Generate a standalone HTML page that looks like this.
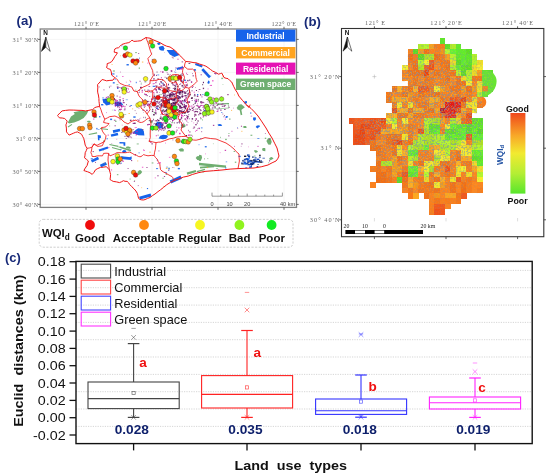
<!DOCTYPE html>
<html lang="en"><head><meta charset="utf-8"><title>Figure</title>
<style>html,body{margin:0;padding:0;background:#fff}body{width:550px;height:475px;overflow:hidden}svg{display:block}</style>
</head><body>
<svg width="550" height="475" viewBox="0 0 550 475">
<rect width="550" height="475" fill="#fff"/>
<g id="pa">
<line x1="86" y1="29.0" x2="86" y2="207.4" stroke="#efefef" stroke-width="0.6"/>
<line x1="152" y1="29.0" x2="152" y2="207.4" stroke="#efefef" stroke-width="0.6"/>
<line x1="218" y1="29.0" x2="218" y2="207.4" stroke="#efefef" stroke-width="0.6"/>
<line x1="284" y1="29.0" x2="284" y2="207.4" stroke="#efefef" stroke-width="0.6"/>
<line x1="40.2" y1="39.4" x2="296.5" y2="39.4" stroke="#f0f0f0" stroke-width="0.6"/>
<line x1="40.2" y1="72.4" x2="296.5" y2="72.4" stroke="#f0f0f0" stroke-width="0.6"/>
<line x1="40.2" y1="105.4" x2="296.5" y2="105.4" stroke="#f0f0f0" stroke-width="0.6"/>
<line x1="40.2" y1="138.4" x2="296.5" y2="138.4" stroke="#f0f0f0" stroke-width="0.6"/>
<line x1="40.2" y1="171.4" x2="296.5" y2="171.4" stroke="#f0f0f0" stroke-width="0.6"/>
<line x1="40.2" y1="204.4" x2="296.5" y2="204.4" stroke="#f0f0f0" stroke-width="0.6"/>
<g id="map_a">
<polygon points="67.8,122.4 71.0,116.6 74.8,114.1 73.5,112.2 79.3,110.9 88.2,110.9 86.9,114.1 83.7,117.9 79.3,120.5 74.2,122.4 69.1,123.6" fill="#6fae70" stroke="none" stroke-width="0" />
<polygon points="88.9,135.1 97.2,133.5 97.0,132.3 88.7,133.9" fill="#6fae70" stroke="none" stroke-width="0" />
<polygon points="109.3,145.1 118.2,147.0 118.4,145.8 109.5,143.9" fill="#6fae70" stroke="none" stroke-width="0" />
<polygon points="119.3,147.8 130.8,151.4 131.2,149.8 119.7,146.2" fill="#6fae70" stroke="none" stroke-width="0" />
<polygon points="111.9,148.0 120.9,150.5 121.1,149.5 112.1,147.0" fill="#6fae70" stroke="none" stroke-width="0" />
<polygon points="198.9,165.2 225.9,167.8 226.1,165.4 199.1,162.8" fill="#6fae70" stroke="none" stroke-width="0" />
<polygon points="200.1,168.4 214.1,167.2 213.9,165.6 199.9,166.8" fill="#6fae70" stroke="none" stroke-width="0" />
<polygon points="187.3,174.7 196.3,172.1 195.7,169.9 186.7,172.5" fill="#6fae70" stroke="none" stroke-width="0" />
<polygon points="217.0,105.1 229.0,104.1 229.0,103.1 217.0,104.1" fill="#6fae70" stroke="none" stroke-width="0" />
<polygon points="238.7,105.2 240.7,115.2 242.3,114.8 240.3,104.8" fill="#6fae70" stroke="none" stroke-width="0" />
<polygon points="100.0,129.1 108.0,129.9 108.0,128.9 100.0,128.1" fill="#6fae70" stroke="none" stroke-width="0" />
<polygon points="68.3,127.4 72.3,124.8 71.7,124.0 67.7,126.6" fill="#6fae70" stroke="none" stroke-width="0" />
<polygon points="204.8,168.8 196.8,171.0 197.2,172.2 205.2,170.0" fill="#6fae70" stroke="none" stroke-width="0" />
<polygon points="90.9,121.5 89.9,122.2 88.1,122.4 86.9,121.7 87.7,120.8 89.7,120.8" fill="#6fae70" stroke="none" stroke-width="0" />
<polygon points="142.2,172.0 140.7,174.0 138.1,175.2 137.5,172.1 139.1,170.2 140.8,170.2" fill="#6fae70" stroke="none" stroke-width="0" />
<polygon points="183.9,149.5 183.6,151.6 180.2,151.5 178.5,149.6 180.3,148.5 182.3,148.2" fill="#6fae70" stroke="none" stroke-width="0" />
<polygon points="200.9,158.4 200.0,160.2 197.4,160.0 195.7,158.0 197.0,156.3 200.1,155.9" fill="#6fae70" stroke="none" stroke-width="0" />
<polygon points="185.7,126.2 184.1,127.5 182.1,128.0 181.0,126.3 181.7,124.3 185.0,124.3" fill="#6fae70" stroke="none" stroke-width="0" />
<polygon points="271.7,142.0 270.6,144.8 268.2,144.4 266.4,140.9 268.1,138.2 270.5,137.8" fill="#6fae70" stroke="none" stroke-width="0" />
<polygon points="273.6,158.6 271.7,159.7 270.0,160.0 269.1,158.8 270.1,157.6 271.8,156.9" fill="#6fae70" stroke="none" stroke-width="0" />
<polygon points="246.7,126.9 246.3,128.0 244.3,127.9 242.5,127.0 244.1,125.9 245.8,126.1" fill="#6fae70" stroke="none" stroke-width="0" />
<polygon points="244.9,107.3 241.2,110.1 239.0,110.2 236.6,107.9 238.7,104.8 241.4,104.3" fill="#6fae70" stroke="none" stroke-width="0" />
<polygon points="202.1,157.8 200.7,161.1 198.9,160.8 198.5,157.8 199.2,154.7 201.5,155.2" fill="#6fae70" stroke="none" stroke-width="0" />
<polygon points="130.8,147.4 130.0,148.8 127.2,148.5 125.6,147.6 126.8,146.6 128.8,146.4" fill="#6fae70" stroke="none" stroke-width="0" />
<polygon points="96.8,116.9 96.6,117.9 94.1,117.7 93.2,117.1 94.2,116.4 96.6,116.0" fill="#6fae70" stroke="none" stroke-width="0" />
<polygon points="258.0,151.5 257.0,152.4 255.2,152.7 254.4,151.3 254.3,150.1 256.8,150.5" fill="#6fae70" stroke="none" stroke-width="0" />
<polygon points="265.4,149.5 265.3,151.2 262.6,150.8 262.2,149.6 262.6,148.1 265.2,148.0" fill="#6fae70" stroke="none" stroke-width="0" />
<polygon points="152.7,121.4 152.3,123.3 150.4,122.9 149.8,121.3 150.6,120.3 152.0,120.5" fill="#6fae70" stroke="none" stroke-width="0" />
<path d="M213 104 L228 103.4 L229 108 L216 109 Z" fill="none" stroke="#6fae70" stroke-width="0.6"/>
<rect x="136.7" y="143.5" width="2.1" height="0.9" fill="#6fae70" opacity="0.85"/>
<rect x="129.7" y="80.6" width="0.9" height="0.7" fill="#6fae70" opacity="0.85"/>
<rect x="202.3" y="171.5" width="1.9" height="0.9" fill="#6fae70" opacity="0.85"/>
<rect x="207.5" y="158.0" width="0.7" height="1.1" fill="#6fae70" opacity="0.85"/>
<rect x="253.8" y="155.6" width="1.8" height="0.9" fill="#6fae70" opacity="0.85"/>
<rect x="122.1" y="156.5" width="1.1" height="1.2" fill="#6fae70" opacity="0.85"/>
<rect x="162.2" y="177.8" width="1.8" height="0.7" fill="#6fae70" opacity="0.85"/>
<rect x="112.9" y="70.4" width="2.0" height="1.2" fill="#6fae70" opacity="0.85"/>
<rect x="116.3" y="161.6" width="2.2" height="1.1" fill="#6fae70" opacity="0.85"/>
<rect x="153.1" y="124.1" width="0.8" height="0.5" fill="#6fae70" opacity="0.85"/>
<rect x="264.8" y="137.7" width="1.4" height="1.3" fill="#6fae70" opacity="0.85"/>
<rect x="168.1" y="167.7" width="1.9" height="0.7" fill="#6fae70" opacity="0.85"/>
<rect x="135.3" y="89.6" width="1.0" height="1.0" fill="#6fae70" opacity="0.85"/>
<rect x="136.7" y="106.6" width="0.8" height="1.3" fill="#6fae70" opacity="0.85"/>
<rect x="153.7" y="111.9" width="1.5" height="1.3" fill="#6fae70" opacity="0.85"/>
<rect x="165.7" y="173.9" width="1.4" height="1.0" fill="#6fae70" opacity="0.85"/>
<rect x="169.2" y="74.7" width="0.6" height="1.2" fill="#6fae70" opacity="0.85"/>
<rect x="121.0" y="113.9" width="1.8" height="1.0" fill="#6fae70" opacity="0.85"/>
<rect x="148.7" y="120.0" width="1.5" height="1.2" fill="#6fae70" opacity="0.85"/>
<rect x="109.1" y="125.6" width="1.0" height="0.7" fill="#6fae70" opacity="0.85"/>
<rect x="229.0" y="118.5" width="1.5" height="1.2" fill="#6fae70" opacity="0.85"/>
<rect x="200.3" y="118.2" width="1.4" height="1.1" fill="#6fae70" opacity="0.85"/>
<rect x="171.4" y="122.0" width="1.4" height="1.3" fill="#6fae70" opacity="0.85"/>
<rect x="215.9" y="168.3" width="2.1" height="0.7" fill="#6fae70" opacity="0.85"/>
<rect x="111.9" y="109.7" width="0.7" height="0.7" fill="#6fae70" opacity="0.85"/>
<rect x="103.2" y="140.4" width="1.9" height="1.3" fill="#6fae70" opacity="0.85"/>
<rect x="117.8" y="146.7" width="1.7" height="0.6" fill="#6fae70" opacity="0.85"/>
<rect x="129.5" y="178.6" width="1.2" height="0.9" fill="#6fae70" opacity="0.85"/>
<rect x="268.2" y="162.4" width="0.9" height="0.9" fill="#6fae70" opacity="0.85"/>
<rect x="182.8" y="95.8" width="0.9" height="0.8" fill="#6fae70" opacity="0.85"/>
<rect x="189.7" y="109.5" width="0.6" height="0.8" fill="#6fae70" opacity="0.85"/>
<rect x="202.3" y="119.2" width="0.7" height="1.4" fill="#6fae70" opacity="0.85"/>
<rect x="108.9" y="85.9" width="0.7" height="1.2" fill="#6fae70" opacity="0.85"/>
<rect x="138.7" y="67.5" width="1.3" height="1.3" fill="#6fae70" opacity="0.85"/>
<rect x="116.9" y="174.1" width="1.5" height="1.1" fill="#6fae70" opacity="0.85"/>
<rect x="213.9" y="107.4" width="0.7" height="1.3" fill="#6fae70" opacity="0.85"/>
<rect x="204.2" y="158.2" width="0.7" height="1.3" fill="#6fae70" opacity="0.85"/>
<rect x="102.0" y="166.5" width="1.3" height="0.8" fill="#6fae70" opacity="0.85"/>
<rect x="189.6" y="175.1" width="1.0" height="0.6" fill="#6fae70" opacity="0.85"/>
<rect x="184.8" y="82.2" width="0.8" height="0.6" fill="#6fae70" opacity="0.85"/>
<rect x="146.2" y="91.2" width="1.8" height="0.8" fill="#6fae70" opacity="0.85"/>
<rect x="180.0" y="74.0" width="1.2" height="0.5" fill="#6fae70" opacity="0.85"/>
<rect x="135.1" y="52.1" width="1.8" height="1.0" fill="#6fae70" opacity="0.85"/>
<rect x="124.1" y="114.1" width="2.1" height="0.6" fill="#6fae70" opacity="0.85"/>
<rect x="237.4" y="108.3" width="1.4" height="1.3" fill="#6fae70" opacity="0.85"/>
<rect x="160.8" y="118.4" width="1.7" height="1.4" fill="#6fae70" opacity="0.85"/>
<rect x="151.7" y="162.4" width="1.7" height="1.1" fill="#6fae70" opacity="0.85"/>
<rect x="162.8" y="96.9" width="0.7" height="0.6" fill="#6fae70" opacity="0.85"/>
<rect x="102.7" y="150.0" width="1.0" height="0.6" fill="#6fae70" opacity="0.85"/>
<rect x="105.2" y="163.6" width="2.0" height="1.1" fill="#6fae70" opacity="0.85"/>
<rect x="140.7" y="82.7" width="1.1" height="0.9" fill="#6fae70" opacity="0.85"/>
<rect x="118.4" y="110.2" width="1.0" height="1.4" fill="#6fae70" opacity="0.85"/>
<rect x="134.0" y="180.4" width="1.1" height="0.8" fill="#6fae70" opacity="0.85"/>
<rect x="175.4" y="117.9" width="0.9" height="1.0" fill="#6fae70" opacity="0.85"/>
<rect x="106.2" y="103.9" width="0.7" height="0.5" fill="#6fae70" opacity="0.85"/>
<rect x="144.8" y="81.4" width="1.5" height="1.0" fill="#6fae70" opacity="0.85"/>
<rect x="225.1" y="138.8" width="1.7" height="1.3" fill="#6fae70" opacity="0.85"/>
<rect x="160.1" y="94.0" width="2.2" height="0.6" fill="#6fae70" opacity="0.85"/>
<rect x="220.3" y="136.8" width="0.7" height="1.3" fill="#6fae70" opacity="0.85"/>
<rect x="250.5" y="134.7" width="1.8" height="1.2" fill="#6fae70" opacity="0.85"/>
<rect x="115.1" y="120.7" width="1.4" height="1.3" fill="#6fae70" opacity="0.85"/>
<rect x="234.8" y="161.6" width="1.5" height="1.3" fill="#6fae70" opacity="0.85"/>
<rect x="212.9" y="143.6" width="1.0" height="0.5" fill="#6fae70" opacity="0.85"/>
<rect x="114.0" y="98.7" width="0.8" height="1.3" fill="#6fae70" opacity="0.85"/>
<rect x="190.5" y="134.7" width="1.6" height="1.1" fill="#6fae70" opacity="0.85"/>
<rect x="233.6" y="151.0" width="1.4" height="1.0" fill="#6fae70" opacity="0.85"/>
<rect x="222.6" y="84.0" width="0.7" height="0.7" fill="#6fae70" opacity="0.85"/>
<rect x="221.3" y="77.7" width="1.8" height="1.4" fill="#6fae70" opacity="0.85"/>
<rect x="178.9" y="101.6" width="1.4" height="1.1" fill="#6fae70" opacity="0.85"/>
<rect x="228.1" y="133.3" width="1.6" height="0.6" fill="#6fae70" opacity="0.85"/>
<rect x="116.5" y="84.3" width="1.8" height="0.8" fill="#6fae70" opacity="0.85"/>
<polygon points="166.6,50.0 174.3,50.0 179.4,55.1 174.3,57.0 169.8,54.5" fill="#1763ea" stroke="none" stroke-width="0" />
<polygon points="97.7,135.0 100.9,135.4 100.9,138.0 99.4,138.2 99.6,140.2 98.0,140.2" fill="#1763ea" stroke="none" stroke-width="0" />
<polygon points="119.5,142.0 125.3,142.2 125.3,145.7 123.6,145.7 123.4,143.6 119.5,143.4" fill="#1763ea" stroke="none" stroke-width="0" />
<polygon points="177.1,70.0 183.5,68.2 182.9,66.2 176.5,68.0" fill="#1763ea" stroke="none" stroke-width="0" />
<polygon points="195.0,64.9 202.0,67.4 202.6,65.6 195.6,63.1" fill="#1763ea" stroke="none" stroke-width="0" />
<polygon points="201.3,70.0 208.9,78.3 210.9,76.5 203.3,68.2" fill="#1763ea" stroke="none" stroke-width="0" />
<polygon points="99.4,151.6 108.4,148.4 107.6,146.4 98.6,149.6" fill="#1763ea" stroke="none" stroke-width="0" />
<polygon points="92.1,162.6 99.1,159.2 97.9,156.8 90.9,160.2" fill="#1763ea" stroke="none" stroke-width="0" />
<polygon points="171.1,183.6 181.9,178.8 180.5,175.6 169.7,180.4" fill="#1763ea" stroke="none" stroke-width="0" />
<polygon points="120.7,158.9 130.9,159.9 131.1,157.3 120.9,156.3" fill="#1763ea" stroke="none" stroke-width="0" />
<polygon points="101.1,167.3 106.8,164.7 105.6,162.1 99.9,164.7" fill="#1763ea" stroke="none" stroke-width="0" />
<polygon points="139.9,199.6 151.4,196.4 150.6,193.6 139.1,196.8" fill="#1763ea" stroke="none" stroke-width="0" />
<polygon points="113.3,132.9 120.3,131.3 119.7,128.7 112.7,130.3" fill="#1763ea" stroke="none" stroke-width="0" />
<polygon points="111.3,136.8 118.3,135.2 117.7,132.8 110.7,134.4" fill="#1763ea" stroke="none" stroke-width="0" />
<polygon points="160.4,43.5 160.3,44.4 158.4,45.1 157.4,44.0 157.2,42.9 158.6,42.4 160.2,42.7" fill="#1763ea" stroke="none" stroke-width="0" />
<polygon points="196.2,70.2 195.7,70.6 194.6,71.2 194.2,70.4 193.8,69.6 194.7,69.0 195.5,69.1" fill="#1763ea" stroke="none" stroke-width="0" />
<polygon points="209.7,82.3 209.4,83.5 208.2,83.8 207.3,83.1 207.9,81.6 208.2,80.6 209.4,81.0" fill="#1763ea" stroke="none" stroke-width="0" />
<polygon points="110.5,101.0 110.2,104.6 106.4,105.5 103.2,102.3 102.4,99.2 106.2,98.4 109.0,98.8" fill="#1763ea" stroke="none" stroke-width="0" />
<polygon points="123.1,104.6 121.5,106.1 118.6,106.2 115.1,106.1 114.3,102.7 117.9,101.6 121.0,102.1" fill="#1763ea" stroke="none" stroke-width="0" />
<polygon points="126.5,151.3 125.2,152.7 123.3,153.0 122.0,151.7 122.7,150.8 123.7,150.1 125.5,150.3" fill="#1763ea" stroke="none" stroke-width="0" />
<polygon points="167.9,136.8 166.0,138.7 162.9,139.2 158.6,138.4 160.2,135.7 163.2,134.8 167.2,135.2" fill="#1763ea" stroke="none" stroke-width="0" />
<polygon points="143.8,131.0 144.4,135.4 138.5,135.2 132.7,133.1 135.6,130.0 138.1,128.3 141.9,128.7" fill="#1763ea" stroke="none" stroke-width="0" />
<polygon points="163.0,124.2 162.5,128.5 158.0,128.2 155.4,126.5 155.7,123.2 157.9,121.4 161.8,122.6" fill="#1763ea" stroke="none" stroke-width="0" />
<polygon points="256.1,119.0 255.1,120.4 254.3,120.7 253.2,119.9 253.0,117.6 254.4,117.6 255.3,117.0" fill="#1763ea" stroke="none" stroke-width="0" />
<polygon points="259.9,126.7 258.8,127.3 257.5,128.4 255.7,127.1 256.6,125.7 257.4,125.4 259.4,125.2" fill="#1763ea" stroke="none" stroke-width="0" />
<polygon points="222.2,125.2 221.3,125.9 219.6,126.0 218.1,125.7 217.6,124.6 219.7,124.1 220.9,124.3" fill="#1763ea" stroke="none" stroke-width="0" />
<polygon points="228.2,117.1 227.3,117.5 226.1,118.0 225.4,117.4 225.6,116.7 226.1,116.1 227.7,116.3" fill="#1763ea" stroke="none" stroke-width="0" />
<polygon points="247.0,102.7 246.4,103.4 244.8,104.0 244.6,103.0 244.0,101.8 245.2,101.3 246.8,101.1" fill="#1763ea" stroke="none" stroke-width="0" />
<polygon points="131.7,157.8 131.6,159.4 130.8,159.6 129.9,158.7 130.3,157.3 131.0,156.2 131.6,156.8" fill="#1763ea" stroke="none" stroke-width="0" />
<polygon points="164.4,48.2 163.7,50.8 161.1,50.5 159.5,49.8 158.7,46.9 160.7,46.3 163.2,45.8" fill="#1763ea" stroke="none" stroke-width="0" />
<rect x="101.1" y="104.0" width="2.2" height="1.4" fill="#1763ea" opacity="0.9"/>
<rect x="212.9" y="101.8" width="1.3" height="0.8" fill="#1763ea" opacity="0.9"/>
<rect x="121.3" y="45.4" width="1.1" height="0.9" fill="#1763ea" opacity="0.9"/>
<rect x="156.0" y="168.2" width="2.1" height="0.9" fill="#1763ea" opacity="0.9"/>
<rect x="99.1" y="116.0" width="1.3" height="1.4" fill="#1763ea" opacity="0.9"/>
<rect x="125.7" y="99.6" width="2.2" height="0.5" fill="#1763ea" opacity="0.9"/>
<rect x="166.0" y="166.8" width="2.0" height="0.5" fill="#1763ea" opacity="0.9"/>
<rect x="152.7" y="85.8" width="2.3" height="1.1" fill="#1763ea" opacity="0.9"/>
<rect x="138.5" y="152.5" width="1.2" height="0.8" fill="#1763ea" opacity="0.9"/>
<rect x="90.7" y="158.3" width="2.2" height="1.1" fill="#1763ea" opacity="0.9"/>
<rect x="133.3" y="116.3" width="2.3" height="1.5" fill="#1763ea" opacity="0.9"/>
<rect x="161.5" y="82.7" width="1.4" height="1.0" fill="#1763ea" opacity="0.9"/>
<rect x="238.5" y="155.8" width="2.1" height="1.3" fill="#1763ea" opacity="0.9"/>
<rect x="202.3" y="94.2" width="1.2" height="0.9" fill="#1763ea" opacity="0.9"/>
<rect x="126.5" y="157.9" width="1.0" height="0.6" fill="#1763ea" opacity="0.9"/>
<rect x="96.3" y="127.9" width="1.2" height="1.5" fill="#1763ea" opacity="0.9"/>
<rect x="139.0" y="57.6" width="0.8" height="1.0" fill="#1763ea" opacity="0.9"/>
<rect x="221.3" y="112.0" width="1.0" height="0.9" fill="#1763ea" opacity="0.9"/>
<rect x="204.8" y="146.1" width="1.9" height="1.3" fill="#1763ea" opacity="0.9"/>
<rect x="194.9" y="100.9" width="1.9" height="0.7" fill="#1763ea" opacity="0.9"/>
<rect x="135.8" y="81.8" width="0.9" height="1.4" fill="#1763ea" opacity="0.9"/>
<rect x="197.0" y="94.0" width="1.3" height="1.5" fill="#1763ea" opacity="0.9"/>
<rect x="183.9" y="79.7" width="2.1" height="1.2" fill="#1763ea" opacity="0.9"/>
<rect x="177.8" y="167.9" width="2.1" height="1.4" fill="#1763ea" opacity="0.9"/>
<rect x="112.1" y="73.4" width="2.4" height="1.1" fill="#1763ea" opacity="0.9"/>
<rect x="250.2" y="112.4" width="1.1" height="1.3" fill="#1763ea" opacity="0.9"/>
<rect x="200.3" y="138.0" width="1.0" height="0.9" fill="#1763ea" opacity="0.9"/>
<rect x="116.2" y="75.6" width="1.1" height="1.1" fill="#1763ea" opacity="0.9"/>
<rect x="210.6" y="75.5" width="0.6" height="0.8" fill="#1763ea" opacity="0.9"/>
<rect x="215.5" y="72.8" width="1.2" height="0.7" fill="#1763ea" opacity="0.9"/>
<rect x="237.1" y="127.2" width="0.7" height="0.6" fill="#1763ea" opacity="0.9"/>
<rect x="163.1" y="127.5" width="1.8" height="0.6" fill="#1763ea" opacity="0.9"/>
<rect x="120.3" y="149.3" width="1.3" height="0.8" fill="#1763ea" opacity="0.9"/>
<rect x="146.9" y="188.0" width="1.2" height="1.1" fill="#1763ea" opacity="0.9"/>
<rect x="156.1" y="107.5" width="2.2" height="1.5" fill="#1763ea" opacity="0.9"/>
<rect x="157.3" y="74.6" width="1.9" height="0.7" fill="#1763ea" opacity="0.9"/>
<rect x="168.4" y="168.1" width="1.3" height="1.4" fill="#1763ea" opacity="0.9"/>
<rect x="175.3" y="69.4" width="0.6" height="1.1" fill="#1763ea" opacity="0.9"/>
<rect x="106.5" y="138.3" width="1.3" height="1.0" fill="#1763ea" opacity="0.9"/>
<rect x="117.0" y="87.5" width="1.5" height="1.4" fill="#1763ea" opacity="0.9"/>
<rect x="110.1" y="118.6" width="2.0" height="1.5" fill="#1763ea" opacity="0.9"/>
<rect x="126.5" y="64.0" width="2.3" height="1.5" fill="#1763ea" opacity="0.9"/>
<rect x="257.3" y="138.1" width="2.1" height="0.7" fill="#1763ea" opacity="0.9"/>
<rect x="164.8" y="172.0" width="2.1" height="0.7" fill="#1763ea" opacity="0.9"/>
<rect x="130.4" y="105.0" width="1.5" height="0.9" fill="#1763ea" opacity="0.9"/>
<rect x="112.8" y="82.1" width="1.9" height="1.4" fill="#1763ea" opacity="0.9"/>
<rect x="97.6" y="129.4" width="2.0" height="0.5" fill="#1763ea" opacity="0.9"/>
<rect x="200.9" y="127.5" width="1.7" height="0.8" fill="#1763ea" opacity="0.9"/>
<rect x="167.7" y="132.4" width="1.4" height="1.2" fill="#1763ea" opacity="0.9"/>
<rect x="172.7" y="110.8" width="0.6" height="1.1" fill="#1763ea" opacity="0.9"/>
<rect x="180.6" y="80.3" width="2.0" height="1.3" fill="#1763ea" opacity="0.9"/>
<rect x="174.8" y="71.9" width="1.5" height="0.6" fill="#1763ea" opacity="0.9"/>
<rect x="113.8" y="109.6" width="0.8" height="0.9" fill="#1763ea" opacity="0.9"/>
<rect x="225.7" y="161.6" width="1.5" height="0.6" fill="#1763ea" opacity="0.9"/>
<rect x="183.2" y="101.7" width="2.3" height="0.6" fill="#1763ea" opacity="0.9"/>
<rect x="225.4" y="167.2" width="0.9" height="1.5" fill="#1763ea" opacity="0.9"/>
<rect x="102.1" y="97.6" width="2.0" height="0.7" fill="#1763ea" opacity="0.9"/>
<rect x="128.5" y="84.4" width="1.5" height="0.8" fill="#1763ea" opacity="0.9"/>
<rect x="121.2" y="162.7" width="0.8" height="1.0" fill="#1763ea" opacity="0.9"/>
<rect x="207.7" y="99.0" width="2.2" height="1.1" fill="#1763ea" opacity="0.9"/>
<rect x="206.5" y="104.1" width="2.0" height="0.8" fill="#1763ea" opacity="0.9"/>
<rect x="156.6" y="159.7" width="1.4" height="0.7" fill="#1763ea" opacity="0.9"/>
<rect x="198.4" y="144.6" width="1.2" height="0.5" fill="#1763ea" opacity="0.9"/>
<rect x="204.0" y="109.8" width="1.5" height="1.4" fill="#1763ea" opacity="0.9"/>
<rect x="114.4" y="79.1" width="1.8" height="0.5" fill="#1763ea" opacity="0.9"/>
<rect x="256.6" y="161.1" width="1.7" height="1.3" fill="#123a9a"/>
<rect x="246.7" y="162.5" width="1.2" height="1.4" fill="#0c2a70"/>
<rect x="247.8" y="161.3" width="2.1" height="1.2" fill="#0c2a70"/>
<rect x="254.1" y="161.8" width="1.5" height="1.0" fill="#1763ea"/>
<rect x="259.6" y="161.4" width="2.4" height="1.4" fill="#223"/>
<rect x="243.8" y="158.8" width="2.1" height="1.0" fill="#223"/>
<rect x="252.5" y="160.4" width="0.8" height="0.9" fill="#223"/>
<rect x="257.5" y="164.0" width="1.1" height="0.9" fill="#0c2a70"/>
<rect x="245.4" y="158.4" width="2.3" height="0.9" fill="#1b4fc0"/>
<rect x="249.2" y="163.8" width="2.6" height="1.5" fill="#123a9a"/>
<rect x="243.6" y="161.6" width="2.3" height="1.5" fill="#1b4fc0"/>
<rect x="241.4" y="162.2" width="1.1" height="1.8" fill="#1b4fc0"/>
<rect x="250.4" y="166.0" width="1.4" height="1.5" fill="#123a9a"/>
<rect x="247.1" y="154.6" width="1.3" height="1.3" fill="#123a9a"/>
<rect x="241.3" y="163.4" width="2.5" height="1.0" fill="#223"/>
<rect x="262.5" y="157.8" width="2.4" height="0.7" fill="#123a9a"/>
<rect x="250.7" y="163.6" width="2.5" height="1.5" fill="#0c2a70"/>
<rect x="245.3" y="167.4" width="1.9" height="1.1" fill="#1763ea"/>
<rect x="259.1" y="154.7" width="1.6" height="1.6" fill="#223"/>
<rect x="247.2" y="154.5" width="2.5" height="1.0" fill="#1b4fc0"/>
<rect x="258.9" y="156.9" width="1.9" height="0.8" fill="#1b4fc0"/>
<rect x="253.8" y="160.0" width="1.0" height="1.4" fill="#123a9a"/>
<rect x="250.5" y="160.2" width="2.0" height="1.4" fill="#0c2a70"/>
<rect x="247.8" y="155.6" width="2.3" height="1.5" fill="#123a9a"/>
<rect x="242.3" y="159.9" width="1.0" height="0.9" fill="#1b4fc0"/>
<rect x="252.2" y="161.6" width="2.3" height="1.4" fill="#123a9a"/>
<rect x="250.4" y="162.6" width="2.2" height="1.4" fill="#123a9a"/>
<rect x="249.5" y="164.0" width="0.8" height="1.0" fill="#1763ea"/>
<rect x="249.1" y="166.4" width="2.4" height="1.5" fill="#1763ea"/>
<rect x="245.5" y="158.6" width="1.9" height="0.7" fill="#1763ea"/>
<rect x="245.5" y="163.0" width="1.4" height="1.5" fill="#123a9a"/>
<rect x="246.9" y="160.4" width="1.8" height="1.0" fill="#123a9a"/>
<rect x="244.3" y="162.7" width="2.2" height="1.8" fill="#1763ea"/>
<rect x="258.0" y="161.1" width="2.1" height="1.6" fill="#1b4fc0"/>
<rect x="258.9" y="160.0" width="1.3" height="1.7" fill="#223"/>
<rect x="250.1" y="163.4" width="1.7" height="0.8" fill="#0c2a70"/>
<rect x="249.4" y="159.9" width="2.2" height="1.4" fill="#223"/>
<rect x="247.3" y="163.8" width="2.4" height="1.5" fill="#1b4fc0"/>
<rect x="243.4" y="163.4" width="1.2" height="1.0" fill="#1763ea"/>
<rect x="256.8" y="158.6" width="2.6" height="1.4" fill="#1b4fc0"/>
<rect x="253.9" y="160.4" width="2.2" height="1.5" fill="#223"/>
<rect x="247.6" y="158.4" width="1.7" height="1.7" fill="#1763ea"/>
<rect x="243.7" y="162.4" width="1.1" height="1.2" fill="#1763ea"/>
<rect x="252.2" y="156.4" width="1.4" height="1.4" fill="#0c2a70"/>
<rect x="248.6" y="157.1" width="1.3" height="1.5" fill="#1763ea"/>
<rect x="252.9" y="159.3" width="2.6" height="1.5" fill="#0c2a70"/>
<rect x="246.6" y="159.0" width="1.4" height="0.9" fill="#0c2a70"/>
<rect x="260.6" y="160.1" width="1.1" height="1.4" fill="#123a9a"/>
<rect x="252.2" y="162.9" width="2.2" height="1.5" fill="#0c2a70"/>
<rect x="247.4" y="161.9" width="1.3" height="1.7" fill="#123a9a"/>
<rect x="250.1" y="161.1" width="2.0" height="1.3" fill="#1b4fc0"/>
<rect x="246.5" y="158.1" width="1.3" height="1.5" fill="#0c2a70"/>
<rect x="255.5" y="161.1" width="2.1" height="1.3" fill="#1b4fc0"/>
<rect x="244.0" y="155.6" width="2.3" height="1.4" fill="#223"/>
<rect x="246.8" y="158.0" width="1.3" height="1.5" fill="#1763ea"/>
<rect x="254.5" y="159.4" width="2.1" height="1.4" fill="#1b4fc0"/>
<rect x="251.0" y="164.7" width="0.8" height="1.6" fill="#1b4fc0"/>
<rect x="242.2" y="160.4" width="2.4" height="1.1" fill="#0c2a70"/>
<rect x="262.3" y="161.4" width="0.9" height="1.3" fill="#123a9a"/>
<rect x="256.6" y="166.2" width="1.7" height="0.8" fill="#0c2a70"/>
<rect x="244.3" y="159.0" width="1.7" height="1.4" fill="#1b4fc0"/>
<rect x="254.5" y="157.3" width="2.1" height="1.2" fill="#1b4fc0"/>
<rect x="254.8" y="160.9" width="2.2" height="0.8" fill="#223"/>
<rect x="256.6" y="160.7" width="1.3" height="1.1" fill="#123a9a"/>
<rect x="253.2" y="161.5" width="1.9" height="1.4" fill="#1b4fc0"/>
<rect x="248.5" y="160.2" width="2.1" height="1.7" fill="#1763ea"/>
<rect x="246.8" y="160.6" width="1.6" height="0.9" fill="#1b4fc0"/>
<rect x="179.8" y="100.6" width="1.1" height="1.1" fill="#5a1460" opacity="0.9"/>
<rect x="180.6" y="141.2" width="1.4" height="1.3" fill="#6a2060" opacity="0.9"/>
<rect x="178.9" y="88.1" width="1.5" height="1.1" fill="#8a2a80" opacity="0.9"/>
<rect x="177.6" y="86.4" width="0.8" height="0.9" fill="#5a1460" opacity="0.9"/>
<rect x="173.6" y="118.8" width="1.1" height="1.3" fill="#7a1070" opacity="0.9"/>
<rect x="178.8" y="89.5" width="0.9" height="1.0" fill="#8a2a80" opacity="0.9"/>
<rect x="168.9" y="98.6" width="0.7" height="0.8" fill="#6a2060" opacity="0.9"/>
<rect x="168.6" y="107.2" width="1.5" height="0.6" fill="#6a2060" opacity="0.9"/>
<rect x="185.8" y="84.5" width="1.4" height="0.7" fill="#e512b4" opacity="0.9"/>
<rect x="186.7" y="108.5" width="1.3" height="1.4" fill="#a01088" opacity="0.9"/>
<rect x="181.3" y="118.1" width="0.8" height="0.9" fill="#7a1070" opacity="0.9"/>
<rect x="151.2" y="98.6" width="1.4" height="1.4" fill="#a01088" opacity="0.9"/>
<rect x="181.7" y="75.2" width="1.1" height="0.7" fill="#5a1460" opacity="0.9"/>
<rect x="202.6" y="116.6" width="1.2" height="0.8" fill="#a01088" opacity="0.9"/>
<rect x="174.9" y="111.2" width="1.2" height="1.0" fill="#903080" opacity="0.9"/>
<rect x="195.9" y="90.0" width="1.1" height="1.0" fill="#5a1460" opacity="0.9"/>
<rect x="175.3" y="101.7" width="1.1" height="1.1" fill="#6a2060" opacity="0.9"/>
<rect x="157.5" y="78.2" width="1.1" height="1.5" fill="#6a2060" opacity="0.9"/>
<rect x="169.2" y="94.5" width="1.3" height="0.5" fill="#6a2060" opacity="0.9"/>
<rect x="154.1" y="88.6" width="1.6" height="0.6" fill="#6a2060" opacity="0.9"/>
<rect x="145.5" y="105.5" width="0.5" height="1.2" fill="#7a1070" opacity="0.9"/>
<rect x="163.1" y="93.3" width="0.9" height="1.3" fill="#6a2060" opacity="0.9"/>
<rect x="138.6" y="92.0" width="1.1" height="0.9" fill="#8a2a80" opacity="0.9"/>
<rect x="144.0" y="93.6" width="1.0" height="1.0" fill="#8a2a80" opacity="0.9"/>
<rect x="149.4" y="140.4" width="0.9" height="0.7" fill="#3c1040" opacity="0.9"/>
<rect x="165.5" y="103.4" width="0.9" height="0.8" fill="#5a1460" opacity="0.9"/>
<rect x="153.3" y="92.0" width="1.0" height="1.1" fill="#e512b4" opacity="0.9"/>
<rect x="155.6" y="113.9" width="0.9" height="0.5" fill="#501050" opacity="0.9"/>
<rect x="188.1" y="134.5" width="1.5" height="1.4" fill="#e512b4" opacity="0.9"/>
<rect x="156.0" y="89.6" width="0.8" height="1.2" fill="#a01088" opacity="0.9"/>
<rect x="146.2" y="109.7" width="1.4" height="1.4" fill="#a01088" opacity="0.9"/>
<rect x="167.1" y="106.3" width="1.0" height="1.3" fill="#e512b4" opacity="0.9"/>
<rect x="179.0" y="84.2" width="1.6" height="0.7" fill="#8a2a80" opacity="0.9"/>
<rect x="177.4" y="103.7" width="1.1" height="1.0" fill="#e512b4" opacity="0.9"/>
<rect x="187.3" y="79.9" width="1.2" height="1.4" fill="#501050" opacity="0.9"/>
<rect x="171.3" y="103.8" width="1.3" height="1.5" fill="#501050" opacity="0.9"/>
<rect x="168.7" y="95.7" width="1.2" height="0.6" fill="#501050" opacity="0.9"/>
<rect x="138.4" y="108.5" width="1.1" height="0.5" fill="#e512b4" opacity="0.9"/>
<rect x="149.8" y="64.5" width="0.8" height="0.6" fill="#a01088" opacity="0.9"/>
<rect x="160.6" y="105.1" width="1.1" height="1.2" fill="#5a1460" opacity="0.9"/>
<rect x="188.4" y="96.3" width="1.4" height="0.6" fill="#7a1070" opacity="0.9"/>
<rect x="155.5" y="86.0" width="1.4" height="1.4" fill="#903080" opacity="0.9"/>
<rect x="178.8" y="100.4" width="0.5" height="0.5" fill="#e512b4" opacity="0.9"/>
<rect x="155.7" y="80.6" width="1.0" height="0.8" fill="#a01088" opacity="0.9"/>
<rect x="139.4" y="80.8" width="1.3" height="0.8" fill="#903080" opacity="0.9"/>
<rect x="200.0" y="95.3" width="1.4" height="0.6" fill="#903080" opacity="0.9"/>
<rect x="178.7" y="89.4" width="1.3" height="0.9" fill="#7a1070" opacity="0.9"/>
<rect x="151.5" y="120.3" width="1.5" height="1.1" fill="#8a2a80" opacity="0.9"/>
<rect x="172.4" y="108.1" width="1.6" height="1.2" fill="#6a2060" opacity="0.9"/>
<rect x="183.7" y="103.8" width="1.3" height="1.5" fill="#8a2a80" opacity="0.9"/>
<rect x="174.4" y="117.8" width="1.3" height="1.4" fill="#501050" opacity="0.9"/>
<rect x="178.9" y="91.5" width="0.9" height="0.8" fill="#e512b4" opacity="0.9"/>
<rect x="195.1" y="131.2" width="0.9" height="0.6" fill="#e512b4" opacity="0.9"/>
<rect x="215.3" y="73.1" width="0.9" height="1.4" fill="#7a1070" opacity="0.9"/>
<rect x="183.1" y="81.7" width="1.0" height="0.6" fill="#903080" opacity="0.9"/>
<rect x="145.3" y="94.1" width="1.5" height="1.2" fill="#5a1460" opacity="0.9"/>
<rect x="188.5" y="101.6" width="1.4" height="1.0" fill="#e512b4" opacity="0.9"/>
<rect x="177.5" y="114.1" width="1.5" height="1.0" fill="#e512b4" opacity="0.9"/>
<rect x="200.3" y="117.2" width="0.8" height="1.1" fill="#a01088" opacity="0.9"/>
<rect x="202.2" y="84.2" width="0.9" height="1.0" fill="#3c1040" opacity="0.9"/>
<rect x="177.5" y="112.9" width="0.7" height="1.2" fill="#a01088" opacity="0.9"/>
<rect x="159.7" y="117.7" width="1.5" height="1.4" fill="#501050" opacity="0.9"/>
<rect x="174.9" y="136.9" width="1.0" height="0.6" fill="#903080" opacity="0.9"/>
<rect x="153.9" y="83.5" width="0.9" height="0.5" fill="#7a1070" opacity="0.9"/>
<rect x="169.6" y="123.1" width="0.5" height="1.5" fill="#a01088" opacity="0.9"/>
<rect x="187.1" y="90.1" width="0.8" height="1.3" fill="#5a1460" opacity="0.9"/>
<rect x="137.2" y="119.3" width="0.8" height="0.5" fill="#7a1070" opacity="0.9"/>
<rect x="177.3" y="112.0" width="0.5" height="0.5" fill="#a01088" opacity="0.9"/>
<rect x="155.8" y="120.1" width="1.7" height="1.4" fill="#903080" opacity="0.9"/>
<rect x="195.1" y="110.9" width="1.7" height="1.2" fill="#501050" opacity="0.9"/>
<rect x="186.6" y="110.0" width="1.3" height="1.5" fill="#5a1460" opacity="0.9"/>
<rect x="165.8" y="89.9" width="1.6" height="0.9" fill="#903080" opacity="0.9"/>
<rect x="176.5" y="126.9" width="0.6" height="0.8" fill="#7a1070" opacity="0.9"/>
<rect x="152.1" y="129.0" width="1.6" height="0.5" fill="#e512b4" opacity="0.9"/>
<rect x="180.1" y="80.0" width="0.6" height="0.6" fill="#903080" opacity="0.9"/>
<rect x="175.3" y="67.5" width="1.3" height="0.9" fill="#8a2a80" opacity="0.9"/>
<rect x="163.0" y="89.2" width="0.8" height="0.6" fill="#6a2060" opacity="0.9"/>
<rect x="163.7" y="104.1" width="1.5" height="1.4" fill="#5a1460" opacity="0.9"/>
<rect x="188.9" y="92.4" width="1.5" height="0.7" fill="#5a1460" opacity="0.9"/>
<rect x="177.4" y="97.8" width="1.7" height="0.6" fill="#6a2060" opacity="0.9"/>
<rect x="166.7" y="105.2" width="1.6" height="1.1" fill="#501050" opacity="0.9"/>
<rect x="159.2" y="107.0" width="1.1" height="1.1" fill="#5a1460" opacity="0.9"/>
<rect x="181.5" y="111.3" width="0.7" height="1.0" fill="#e512b4" opacity="0.9"/>
<rect x="188.0" y="92.7" width="0.8" height="0.9" fill="#7a1070" opacity="0.9"/>
<rect x="181.6" y="112.9" width="0.9" height="0.7" fill="#8a2a80" opacity="0.9"/>
<rect x="159.1" y="103.7" width="0.6" height="1.5" fill="#903080" opacity="0.9"/>
<rect x="207.8" y="114.1" width="1.2" height="1.3" fill="#5a1460" opacity="0.9"/>
<rect x="194.9" y="120.1" width="1.1" height="0.8" fill="#6a2060" opacity="0.9"/>
<rect x="174.9" y="114.0" width="0.9" height="1.4" fill="#501050" opacity="0.9"/>
<rect x="199.6" y="111.5" width="0.7" height="1.1" fill="#8a2a80" opacity="0.9"/>
<rect x="155.1" y="109.4" width="0.7" height="0.5" fill="#3c1040" opacity="0.9"/>
<rect x="184.3" y="87.1" width="1.0" height="0.5" fill="#7a1070" opacity="0.9"/>
<rect x="162.5" y="109.5" width="0.7" height="0.7" fill="#7a1070" opacity="0.9"/>
<rect x="177.4" y="79.5" width="1.3" height="1.3" fill="#5a1460" opacity="0.9"/>
<rect x="195.1" y="87.4" width="0.7" height="0.6" fill="#8a2a80" opacity="0.9"/>
<rect x="162.5" y="84.5" width="1.3" height="0.7" fill="#5a1460" opacity="0.9"/>
<rect x="199.3" y="112.8" width="1.6" height="1.4" fill="#501050" opacity="0.9"/>
<rect x="158.4" y="101.4" width="1.6" height="1.4" fill="#8a2a80" opacity="0.9"/>
<rect x="171.0" y="103.1" width="0.7" height="1.2" fill="#903080" opacity="0.9"/>
<rect x="174.2" y="122.3" width="0.5" height="1.2" fill="#6a2060" opacity="0.9"/>
<rect x="144.1" y="89.6" width="1.2" height="0.9" fill="#6a2060" opacity="0.9"/>
<rect x="165.4" y="102.3" width="1.6" height="1.4" fill="#5a1460" opacity="0.9"/>
<rect x="162.4" y="124.3" width="1.2" height="1.4" fill="#501050" opacity="0.9"/>
<rect x="171.9" y="109.9" width="1.1" height="0.5" fill="#903080" opacity="0.9"/>
<rect x="177.1" y="95.4" width="1.8" height="0.7" fill="#5a1460" opacity="0.9"/>
<rect x="177.3" y="109.4" width="1.2" height="1.5" fill="#8a2a80" opacity="0.9"/>
<rect x="212.5" y="107.2" width="0.8" height="1.3" fill="#5a1460" opacity="0.9"/>
<rect x="161.6" y="90.3" width="1.4" height="0.6" fill="#5a1460" opacity="0.9"/>
<rect x="192.4" y="85.6" width="0.9" height="1.0" fill="#e512b4" opacity="0.9"/>
<rect x="149.3" y="89.9" width="0.7" height="0.9" fill="#a01088" opacity="0.9"/>
<rect x="188.8" y="118.2" width="0.7" height="1.1" fill="#5a1460" opacity="0.9"/>
<rect x="173.8" y="94.0" width="1.7" height="0.9" fill="#e512b4" opacity="0.9"/>
<rect x="145.4" y="116.8" width="0.5" height="1.5" fill="#3c1040" opacity="0.9"/>
<rect x="189.3" y="107.6" width="0.8" height="0.8" fill="#501050" opacity="0.9"/>
<rect x="129.9" y="119.7" width="1.6" height="1.3" fill="#6a2060" opacity="0.9"/>
<rect x="193.4" y="109.0" width="0.8" height="0.9" fill="#6a2060" opacity="0.9"/>
<rect x="163.1" y="92.4" width="0.7" height="0.8" fill="#3c1040" opacity="0.9"/>
<rect x="181.7" y="124.3" width="0.7" height="1.5" fill="#5a1460" opacity="0.9"/>
<rect x="180.6" y="68.2" width="1.6" height="1.4" fill="#e512b4" opacity="0.9"/>
<rect x="177.4" y="100.4" width="1.7" height="1.1" fill="#8a2a80" opacity="0.9"/>
<rect x="152.7" y="83.4" width="1.3" height="0.8" fill="#e512b4" opacity="0.9"/>
<rect x="156.0" y="101.0" width="0.9" height="0.8" fill="#e512b4" opacity="0.9"/>
<rect x="168.8" y="96.9" width="1.7" height="0.6" fill="#3c1040" opacity="0.9"/>
<rect x="140.8" y="84.3" width="0.7" height="0.6" fill="#903080" opacity="0.9"/>
<rect x="169.3" y="117.8" width="0.9" height="1.2" fill="#8a2a80" opacity="0.9"/>
<rect x="173.2" y="90.7" width="1.3" height="1.1" fill="#903080" opacity="0.9"/>
<rect x="167.3" y="94.9" width="1.1" height="1.0" fill="#6a2060" opacity="0.9"/>
<rect x="159.5" y="92.0" width="0.5" height="0.8" fill="#8a2a80" opacity="0.9"/>
<rect x="182.0" y="120.5" width="0.5" height="0.9" fill="#501050" opacity="0.9"/>
<rect x="182.1" y="94.6" width="0.9" height="0.8" fill="#3c1040" opacity="0.9"/>
<rect x="182.6" y="95.8" width="1.5" height="0.7" fill="#e512b4" opacity="0.9"/>
<rect x="205.4" y="115.4" width="1.4" height="1.0" fill="#903080" opacity="0.9"/>
<rect x="182.0" y="90.9" width="1.2" height="1.5" fill="#a01088" opacity="0.9"/>
<rect x="156.6" y="71.6" width="0.9" height="0.9" fill="#501050" opacity="0.9"/>
<rect x="163.4" y="84.5" width="1.6" height="1.0" fill="#8a2a80" opacity="0.9"/>
<rect x="172.0" y="78.3" width="0.8" height="1.1" fill="#903080" opacity="0.9"/>
<rect x="156.1" y="85.7" width="1.6" height="0.5" fill="#501050" opacity="0.9"/>
<rect x="176.2" y="83.2" width="1.0" height="1.5" fill="#903080" opacity="0.9"/>
<rect x="193.5" y="126.6" width="1.6" height="1.1" fill="#8a2a80" opacity="0.9"/>
<rect x="160.4" y="114.3" width="0.9" height="0.9" fill="#903080" opacity="0.9"/>
<rect x="161.5" y="117.6" width="1.3" height="0.5" fill="#501050" opacity="0.9"/>
<rect x="172.6" y="57.6" width="1.1" height="0.7" fill="#501050" opacity="0.9"/>
<rect x="170.8" y="110.9" width="1.3" height="0.6" fill="#501050" opacity="0.9"/>
<rect x="187.2" y="96.6" width="1.7" height="0.7" fill="#5a1460" opacity="0.9"/>
<rect x="140.6" y="117.7" width="0.5" height="0.8" fill="#e512b4" opacity="0.9"/>
<rect x="185.4" y="95.3" width="1.5" height="1.0" fill="#3c1040" opacity="0.9"/>
<rect x="194.5" y="102.8" width="1.4" height="0.9" fill="#3c1040" opacity="0.9"/>
<rect x="169.2" y="104.0" width="1.1" height="0.5" fill="#6a2060" opacity="0.9"/>
<rect x="185.2" y="107.5" width="1.0" height="0.9" fill="#501050" opacity="0.9"/>
<rect x="153.4" y="95.6" width="1.8" height="1.0" fill="#5a1460" opacity="0.9"/>
<rect x="151.9" y="110.7" width="1.4" height="1.2" fill="#6a2060" opacity="0.9"/>
<rect x="187.5" y="110.8" width="1.8" height="1.3" fill="#6a2060" opacity="0.9"/>
<rect x="165.8" y="102.4" width="1.4" height="1.3" fill="#8a2a80" opacity="0.9"/>
<rect x="209.5" y="101.1" width="1.3" height="1.0" fill="#501050" opacity="0.9"/>
<rect x="178.7" y="93.6" width="1.0" height="0.6" fill="#5a1460" opacity="0.9"/>
<rect x="166.6" y="100.2" width="1.4" height="0.5" fill="#e512b4" opacity="0.9"/>
<rect x="200.8" y="103.4" width="0.5" height="0.8" fill="#3c1040" opacity="0.9"/>
<rect x="186.4" y="86.3" width="0.8" height="1.0" fill="#e512b4" opacity="0.9"/>
<rect x="161.4" y="99.1" width="1.2" height="0.6" fill="#3c1040" opacity="0.9"/>
<rect x="181.3" y="122.3" width="0.7" height="1.3" fill="#7a1070" opacity="0.9"/>
<rect x="180.1" y="107.3" width="1.7" height="1.0" fill="#7a1070" opacity="0.9"/>
<rect x="156.3" y="106.2" width="1.3" height="1.2" fill="#e512b4" opacity="0.9"/>
<rect x="165.7" y="99.0" width="1.0" height="0.7" fill="#5a1460" opacity="0.9"/>
<rect x="173.2" y="109.8" width="1.0" height="0.9" fill="#a01088" opacity="0.9"/>
<rect x="169.7" y="106.3" width="1.3" height="1.5" fill="#501050" opacity="0.9"/>
<rect x="152.0" y="110.7" width="0.8" height="0.7" fill="#5a1460" opacity="0.9"/>
<rect x="165.0" y="98.2" width="1.7" height="1.3" fill="#e512b4" opacity="0.9"/>
<rect x="166.4" y="122.2" width="1.8" height="0.6" fill="#903080" opacity="0.9"/>
<rect x="162.8" y="82.8" width="1.0" height="0.9" fill="#5a1460" opacity="0.9"/>
<rect x="173.1" y="99.9" width="0.6" height="0.7" fill="#5a1460" opacity="0.9"/>
<rect x="172.5" y="104.3" width="1.0" height="0.9" fill="#8a2a80" opacity="0.9"/>
<rect x="156.5" y="129.2" width="1.0" height="0.6" fill="#6a2060" opacity="0.9"/>
<rect x="196.7" y="122.6" width="1.2" height="0.9" fill="#6a2060" opacity="0.9"/>
<rect x="158.7" y="105.8" width="0.5" height="1.2" fill="#501050" opacity="0.9"/>
<rect x="168.6" y="110.3" width="0.6" height="0.8" fill="#7a1070" opacity="0.9"/>
<rect x="178.5" y="96.2" width="1.1" height="1.3" fill="#903080" opacity="0.9"/>
<rect x="175.0" y="117.3" width="1.4" height="0.9" fill="#5a1460" opacity="0.9"/>
<rect x="185.2" y="100.4" width="1.2" height="0.7" fill="#903080" opacity="0.9"/>
<rect x="165.4" y="105.3" width="1.3" height="0.9" fill="#8a2a80" opacity="0.9"/>
<rect x="195.0" y="101.8" width="1.3" height="0.7" fill="#501050" opacity="0.9"/>
<rect x="180.1" y="97.5" width="0.6" height="1.4" fill="#3c1040" opacity="0.9"/>
<rect x="171.4" y="77.6" width="1.4" height="1.1" fill="#e512b4" opacity="0.9"/>
<rect x="167.7" y="116.8" width="1.4" height="1.3" fill="#a01088" opacity="0.9"/>
<rect x="175.3" y="112.6" width="0.6" height="1.4" fill="#a01088" opacity="0.9"/>
<rect x="183.7" y="79.2" width="0.6" height="0.8" fill="#5a1460" opacity="0.9"/>
<rect x="175.3" y="110.7" width="0.9" height="0.9" fill="#501050" opacity="0.9"/>
<rect x="198.7" y="89.0" width="1.7" height="0.7" fill="#7a1070" opacity="0.9"/>
<rect x="153.6" y="123.0" width="1.7" height="0.5" fill="#6a2060" opacity="0.9"/>
<rect x="168.6" y="87.0" width="1.0" height="1.1" fill="#501050" opacity="0.9"/>
<rect x="177.5" y="109.7" width="1.4" height="0.5" fill="#5a1460" opacity="0.9"/>
<rect x="183.8" y="105.2" width="1.5" height="0.7" fill="#5a1460" opacity="0.9"/>
<rect x="172.4" y="84.0" width="1.2" height="0.7" fill="#7a1070" opacity="0.9"/>
<rect x="153.4" y="103.2" width="1.4" height="1.1" fill="#501050" opacity="0.9"/>
<rect x="181.6" y="100.1" width="1.7" height="1.4" fill="#8a2a80" opacity="0.9"/>
<rect x="151.4" y="91.2" width="1.4" height="0.5" fill="#5a1460" opacity="0.9"/>
<rect x="161.7" y="126.6" width="1.5" height="0.6" fill="#6a2060" opacity="0.9"/>
<rect x="168.2" y="88.9" width="0.9" height="0.6" fill="#5a1460" opacity="0.9"/>
<rect x="190.9" y="97.8" width="1.4" height="1.2" fill="#6a2060" opacity="0.9"/>
<rect x="185.5" y="84.5" width="1.2" height="1.2" fill="#903080" opacity="0.9"/>
<rect x="180.9" y="124.6" width="1.1" height="0.7" fill="#7a1070" opacity="0.9"/>
<rect x="204.3" y="94.7" width="0.8" height="1.0" fill="#3c1040" opacity="0.9"/>
<rect x="197.8" y="98.9" width="0.8" height="1.5" fill="#3c1040" opacity="0.9"/>
<rect x="181.7" y="115.1" width="0.8" height="0.8" fill="#a01088" opacity="0.9"/>
<rect x="191.4" y="120.8" width="0.8" height="0.7" fill="#903080" opacity="0.9"/>
<rect x="155.6" y="101.4" width="1.4" height="0.6" fill="#6a2060" opacity="0.9"/>
<rect x="168.1" y="83.7" width="0.9" height="1.3" fill="#5a1460" opacity="0.9"/>
<rect x="146.6" y="95.4" width="1.4" height="0.7" fill="#7a1070" opacity="0.9"/>
<rect x="206.2" y="99.3" width="1.6" height="0.6" fill="#501050" opacity="0.9"/>
<rect x="170.1" y="116.8" width="0.6" height="1.4" fill="#5a1460" opacity="0.9"/>
<rect x="171.3" y="109.8" width="1.1" height="0.6" fill="#8a2a80" opacity="0.9"/>
<rect x="165.4" y="118.1" width="0.9" height="1.1" fill="#6a2060" opacity="0.9"/>
<rect x="192.3" y="107.8" width="0.6" height="1.2" fill="#903080" opacity="0.9"/>
<rect x="195.7" y="100.6" width="1.3" height="1.5" fill="#a01088" opacity="0.9"/>
<rect x="144.3" y="104.9" width="0.5" height="1.4" fill="#6a2060" opacity="0.9"/>
<rect x="159.3" y="86.4" width="1.3" height="0.6" fill="#8a2a80" opacity="0.9"/>
<rect x="173.9" y="99.6" width="1.6" height="0.8" fill="#501050" opacity="0.9"/>
<rect x="183.5" y="122.7" width="0.6" height="1.2" fill="#7a1070" opacity="0.9"/>
<rect x="165.3" y="122.3" width="0.7" height="1.3" fill="#501050" opacity="0.9"/>
<rect x="167.0" y="116.0" width="1.7" height="1.3" fill="#3c1040" opacity="0.9"/>
<rect x="173.9" y="108.2" width="1.2" height="1.1" fill="#a01088" opacity="0.9"/>
<rect x="185.3" y="81.8" width="1.7" height="1.0" fill="#e512b4" opacity="0.9"/>
<rect x="164.0" y="103.0" width="1.3" height="1.1" fill="#8a2a80" opacity="0.9"/>
<rect x="181.7" y="111.4" width="1.1" height="1.5" fill="#7a1070" opacity="0.9"/>
<rect x="178.1" y="105.3" width="1.1" height="0.7" fill="#903080" opacity="0.9"/>
<rect x="171.0" y="105.7" width="1.1" height="0.8" fill="#3c1040" opacity="0.9"/>
<rect x="163.2" y="87.7" width="1.7" height="0.6" fill="#501050" opacity="0.9"/>
<rect x="216.4" y="105.1" width="1.7" height="0.7" fill="#7a1070" opacity="0.9"/>
<rect x="168.8" y="118.6" width="1.2" height="1.0" fill="#6a2060" opacity="0.9"/>
<rect x="154.2" y="98.2" width="1.8" height="1.4" fill="#501050" opacity="0.9"/>
<rect x="204.5" y="72.6" width="1.6" height="0.6" fill="#a01088" opacity="0.9"/>
<rect x="163.6" y="84.6" width="1.2" height="0.9" fill="#8a2a80" opacity="0.9"/>
<rect x="157.1" y="119.1" width="0.9" height="0.8" fill="#7a1070" opacity="0.9"/>
<rect x="177.0" y="100.6" width="0.8" height="1.2" fill="#5a1460" opacity="0.9"/>
<rect x="170.5" y="95.1" width="1.2" height="1.4" fill="#6a2060" opacity="0.9"/>
<rect x="166.0" y="111.6" width="1.0" height="0.6" fill="#903080" opacity="0.9"/>
<rect x="189.1" y="131.6" width="1.5" height="0.7" fill="#3c1040" opacity="0.9"/>
<rect x="186.8" y="84.5" width="1.2" height="0.8" fill="#5a1460" opacity="0.9"/>
<rect x="152.4" y="104.3" width="1.2" height="1.2" fill="#5a1460" opacity="0.9"/>
<rect x="170.6" y="70.3" width="1.6" height="1.2" fill="#a01088" opacity="0.9"/>
<rect x="176.8" y="95.3" width="1.2" height="1.2" fill="#3c1040" opacity="0.9"/>
<rect x="174.4" y="95.6" width="0.6" height="1.3" fill="#3c1040" opacity="0.9"/>
<rect x="165.9" y="108.8" width="1.2" height="1.3" fill="#5a1460" opacity="0.9"/>
<rect x="193.2" y="122.7" width="1.0" height="0.5" fill="#e512b4" opacity="0.9"/>
<rect x="199.5" y="109.1" width="1.1" height="0.6" fill="#5a1460" opacity="0.9"/>
<rect x="198.5" y="127.7" width="1.3" height="1.4" fill="#a01088" opacity="0.9"/>
<rect x="139.0" y="90.1" width="0.7" height="1.2" fill="#6a2060" opacity="0.9"/>
<rect x="158.3" y="124.4" width="1.6" height="0.6" fill="#e512b4" opacity="0.9"/>
<rect x="154.6" y="120.6" width="1.4" height="0.5" fill="#6a2060" opacity="0.9"/>
<rect x="167.8" y="98.8" width="0.9" height="1.1" fill="#3c1040" opacity="0.9"/>
<rect x="210.5" y="110.0" width="0.8" height="0.7" fill="#5a1460" opacity="0.9"/>
<rect x="143.4" y="112.4" width="0.6" height="0.5" fill="#903080" opacity="0.9"/>
<rect x="197.5" y="120.2" width="0.7" height="1.4" fill="#7a1070" opacity="0.9"/>
<rect x="191.7" y="87.1" width="1.3" height="0.8" fill="#7a1070" opacity="0.9"/>
<rect x="202.8" y="102.6" width="1.7" height="0.5" fill="#8a2a80" opacity="0.9"/>
<rect x="168.7" y="110.2" width="1.1" height="0.5" fill="#3c1040" opacity="0.9"/>
<rect x="177.5" y="98.0" width="1.6" height="1.5" fill="#501050" opacity="0.9"/>
<rect x="167.5" y="87.7" width="1.6" height="1.1" fill="#5a1460" opacity="0.9"/>
<rect x="187.5" y="109.2" width="0.9" height="0.6" fill="#5a1460" opacity="0.9"/>
<rect x="165.7" y="95.7" width="1.4" height="0.8" fill="#6a2060" opacity="0.9"/>
<rect x="134.8" y="110.0" width="0.5" height="1.1" fill="#6a2060" opacity="0.9"/>
<rect x="172.3" y="105.6" width="1.6" height="1.1" fill="#903080" opacity="0.9"/>
<rect x="155.4" y="85.3" width="0.9" height="0.8" fill="#7a1070" opacity="0.9"/>
<rect x="160.7" y="103.0" width="1.3" height="0.6" fill="#3c1040" opacity="0.9"/>
<rect x="162.0" y="71.4" width="1.6" height="1.3" fill="#a01088" opacity="0.9"/>
<rect x="157.8" y="87.2" width="1.5" height="1.3" fill="#6a2060" opacity="0.9"/>
<rect x="176.3" y="129.7" width="1.4" height="0.8" fill="#7a1070" opacity="0.9"/>
<rect x="176.3" y="78.5" width="1.6" height="0.7" fill="#3c1040" opacity="0.9"/>
<rect x="192.8" y="86.0" width="0.6" height="0.8" fill="#6a2060" opacity="0.9"/>
<rect x="151.5" y="143.1" width="1.2" height="1.4" fill="#903080" opacity="0.9"/>
<rect x="180.7" y="111.3" width="1.0" height="0.9" fill="#903080" opacity="0.9"/>
<rect x="179.5" y="68.8" width="0.7" height="1.2" fill="#a01088" opacity="0.9"/>
<rect x="173.7" y="122.5" width="0.6" height="0.7" fill="#6a2060" opacity="0.9"/>
<rect x="194.1" y="93.9" width="1.3" height="1.5" fill="#8a2a80" opacity="0.9"/>
<rect x="155.7" y="123.3" width="1.4" height="1.4" fill="#501050" opacity="0.9"/>
<rect x="181.9" y="91.8" width="0.9" height="0.8" fill="#7a1070" opacity="0.9"/>
<rect x="184.1" y="104.3" width="0.8" height="0.5" fill="#8a2a80" opacity="0.9"/>
<rect x="191.7" y="107.8" width="1.6" height="1.1" fill="#8a2a80" opacity="0.9"/>
<rect x="183.1" y="126.1" width="1.3" height="0.6" fill="#7a1070" opacity="0.9"/>
<rect x="186.7" y="74.5" width="1.4" height="0.5" fill="#6a2060" opacity="0.9"/>
<rect x="170.8" y="124.3" width="1.3" height="1.4" fill="#e512b4" opacity="0.9"/>
<rect x="177.6" y="116.0" width="1.3" height="0.9" fill="#e512b4" opacity="0.9"/>
<rect x="167.3" y="90.7" width="1.6" height="1.3" fill="#e512b4" opacity="0.9"/>
<rect x="194.0" y="113.8" width="1.8" height="0.9" fill="#903080" opacity="0.9"/>
<rect x="206.1" y="91.8" width="1.7" height="1.1" fill="#e512b4" opacity="0.9"/>
<rect x="179.8" y="102.6" width="0.7" height="0.5" fill="#6a2060" opacity="0.9"/>
<rect x="179.1" y="120.9" width="1.0" height="0.9" fill="#a01088" opacity="0.9"/>
<rect x="159.7" y="121.8" width="0.7" height="1.5" fill="#3c1040" opacity="0.9"/>
<rect x="163.0" y="98.1" width="1.6" height="1.0" fill="#8a2a80" opacity="0.9"/>
<rect x="198.1" y="107.3" width="1.8" height="1.0" fill="#3c1040" opacity="0.9"/>
<rect x="170.3" y="121.0" width="0.7" height="0.5" fill="#8a2a80" opacity="0.9"/>
<rect x="149.5" y="106.3" width="0.7" height="1.1" fill="#6a2060" opacity="0.9"/>
<rect x="135.6" y="127.3" width="1.3" height="0.6" fill="#e512b4" opacity="0.9"/>
<rect x="162.9" y="100.3" width="0.8" height="1.1" fill="#7a1070" opacity="0.9"/>
<rect x="171.1" y="70.7" width="1.2" height="0.9" fill="#7a1070" opacity="0.9"/>
<rect x="169.4" y="87.3" width="0.8" height="1.4" fill="#903080" opacity="0.9"/>
<rect x="187.7" y="94.3" width="0.9" height="1.4" fill="#5a1460" opacity="0.9"/>
<rect x="195.5" y="118.3" width="1.5" height="1.4" fill="#a01088" opacity="0.9"/>
<rect x="166.8" y="90.6" width="1.2" height="0.9" fill="#5a1460" opacity="0.9"/>
<rect x="209.8" y="85.4" width="0.5" height="0.5" fill="#5a1460" opacity="0.9"/>
<rect x="170.8" y="92.2" width="0.8" height="1.3" fill="#6a2060" opacity="0.9"/>
<rect x="165.1" y="93.1" width="0.8" height="1.1" fill="#903080" opacity="0.9"/>
<rect x="192.8" y="127.9" width="1.7" height="0.6" fill="#8a2a80" opacity="0.9"/>
<rect x="171.7" y="109.1" width="1.1" height="1.4" fill="#e512b4" opacity="0.9"/>
<rect x="187.6" y="122.3" width="0.8" height="0.6" fill="#903080" opacity="0.9"/>
<rect x="180.7" y="74.3" width="0.6" height="1.3" fill="#6a2060" opacity="0.9"/>
<rect x="157.2" y="109.0" width="1.8" height="0.8" fill="#7a1070" opacity="0.9"/>
<rect x="182.2" y="104.1" width="0.7" height="0.8" fill="#e512b4" opacity="0.9"/>
<rect x="158.2" y="102.8" width="1.1" height="0.9" fill="#7a1070" opacity="0.9"/>
<rect x="153.1" y="114.0" width="1.6" height="1.5" fill="#501050" opacity="0.9"/>
<rect x="186.2" y="105.3" width="0.5" height="1.0" fill="#e512b4" opacity="0.9"/>
<rect x="176.1" y="118.8" width="1.4" height="0.5" fill="#a01088" opacity="0.9"/>
<rect x="178.9" y="99.6" width="0.7" height="1.0" fill="#a01088" opacity="0.9"/>
<rect x="185.8" y="115.0" width="0.8" height="1.0" fill="#7a1070" opacity="0.9"/>
<rect x="159.7" y="89.0" width="1.2" height="1.3" fill="#a01088" opacity="0.9"/>
<rect x="180.6" y="101.4" width="1.6" height="1.5" fill="#5a1460" opacity="0.9"/>
<rect x="175.1" y="108.7" width="0.5" height="0.8" fill="#7a1070" opacity="0.9"/>
<rect x="185.0" y="100.9" width="1.0" height="1.1" fill="#e512b4" opacity="0.9"/>
<rect x="172.4" y="104.7" width="1.3" height="1.0" fill="#e512b4" opacity="0.9"/>
<rect x="149.2" y="96.1" width="1.0" height="0.8" fill="#8a2a80" opacity="0.9"/>
<rect x="134.1" y="122.6" width="1.5" height="1.4" fill="#501050" opacity="0.9"/>
<rect x="186.0" y="72.8" width="0.8" height="1.0" fill="#e512b4" opacity="0.9"/>
<rect x="200.1" y="101.4" width="1.8" height="1.3" fill="#501050" opacity="0.9"/>
<rect x="170.3" y="97.5" width="1.7" height="0.5" fill="#e512b4" opacity="0.9"/>
<rect x="168.8" y="90.5" width="1.2" height="0.8" fill="#903080" opacity="0.9"/>
<rect x="174.7" y="102.9" width="1.2" height="1.1" fill="#903080" opacity="0.9"/>
<rect x="186.4" y="102.6" width="1.0" height="0.6" fill="#501050" opacity="0.9"/>
<rect x="187.2" y="101.2" width="0.6" height="1.3" fill="#6a2060" opacity="0.9"/>
<rect x="154.2" y="73.8" width="0.8" height="1.3" fill="#8a2a80" opacity="0.9"/>
<rect x="183.8" y="92.2" width="1.2" height="1.5" fill="#903080" opacity="0.9"/>
<rect x="200.2" y="113.1" width="1.2" height="1.0" fill="#6a2060" opacity="0.9"/>
<rect x="178.9" y="92.8" width="0.7" height="1.2" fill="#7a1070" opacity="0.9"/>
<rect x="192.1" y="135.7" width="0.9" height="0.9" fill="#e512b4" opacity="0.9"/>
<rect x="185.8" y="91.0" width="0.7" height="0.8" fill="#501050" opacity="0.9"/>
<rect x="186.7" y="111.5" width="1.2" height="1.0" fill="#3c1040" opacity="0.9"/>
<rect x="188.5" y="110.9" width="1.4" height="0.9" fill="#903080" opacity="0.9"/>
<rect x="143.9" y="106.6" width="0.7" height="1.2" fill="#3c1040" opacity="0.9"/>
<rect x="160.2" y="116.5" width="1.3" height="1.0" fill="#5a1460" opacity="0.9"/>
<rect x="178.1" y="92.1" width="0.8" height="1.1" fill="#3c1040" opacity="0.9"/>
<rect x="184.0" y="106.3" width="0.9" height="0.8" fill="#3c1040" opacity="0.9"/>
<rect x="175.7" y="131.4" width="1.2" height="1.0" fill="#a01088" opacity="0.9"/>
<rect x="181.6" y="107.2" width="1.3" height="0.9" fill="#8a2a80" opacity="0.9"/>
<rect x="191.7" y="107.4" width="0.6" height="1.3" fill="#6a2060" opacity="0.9"/>
<rect x="191.7" y="100.0" width="1.0" height="0.9" fill="#8a2a80" opacity="0.9"/>
<rect x="140.0" y="86.8" width="1.8" height="1.4" fill="#5a1460" opacity="0.9"/>
<rect x="168.6" y="100.4" width="0.9" height="0.6" fill="#5a1460" opacity="0.9"/>
<rect x="174.6" y="88.4" width="1.0" height="1.4" fill="#3c1040" opacity="0.9"/>
<rect x="155.2" y="82.2" width="1.3" height="1.0" fill="#a01088" opacity="0.9"/>
<rect x="142.4" y="109.8" width="1.8" height="0.7" fill="#501050" opacity="0.9"/>
<rect x="189.7" y="109.0" width="1.2" height="1.3" fill="#7a1070" opacity="0.9"/>
<rect x="160.6" y="81.4" width="1.2" height="1.4" fill="#501050" opacity="0.9"/>
<rect x="169.8" y="115.9" width="1.5" height="0.6" fill="#501050" opacity="0.9"/>
<rect x="175.2" y="108.9" width="0.6" height="0.6" fill="#e512b4" opacity="0.9"/>
<rect x="174.5" y="83.7" width="1.6" height="0.7" fill="#e512b4" opacity="0.9"/>
<rect x="156.6" y="128.7" width="1.4" height="0.9" fill="#3c1040" opacity="0.9"/>
<rect x="122.0" y="76.3" width="1.6" height="0.6" fill="#e512b4" opacity="0.9"/>
<rect x="163.6" y="118.6" width="0.7" height="1.0" fill="#e512b4" opacity="0.9"/>
<rect x="166.8" y="102.2" width="0.8" height="1.4" fill="#501050" opacity="0.9"/>
<rect x="154.9" y="96.8" width="1.4" height="0.8" fill="#501050" opacity="0.9"/>
<rect x="174.2" y="117.7" width="1.6" height="0.8" fill="#501050" opacity="0.9"/>
<rect x="175.7" y="107.7" width="1.3" height="1.4" fill="#3c1040" opacity="0.9"/>
<rect x="159.2" y="83.4" width="1.0" height="1.3" fill="#7a1070" opacity="0.9"/>
<rect x="185.7" y="135.0" width="1.4" height="1.2" fill="#3c1040" opacity="0.9"/>
<rect x="180.4" y="103.3" width="0.5" height="0.7" fill="#6a2060" opacity="0.9"/>
<rect x="163.4" y="106.7" width="1.5" height="1.1" fill="#5a1460" opacity="0.9"/>
<rect x="135.9" y="112.9" width="0.8" height="0.7" fill="#903080" opacity="0.9"/>
<rect x="188.3" y="129.8" width="0.6" height="1.4" fill="#a01088" opacity="0.9"/>
<rect x="194.6" y="111.8" width="0.5" height="1.2" fill="#7a1070" opacity="0.9"/>
<rect x="173.2" y="94.0" width="1.4" height="1.2" fill="#5a1460" opacity="0.9"/>
<rect x="170.7" y="112.9" width="0.7" height="1.4" fill="#7a1070" opacity="0.9"/>
<rect x="176.1" y="109.7" width="0.8" height="0.6" fill="#a01088" opacity="0.9"/>
<rect x="185.5" y="106.3" width="1.4" height="0.9" fill="#8a2a80" opacity="0.9"/>
<rect x="143.5" y="116.8" width="0.6" height="1.3" fill="#7a1070" opacity="0.9"/>
<rect x="170.7" y="113.5" width="1.4" height="1.2" fill="#6a2060" opacity="0.9"/>
<rect x="169.2" y="113.8" width="1.6" height="0.7" fill="#3c1040" opacity="0.9"/>
<rect x="188.5" y="63.0" width="1.8" height="0.8" fill="#501050" opacity="0.9"/>
<rect x="181.9" y="113.3" width="1.4" height="0.7" fill="#3c1040" opacity="0.9"/>
<rect x="180.4" y="110.7" width="1.4" height="0.6" fill="#6a2060" opacity="0.9"/>
<rect x="178.1" y="96.3" width="1.8" height="1.4" fill="#5a1460" opacity="0.9"/>
<rect x="160.1" y="101.0" width="0.5" height="1.3" fill="#6a2060" opacity="0.9"/>
<rect x="202.9" y="81.8" width="1.1" height="1.4" fill="#5a1460" opacity="0.9"/>
<rect x="156.7" y="92.2" width="0.8" height="1.0" fill="#a01088" opacity="0.9"/>
<rect x="177.2" y="77.6" width="1.3" height="0.8" fill="#5a1460" opacity="0.9"/>
<rect x="167.1" y="99.7" width="0.9" height="1.4" fill="#e512b4" opacity="0.9"/>
<rect x="171.0" y="99.0" width="1.0" height="1.0" fill="#6a2060" opacity="0.9"/>
<rect x="166.2" y="115.5" width="1.5" height="0.8" fill="#a01088" opacity="0.9"/>
<rect x="193.7" y="111.1" width="1.5" height="0.6" fill="#a01088" opacity="0.9"/>
<rect x="183.0" y="115.7" width="0.5" height="1.0" fill="#e512b4" opacity="0.9"/>
<rect x="194.1" y="115.4" width="1.0" height="1.3" fill="#7a1070" opacity="0.9"/>
<rect x="198.3" y="114.1" width="1.0" height="1.2" fill="#7a1070" opacity="0.9"/>
<rect x="175.4" y="103.8" width="0.9" height="0.8" fill="#903080" opacity="0.9"/>
<rect x="183.8" y="109.9" width="1.1" height="1.0" fill="#7a1070" opacity="0.9"/>
<rect x="188.1" y="114.3" width="1.2" height="0.5" fill="#7a1070" opacity="0.9"/>
<rect x="172.4" y="139.6" width="1.0" height="0.7" fill="#8a2a80" opacity="0.9"/>
<rect x="182.8" y="111.0" width="1.2" height="1.4" fill="#3c1040" opacity="0.9"/>
<rect x="214.5" y="106.4" width="1.5" height="1.2" fill="#903080" opacity="0.9"/>
<rect x="180.8" y="127.0" width="1.5" height="0.7" fill="#a01088" opacity="0.9"/>
<rect x="173.6" y="106.7" width="1.3" height="0.6" fill="#501050" opacity="0.9"/>
<rect x="166.2" y="99.8" width="0.8" height="1.1" fill="#5a1460" opacity="0.9"/>
<rect x="179.7" y="79.9" width="1.6" height="0.6" fill="#e512b4" opacity="0.9"/>
<rect x="170.0" y="108.8" width="1.3" height="1.2" fill="#5a1460" opacity="0.9"/>
<rect x="180.1" y="90.4" width="1.3" height="0.7" fill="#903080" opacity="0.9"/>
<rect x="157.8" y="134.6" width="0.5" height="1.3" fill="#501050" opacity="0.9"/>
<rect x="186.2" y="117.4" width="0.7" height="0.8" fill="#7a1070" opacity="0.9"/>
<rect x="181.2" y="110.7" width="1.4" height="1.2" fill="#5a1460" opacity="0.9"/>
<rect x="175.2" y="103.5" width="0.5" height="1.0" fill="#903080" opacity="0.9"/>
<rect x="170.9" y="108.0" width="0.8" height="1.1" fill="#a01088" opacity="0.9"/>
<rect x="190.9" y="81.3" width="1.3" height="1.5" fill="#a01088" opacity="0.9"/>
<rect x="147.4" y="89.6" width="1.4" height="1.2" fill="#903080" opacity="0.9"/>
<rect x="195.1" y="124.1" width="1.7" height="1.2" fill="#8a2a80" opacity="0.9"/>
<rect x="189.2" y="79.5" width="1.1" height="1.3" fill="#7a1070" opacity="0.9"/>
<rect x="181.4" y="73.4" width="1.5" height="1.1" fill="#8a2a80" opacity="0.9"/>
<rect x="160.5" y="85.4" width="1.8" height="1.3" fill="#a01088" opacity="0.9"/>
<rect x="173.6" y="131.6" width="0.8" height="1.1" fill="#5a1460" opacity="0.9"/>
<rect x="141.7" y="91.4" width="1.0" height="1.3" fill="#e512b4" opacity="0.9"/>
<rect x="181.0" y="81.1" width="1.6" height="0.9" fill="#6a2060" opacity="0.9"/>
<rect x="195.1" y="114.3" width="1.4" height="1.4" fill="#6a2060" opacity="0.9"/>
<rect x="161.0" y="108.7" width="1.1" height="0.5" fill="#8a2a80" opacity="0.9"/>
<rect x="197.9" y="120.6" width="1.0" height="0.8" fill="#501050" opacity="0.9"/>
<rect x="187.0" y="117.9" width="1.0" height="1.3" fill="#a01088" opacity="0.9"/>
<rect x="163.7" y="94.5" width="1.8" height="0.7" fill="#a01088" opacity="0.9"/>
<rect x="187.4" y="93.2" width="1.5" height="0.6" fill="#3c1040" opacity="0.9"/>
<rect x="172.0" y="99.0" width="1.0" height="0.8" fill="#7a1070" opacity="0.9"/>
<rect x="180.0" y="110.4" width="1.7" height="1.1" fill="#6a2060" opacity="0.9"/>
<rect x="187.4" y="93.7" width="0.9" height="1.4" fill="#903080" opacity="0.9"/>
<rect x="179.9" y="83.2" width="1.0" height="0.5" fill="#7a1070" opacity="0.9"/>
<rect x="178.8" y="97.4" width="1.1" height="1.3" fill="#5a1460" opacity="0.9"/>
<rect x="173.9" y="117.0" width="1.8" height="1.2" fill="#a01088" opacity="0.9"/>
<rect x="174.5" y="80.8" width="1.7" height="1.4" fill="#7a1070" opacity="0.9"/>
<rect x="170.6" y="97.8" width="1.1" height="1.5" fill="#6a2060" opacity="0.9"/>
<rect x="157.8" y="119.8" width="1.7" height="1.3" fill="#501050" opacity="0.9"/>
<rect x="197.1" y="111.0" width="1.0" height="1.5" fill="#903080" opacity="0.9"/>
<rect x="204.2" y="113.0" width="1.2" height="0.9" fill="#a01088" opacity="0.9"/>
<rect x="174.2" y="71.4" width="0.5" height="0.8" fill="#903080" opacity="0.9"/>
<rect x="201.4" y="131.1" width="0.7" height="1.1" fill="#8a2a80" opacity="0.9"/>
<rect x="169.3" y="100.8" width="0.7" height="1.1" fill="#501050" opacity="0.9"/>
<rect x="197.7" y="100.6" width="0.9" height="1.0" fill="#5a1460" opacity="0.9"/>
<rect x="132.7" y="122.8" width="1.5" height="1.2" fill="#a01088" opacity="0.9"/>
<rect x="142.1" y="129.3" width="1.4" height="0.8" fill="#6a2060" opacity="0.9"/>
<rect x="185.7" y="119.7" width="1.5" height="0.8" fill="#e512b4" opacity="0.9"/>
<rect x="187.1" y="116.9" width="0.7" height="1.2" fill="#e512b4" opacity="0.9"/>
<rect x="181.0" y="114.4" width="1.3" height="1.5" fill="#e512b4" opacity="0.9"/>
<rect x="176.7" y="89.0" width="0.9" height="1.4" fill="#7a1070" opacity="0.9"/>
<rect x="150.6" y="106.3" width="1.0" height="1.2" fill="#903080" opacity="0.9"/>
<rect x="164.4" y="113.0" width="0.8" height="0.7" fill="#903080" opacity="0.9"/>
<rect x="189.6" y="94.1" width="1.3" height="1.3" fill="#501050" opacity="0.9"/>
<rect x="170.1" y="110.9" width="1.1" height="1.1" fill="#3c1040" opacity="0.9"/>
<rect x="160.4" y="81.0" width="1.0" height="1.2" fill="#8a2a80" opacity="0.9"/>
<rect x="149.4" y="119.7" width="0.8" height="1.3" fill="#a01088" opacity="0.9"/>
<rect x="204.8" y="110.2" width="1.0" height="1.4" fill="#8a2a80" opacity="0.9"/>
<rect x="172.8" y="114.1" width="1.6" height="0.6" fill="#a01088" opacity="0.9"/>
<rect x="148.5" y="86.1" width="1.7" height="0.7" fill="#a01088" opacity="0.9"/>
<rect x="186.1" y="124.5" width="1.5" height="0.9" fill="#a01088" opacity="0.9"/>
<rect x="200.1" y="94.0" width="1.0" height="1.0" fill="#6a2060" opacity="0.9"/>
<rect x="156.3" y="128.7" width="1.2" height="1.0" fill="#7a1070" opacity="0.9"/>
<rect x="156.2" y="74.8" width="0.8" height="1.2" fill="#7a1070" opacity="0.9"/>
<rect x="179.6" y="100.5" width="1.6" height="1.2" fill="#e512b4" opacity="0.9"/>
<rect x="158.7" y="95.8" width="1.5" height="1.2" fill="#8a2a80" opacity="0.9"/>
<rect x="179.5" y="96.6" width="1.4" height="1.3" fill="#5a1460" opacity="0.9"/>
<rect x="137.6" y="102.9" width="1.5" height="1.3" fill="#e512b4" opacity="0.9"/>
<rect x="153.3" y="78.2" width="1.3" height="1.4" fill="#7a1070" opacity="0.9"/>
<rect x="147.0" y="124.2" width="1.5" height="1.1" fill="#a01088" opacity="0.9"/>
<rect x="150.8" y="101.8" width="0.9" height="0.9" fill="#5a1460" opacity="0.9"/>
<rect x="141.7" y="89.8" width="1.0" height="1.2" fill="#a01088" opacity="0.9"/>
<rect x="203.2" y="115.6" width="0.8" height="1.0" fill="#6a2060" opacity="0.9"/>
<rect x="175.6" y="86.7" width="0.6" height="0.9" fill="#3c1040" opacity="0.9"/>
<rect x="145.0" y="93.8" width="1.2" height="1.0" fill="#e512b4" opacity="0.9"/>
<rect x="159.9" y="104.3" width="1.8" height="1.0" fill="#6a2060" opacity="0.9"/>
<rect x="176.7" y="122.0" width="0.9" height="1.5" fill="#5a1460" opacity="0.9"/>
<rect x="150.3" y="91.9" width="1.5" height="0.5" fill="#5a1460" opacity="0.9"/>
<rect x="156.2" y="102.5" width="1.7" height="0.8" fill="#a01088" opacity="0.9"/>
<rect x="181.0" y="106.9" width="1.2" height="1.1" fill="#501050" opacity="0.9"/>
<rect x="179.1" y="132.8" width="1.5" height="1.5" fill="#e512b4" opacity="0.9"/>
<rect x="150.2" y="141.6" width="1.3" height="1.1" fill="#a01088" opacity="0.9"/>
<rect x="133.3" y="119.5" width="0.7" height="1.1" fill="#903080" opacity="0.9"/>
<rect x="181.8" y="108.8" width="0.6" height="1.4" fill="#5a1460" opacity="0.9"/>
<rect x="203.3" y="105.7" width="1.5" height="0.7" fill="#5a1460" opacity="0.9"/>
<rect x="175.1" y="74.4" width="1.5" height="1.4" fill="#8a2a80" opacity="0.9"/>
<rect x="197.9" y="91.4" width="0.6" height="0.7" fill="#e512b4" opacity="0.9"/>
<rect x="207.8" y="105.4" width="0.8" height="0.9" fill="#3c1040" opacity="0.9"/>
<rect x="186.4" y="121.2" width="0.9" height="0.5" fill="#6a2060" opacity="0.9"/>
<rect x="181.2" y="115.5" width="1.5" height="1.0" fill="#e512b4" opacity="0.9"/>
<rect x="180.5" y="107.3" width="1.0" height="1.4" fill="#7a1070" opacity="0.9"/>
<rect x="167.0" y="103.5" width="1.5" height="1.0" fill="#6a2060" opacity="0.9"/>
<rect x="177.9" y="95.9" width="1.2" height="0.8" fill="#a01088" opacity="0.9"/>
<rect x="161.8" y="112.0" width="1.7" height="0.7" fill="#e512b4" opacity="0.9"/>
<rect x="168.5" y="130.1" width="1.1" height="1.2" fill="#3c1040" opacity="0.9"/>
<rect x="150.8" y="121.2" width="0.7" height="0.5" fill="#501050" opacity="0.9"/>
<rect x="179.1" y="122.4" width="0.5" height="1.3" fill="#501050" opacity="0.9"/>
<rect x="181.1" y="101.9" width="0.8" height="1.1" fill="#e512b4" opacity="0.9"/>
<rect x="202.8" y="87.7" width="1.3" height="1.4" fill="#6a2060" opacity="0.9"/>
<rect x="149.8" y="105.1" width="0.5" height="0.7" fill="#5a1460" opacity="0.9"/>
<rect x="152.6" y="127.5" width="1.3" height="0.6" fill="#a01088" opacity="0.9"/>
<rect x="179.8" y="118.7" width="1.5" height="1.1" fill="#903080" opacity="0.9"/>
<rect x="167.5" y="73.7" width="1.0" height="1.2" fill="#7a1070" opacity="0.9"/>
<rect x="171.2" y="92.2" width="1.4" height="1.0" fill="#903080" opacity="0.9"/>
<rect x="197.4" y="128.5" width="0.6" height="0.7" fill="#501050" opacity="0.9"/>
<rect x="186.2" y="102.1" width="1.2" height="1.2" fill="#501050" opacity="0.9"/>
<rect x="178.5" y="127.2" width="0.8" height="1.4" fill="#e512b4" opacity="0.9"/>
<rect x="174.2" y="103.6" width="0.6" height="0.7" fill="#903080" opacity="0.9"/>
<rect x="184.9" y="98.5" width="1.7" height="1.1" fill="#e512b4" opacity="0.9"/>
<rect x="185.6" y="97.3" width="1.1" height="1.0" fill="#7a1070" opacity="0.9"/>
<rect x="201.6" y="96.2" width="0.7" height="1.3" fill="#a01088" opacity="0.9"/>
<rect x="184.6" y="118.3" width="1.2" height="1.5" fill="#a01088" opacity="0.9"/>
<rect x="148.3" y="123.9" width="1.6" height="1.1" fill="#a01088" opacity="0.9"/>
<rect x="182.7" y="87.0" width="0.6" height="0.6" fill="#3c1040" opacity="0.9"/>
<rect x="160.5" y="99.5" width="1.4" height="1.1" fill="#501050" opacity="0.9"/>
<rect x="176.8" y="112.3" width="1.6" height="1.0" fill="#3c1040" opacity="0.9"/>
<rect x="191.7" y="118.1" width="1.4" height="1.5" fill="#5a1460" opacity="0.9"/>
<rect x="168.5" y="98.9" width="1.0" height="0.6" fill="#3c1040" opacity="0.9"/>
<rect x="169.9" y="74.0" width="0.6" height="0.8" fill="#a01088" opacity="0.9"/>
<rect x="168.8" y="114.7" width="1.3" height="1.5" fill="#903080" opacity="0.9"/>
<rect x="174.2" y="101.2" width="0.6" height="1.2" fill="#a01088" opacity="0.9"/>
<rect x="175.3" y="92.7" width="1.1" height="0.9" fill="#501050" opacity="0.9"/>
<rect x="155.2" y="89.1" width="1.7" height="1.3" fill="#a01088" opacity="0.9"/>
<rect x="173.1" y="99.3" width="1.6" height="0.9" fill="#7a1070" opacity="0.9"/>
<rect x="181.7" y="96.5" width="1.1" height="1.2" fill="#8a2a80" opacity="0.9"/>
<rect x="173.8" y="115.7" width="0.5" height="0.9" fill="#6a2060" opacity="0.9"/>
<rect x="179.3" y="110.6" width="1.5" height="1.3" fill="#903080" opacity="0.9"/>
<rect x="202.4" y="102.1" width="1.5" height="0.5" fill="#8a2a80" opacity="0.9"/>
<rect x="164.9" y="98.1" width="1.8" height="1.7" fill="#803080" opacity="0.85"/>
<rect x="165.5" y="113.6" width="1.8" height="1.6" fill="#5a1460" opacity="0.85"/>
<rect x="168.3" y="99.2" width="1.2" height="1.0" fill="#701868" opacity="0.85"/>
<rect x="175.8" y="101.8" width="0.8" height="1.2" fill="#381040" opacity="0.85"/>
<rect x="166.1" y="90.9" width="1.9" height="1.2" fill="#381040" opacity="0.85"/>
<rect x="173.9" y="87.5" width="0.9" height="1.5" fill="#5a1460" opacity="0.85"/>
<rect x="181.5" y="90.6" width="1.6" height="1.8" fill="#381040" opacity="0.85"/>
<rect x="175.8" y="108.6" width="1.6" height="1.5" fill="#5a1460" opacity="0.85"/>
<rect x="172.1" y="93.2" width="1.9" height="0.7" fill="#701868" opacity="0.85"/>
<rect x="179.6" y="90.4" width="2.0" height="1.4" fill="#803080" opacity="0.85"/>
<rect x="162.2" y="92.9" width="0.7" height="1.1" fill="#803080" opacity="0.85"/>
<rect x="183.4" y="106.8" width="0.6" height="1.0" fill="#803080" opacity="0.85"/>
<rect x="174.5" y="103.4" width="1.5" height="1.2" fill="#381040" opacity="0.85"/>
<rect x="185.0" y="85.9" width="0.8" height="0.7" fill="#381040" opacity="0.85"/>
<rect x="169.3" y="108.7" width="1.2" height="1.5" fill="#5a1460" opacity="0.85"/>
<rect x="187.4" y="111.7" width="1.1" height="0.8" fill="#701868" opacity="0.85"/>
<rect x="161.3" y="110.2" width="1.8" height="1.6" fill="#4a1050" opacity="0.85"/>
<rect x="168.9" y="93.6" width="1.8" height="0.7" fill="#4a1050" opacity="0.85"/>
<rect x="183.8" y="108.4" width="1.0" height="0.9" fill="#803080" opacity="0.85"/>
<rect x="180.8" y="102.9" width="1.1" height="1.4" fill="#4a1050" opacity="0.85"/>
<rect x="166.8" y="97.3" width="1.0" height="0.9" fill="#4a1050" opacity="0.85"/>
<rect x="189.0" y="91.1" width="1.1" height="1.5" fill="#701868" opacity="0.85"/>
<rect x="181.1" y="112.1" width="1.1" height="0.8" fill="#701868" opacity="0.85"/>
<rect x="163.6" y="84.4" width="1.0" height="1.1" fill="#5a1460" opacity="0.85"/>
<rect x="172.5" y="93.6" width="1.8" height="1.5" fill="#5a1460" opacity="0.85"/>
<rect x="175.6" y="94.7" width="1.0" height="0.6" fill="#381040" opacity="0.85"/>
<rect x="178.3" y="105.1" width="0.9" height="0.6" fill="#701868" opacity="0.85"/>
<rect x="168.3" y="101.7" width="1.4" height="1.2" fill="#381040" opacity="0.85"/>
<rect x="164.4" y="105.8" width="1.9" height="1.1" fill="#5a1460" opacity="0.85"/>
<rect x="176.8" y="102.2" width="1.1" height="1.2" fill="#701868" opacity="0.85"/>
<rect x="181.4" y="95.6" width="1.3" height="1.2" fill="#4a1050" opacity="0.85"/>
<rect x="174.3" y="112.1" width="0.8" height="1.7" fill="#381040" opacity="0.85"/>
<rect x="166.1" y="99.0" width="1.3" height="1.0" fill="#5a1460" opacity="0.85"/>
<rect x="179.3" y="106.1" width="1.9" height="1.2" fill="#381040" opacity="0.85"/>
<rect x="171.6" y="96.5" width="1.5" height="0.7" fill="#381040" opacity="0.85"/>
<rect x="169.3" y="115.6" width="0.8" height="1.8" fill="#4a1050" opacity="0.85"/>
<rect x="167.0" y="100.7" width="1.5" height="1.6" fill="#4a1050" opacity="0.85"/>
<rect x="181.4" y="92.6" width="1.4" height="0.9" fill="#4a1050" opacity="0.85"/>
<rect x="161.1" y="100.1" width="0.8" height="1.6" fill="#701868" opacity="0.85"/>
<rect x="184.4" y="95.0" width="1.5" height="1.4" fill="#701868" opacity="0.85"/>
<rect x="171.6" y="98.5" width="1.9" height="0.7" fill="#381040" opacity="0.85"/>
<rect x="172.4" y="102.4" width="2.0" height="1.6" fill="#381040" opacity="0.85"/>
<rect x="169.7" y="107.4" width="1.9" height="1.1" fill="#5a1460" opacity="0.85"/>
<rect x="171.5" y="98.7" width="0.9" height="1.2" fill="#381040" opacity="0.85"/>
<rect x="152.6" y="98.4" width="1.5" height="0.9" fill="#381040" opacity="0.85"/>
<rect x="176.3" y="96.7" width="0.9" height="1.8" fill="#381040" opacity="0.85"/>
<rect x="166.5" y="101.7" width="0.6" height="0.8" fill="#701868" opacity="0.85"/>
<rect x="161.3" y="107.3" width="1.1" height="0.8" fill="#803080" opacity="0.85"/>
<rect x="172.1" y="99.9" width="1.7" height="1.3" fill="#803080" opacity="0.85"/>
<rect x="162.0" y="101.8" width="0.8" height="0.9" fill="#381040" opacity="0.85"/>
<rect x="186.8" y="115.7" width="1.9" height="1.8" fill="#5a1460" opacity="0.85"/>
<rect x="176.6" y="106.0" width="0.8" height="1.1" fill="#4a1050" opacity="0.85"/>
<rect x="185.0" y="108.0" width="1.0" height="1.3" fill="#381040" opacity="0.85"/>
<rect x="172.8" y="105.1" width="2.0" height="1.5" fill="#701868" opacity="0.85"/>
<rect x="179.1" y="105.4" width="2.0" height="1.7" fill="#4a1050" opacity="0.85"/>
<rect x="184.1" y="106.5" width="1.8" height="1.1" fill="#5a1460" opacity="0.85"/>
<rect x="156.7" y="96.8" width="1.4" height="1.1" fill="#803080" opacity="0.85"/>
<rect x="162.2" y="100.0" width="1.9" height="1.8" fill="#701868" opacity="0.85"/>
<rect x="173.1" y="103.3" width="1.4" height="0.8" fill="#701868" opacity="0.85"/>
<rect x="169.8" y="93.5" width="1.2" height="1.7" fill="#5a1460" opacity="0.85"/>
<rect x="171.3" y="116.7" width="1.5" height="1.2" fill="#4a1050" opacity="0.85"/>
<rect x="165.3" y="85.8" width="1.2" height="1.0" fill="#4a1050" opacity="0.85"/>
<rect x="173.4" y="77.6" width="1.3" height="1.0" fill="#5a1460" opacity="0.85"/>
<rect x="193.8" y="95.5" width="1.9" height="0.8" fill="#4a1050" opacity="0.85"/>
<rect x="154.8" y="112.4" width="1.1" height="1.4" fill="#5a1460" opacity="0.85"/>
<rect x="165.2" y="107.2" width="0.8" height="0.9" fill="#701868" opacity="0.85"/>
<rect x="173.4" y="106.9" width="1.3" height="1.7" fill="#4a1050" opacity="0.85"/>
<rect x="163.4" y="91.4" width="1.4" height="1.7" fill="#381040" opacity="0.85"/>
<rect x="165.4" y="96.1" width="1.0" height="1.6" fill="#381040" opacity="0.85"/>
<rect x="167.8" y="87.3" width="1.2" height="0.7" fill="#5a1460" opacity="0.85"/>
<rect x="167.4" y="94.6" width="1.5" height="1.4" fill="#803080" opacity="0.85"/>
<rect x="166.2" y="77.5" width="1.1" height="1.6" fill="#5a1460" opacity="0.85"/>
<rect x="169.2" y="95.7" width="1.4" height="1.6" fill="#4a1050" opacity="0.85"/>
<rect x="179.5" y="91.5" width="1.9" height="1.3" fill="#5a1460" opacity="0.85"/>
<rect x="163.3" y="106.0" width="0.7" height="0.6" fill="#4a1050" opacity="0.85"/>
<rect x="177.7" y="112.3" width="0.8" height="0.8" fill="#4a1050" opacity="0.85"/>
<rect x="183.4" y="90.8" width="0.6" height="0.7" fill="#5a1460" opacity="0.85"/>
<rect x="191.4" y="90.5" width="1.3" height="0.7" fill="#5a1460" opacity="0.85"/>
<rect x="168.1" y="106.1" width="1.8" height="1.0" fill="#381040" opacity="0.85"/>
<rect x="177.6" y="96.9" width="0.7" height="1.3" fill="#701868" opacity="0.85"/>
<rect x="169.9" y="93.4" width="1.1" height="1.2" fill="#701868" opacity="0.85"/>
<rect x="178.9" y="119.2" width="1.7" height="1.5" fill="#803080" opacity="0.85"/>
<rect x="176.4" y="92.0" width="1.6" height="0.9" fill="#701868" opacity="0.85"/>
<rect x="176.2" y="84.5" width="0.7" height="0.8" fill="#4a1050" opacity="0.85"/>
<rect x="174.4" y="90.5" width="1.7" height="0.9" fill="#381040" opacity="0.85"/>
<rect x="181.8" y="107.3" width="1.2" height="0.6" fill="#803080" opacity="0.85"/>
<rect x="177.1" y="97.5" width="0.9" height="0.9" fill="#381040" opacity="0.85"/>
<rect x="163.2" y="105.1" width="0.6" height="1.5" fill="#4a1050" opacity="0.85"/>
<rect x="173.2" y="107.3" width="1.5" height="1.7" fill="#381040" opacity="0.85"/>
<rect x="173.9" y="107.5" width="0.8" height="0.7" fill="#701868" opacity="0.85"/>
<rect x="164.9" y="101.9" width="1.2" height="1.2" fill="#701868" opacity="0.85"/>
<rect x="167.2" y="114.6" width="0.7" height="0.7" fill="#701868" opacity="0.85"/>
<rect x="167.4" y="99.6" width="1.2" height="0.8" fill="#5a1460" opacity="0.85"/>
<rect x="179.0" y="107.3" width="1.8" height="1.4" fill="#803080" opacity="0.85"/>
<rect x="165.2" y="101.1" width="0.7" height="0.7" fill="#4a1050" opacity="0.85"/>
<rect x="165.0" y="106.7" width="1.7" height="1.2" fill="#701868" opacity="0.85"/>
<rect x="157.1" y="105.5" width="1.7" height="1.0" fill="#381040" opacity="0.85"/>
<rect x="154.7" y="106.8" width="1.5" height="0.7" fill="#701868" opacity="0.85"/>
<rect x="161.1" y="103.5" width="0.8" height="1.6" fill="#701868" opacity="0.85"/>
<rect x="181.6" y="96.0" width="1.3" height="1.3" fill="#4a1050" opacity="0.85"/>
<rect x="171.1" y="103.2" width="1.2" height="0.7" fill="#701868" opacity="0.85"/>
<rect x="169.2" y="102.5" width="0.6" height="1.7" fill="#4a1050" opacity="0.85"/>
<rect x="167.3" y="90.3" width="1.0" height="1.6" fill="#4a1050" opacity="0.85"/>
<rect x="165.5" y="94.4" width="0.8" height="1.5" fill="#5a1460" opacity="0.85"/>
<rect x="165.5" y="103.7" width="1.8" height="1.1" fill="#4a1050" opacity="0.85"/>
<rect x="168.7" y="98.7" width="1.3" height="1.7" fill="#381040" opacity="0.85"/>
<rect x="166.8" y="95.5" width="1.2" height="0.8" fill="#381040" opacity="0.85"/>
<rect x="175.1" y="85.4" width="0.7" height="1.6" fill="#381040" opacity="0.85"/>
<rect x="168.8" y="105.8" width="1.3" height="1.6" fill="#701868" opacity="0.85"/>
<rect x="164.6" y="76.8" width="1.0" height="0.8" fill="#803080" opacity="0.85"/>
<rect x="171.8" y="91.8" width="1.5" height="0.7" fill="#5a1460" opacity="0.85"/>
<rect x="177.8" y="100.0" width="0.6" height="1.5" fill="#701868" opacity="0.85"/>
<rect x="158.6" y="88.0" width="0.9" height="1.0" fill="#701868" opacity="0.85"/>
<rect x="186.4" y="85.1" width="1.1" height="1.0" fill="#701868" opacity="0.85"/>
<rect x="169.2" y="103.0" width="0.6" height="1.4" fill="#5a1460" opacity="0.85"/>
<rect x="172.5" y="84.6" width="1.7" height="0.9" fill="#803080" opacity="0.85"/>
<rect x="184.6" y="92.1" width="1.7" height="1.6" fill="#5a1460" opacity="0.85"/>
<rect x="171.8" y="113.1" width="1.2" height="1.0" fill="#381040" opacity="0.85"/>
<rect x="172.8" y="114.2" width="1.1" height="1.6" fill="#4a1050" opacity="0.85"/>
<rect x="181.5" y="84.9" width="1.8" height="1.7" fill="#5a1460" opacity="0.85"/>
<rect x="179.0" y="91.9" width="1.7" height="1.6" fill="#4a1050" opacity="0.85"/>
<rect x="191.2" y="97.2" width="1.7" height="1.5" fill="#381040" opacity="0.85"/>
<rect x="175.8" y="95.4" width="1.1" height="0.7" fill="#701868" opacity="0.85"/>
<rect x="184.3" y="112.7" width="0.9" height="0.7" fill="#4a1050" opacity="0.85"/>
<rect x="184.0" y="106.1" width="1.8" height="1.4" fill="#5a1460" opacity="0.85"/>
<rect x="168.6" y="109.5" width="1.0" height="1.4" fill="#381040" opacity="0.85"/>
<rect x="179.1" y="93.8" width="1.6" height="1.0" fill="#701868" opacity="0.85"/>
<rect x="179.3" y="91.6" width="1.4" height="1.8" fill="#4a1050" opacity="0.85"/>
<rect x="174.4" y="97.9" width="1.2" height="1.7" fill="#381040" opacity="0.85"/>
<rect x="169.2" y="94.7" width="1.4" height="1.7" fill="#701868" opacity="0.85"/>
<rect x="163.3" y="84.9" width="0.6" height="1.3" fill="#803080" opacity="0.85"/>
<rect x="160.4" y="105.9" width="2.0" height="0.8" fill="#381040" opacity="0.85"/>
<rect x="169.5" y="110.5" width="0.7" height="1.6" fill="#701868" opacity="0.85"/>
<rect x="169.8" y="98.1" width="1.8" height="1.8" fill="#701868" opacity="0.85"/>
<rect x="164.8" y="103.6" width="1.9" height="0.8" fill="#4a1050" opacity="0.85"/>
<rect x="169.7" y="107.6" width="1.3" height="1.5" fill="#5a1460" opacity="0.85"/>
<rect x="188.2" y="101.2" width="1.9" height="1.8" fill="#803080" opacity="0.85"/>
<rect x="158.8" y="94.0" width="0.6" height="1.4" fill="#5a1460" opacity="0.85"/>
<rect x="174.8" y="97.0" width="1.1" height="1.7" fill="#803080" opacity="0.85"/>
<rect x="172.5" y="101.9" width="1.8" height="1.5" fill="#803080" opacity="0.85"/>
<rect x="170.7" y="93.9" width="1.9" height="1.3" fill="#381040" opacity="0.85"/>
<rect x="179.0" y="110.0" width="1.2" height="1.3" fill="#4a1050" opacity="0.85"/>
<rect x="171.6" y="107.2" width="0.9" height="1.4" fill="#381040" opacity="0.85"/>
<rect x="185.0" y="105.2" width="1.9" height="0.8" fill="#701868" opacity="0.85"/>
<rect x="174.0" y="89.0" width="1.3" height="0.8" fill="#5a1460" opacity="0.85"/>
<rect x="158.2" y="88.3" width="2.0" height="1.5" fill="#5a1460" opacity="0.85"/>
<rect x="178.9" y="106.4" width="1.6" height="0.9" fill="#803080" opacity="0.85"/>
<rect x="181.6" y="82.6" width="1.3" height="0.6" fill="#4a1050" opacity="0.85"/>
<rect x="183.0" y="86.7" width="1.5" height="0.8" fill="#803080" opacity="0.85"/>
<rect x="160.9" y="103.2" width="1.1" height="1.5" fill="#803080" opacity="0.85"/>
<rect x="172.2" y="106.0" width="1.8" height="1.0" fill="#5a1460" opacity="0.85"/>
<rect x="165.7" y="103.0" width="1.2" height="0.8" fill="#5a1460" opacity="0.85"/>
<rect x="168.5" y="97.5" width="0.9" height="1.2" fill="#701868" opacity="0.85"/>
<rect x="152.0" y="108.9" width="1.3" height="0.9" fill="#381040" opacity="0.85"/>
<rect x="163.0" y="98.8" width="0.8" height="0.8" fill="#803080" opacity="0.85"/>
<rect x="183.1" y="106.2" width="1.2" height="1.0" fill="#4a1050" opacity="0.85"/>
<rect x="165.4" y="103.8" width="1.5" height="1.2" fill="#381040" opacity="0.85"/>
<rect x="177.1" y="90.2" width="1.8" height="1.5" fill="#4a1050" opacity="0.85"/>
<rect x="165.1" y="110.1" width="1.9" height="1.3" fill="#381040" opacity="0.85"/>
<rect x="178.4" y="110.9" width="1.9" height="0.8" fill="#4a1050" opacity="0.85"/>
<rect x="161.6" y="113.1" width="1.4" height="1.4" fill="#701868" opacity="0.85"/>
<rect x="161.7" y="118.3" width="1.4" height="1.4" fill="#803080" opacity="0.85"/>
<rect x="171.0" y="104.7" width="1.5" height="1.6" fill="#4a1050" opacity="0.85"/>
<rect x="166.0" y="102.6" width="1.9" height="1.0" fill="#803080" opacity="0.85"/>
<rect x="154.0" y="95.9" width="0.8" height="0.9" fill="#381040" opacity="0.85"/>
<rect x="164.0" y="92.6" width="0.6" height="1.6" fill="#701868" opacity="0.85"/>
<rect x="185.3" y="106.7" width="0.6" height="1.7" fill="#803080" opacity="0.85"/>
<rect x="169.8" y="110.2" width="0.6" height="0.8" fill="#381040" opacity="0.85"/>
<rect x="185.5" y="105.9" width="1.0" height="0.9" fill="#5a1460" opacity="0.85"/>
<rect x="168.2" y="101.8" width="1.9" height="1.3" fill="#4a1050" opacity="0.85"/>
<rect x="175.1" y="98.2" width="1.2" height="0.8" fill="#5a1460" opacity="0.85"/>
<rect x="171.8" y="82.2" width="1.2" height="1.4" fill="#381040" opacity="0.85"/>
<rect x="170.7" y="94.5" width="2.0" height="0.6" fill="#5a1460" opacity="0.85"/>
<rect x="175.9" y="101.6" width="1.1" height="1.4" fill="#4a1050" opacity="0.85"/>
<rect x="176.4" y="108.8" width="0.9" height="1.3" fill="#4a1050" opacity="0.85"/>
<rect x="162.1" y="79.0" width="0.8" height="1.6" fill="#701868" opacity="0.85"/>
<rect x="168.3" y="108.2" width="0.9" height="1.8" fill="#381040" opacity="0.85"/>
<rect x="184.5" y="99.5" width="0.8" height="1.7" fill="#5a1460" opacity="0.85"/>
<rect x="175.0" y="87.8" width="1.2" height="1.3" fill="#4a1050" opacity="0.85"/>
<rect x="183.6" y="91.2" width="1.7" height="1.3" fill="#803080" opacity="0.85"/>
<rect x="156.2" y="105.6" width="1.5" height="1.4" fill="#803080" opacity="0.85"/>
<rect x="167.5" y="99.6" width="1.9" height="1.3" fill="#4a1050" opacity="0.85"/>
<rect x="175.1" y="104.4" width="0.8" height="1.4" fill="#381040" opacity="0.85"/>
<rect x="153.9" y="100.0" width="1.9" height="1.6" fill="#803080" opacity="0.85"/>
<rect x="163.9" y="110.7" width="1.4" height="1.5" fill="#5a1460" opacity="0.85"/>
<rect x="154.9" y="112.4" width="1.9" height="1.3" fill="#803080" opacity="0.85"/>
<rect x="168.9" y="108.0" width="2.0" height="0.9" fill="#701868" opacity="0.85"/>
<rect x="166.3" y="89.3" width="2.0" height="1.4" fill="#4a1050" opacity="0.85"/>
<rect x="166.4" y="113.8" width="1.7" height="1.0" fill="#701868" opacity="0.85"/>
<rect x="163.0" y="95.0" width="1.8" height="1.8" fill="#701868" opacity="0.85"/>
<rect x="157.0" y="100.8" width="0.8" height="1.5" fill="#4a1050" opacity="0.85"/>
<rect x="156.4" y="91.3" width="1.3" height="1.4" fill="#803080" opacity="0.85"/>
<rect x="182.7" y="100.3" width="0.7" height="0.9" fill="#5a1460" opacity="0.85"/>
<rect x="184.2" y="111.9" width="1.8" height="1.6" fill="#381040" opacity="0.85"/>
<rect x="179.6" y="104.8" width="0.7" height="1.2" fill="#701868" opacity="0.85"/>
<rect x="171.0" y="93.8" width="1.0" height="1.0" fill="#701868" opacity="0.85"/>
<rect x="188.8" y="89.6" width="1.2" height="1.3" fill="#803080" opacity="0.85"/>
<rect x="176.8" y="85.8" width="1.5" height="1.0" fill="#381040" opacity="0.85"/>
<rect x="167.0" y="87.3" width="0.7" height="1.6" fill="#4a1050" opacity="0.85"/>
<rect x="174.5" y="93.0" width="2.0" height="1.2" fill="#803080" opacity="0.85"/>
<rect x="171.7" y="95.2" width="1.8" height="0.9" fill="#381040" opacity="0.85"/>
<rect x="163.3" y="99.6" width="0.7" height="1.6" fill="#4a1050" opacity="0.85"/>
<rect x="173.7" y="98.5" width="1.4" height="1.7" fill="#381040" opacity="0.85"/>
<rect x="177.8" y="103.6" width="0.9" height="0.8" fill="#803080" opacity="0.85"/>
<rect x="173.6" y="95.8" width="1.8" height="0.9" fill="#5a1460" opacity="0.85"/>
<rect x="180.9" y="116.8" width="1.3" height="1.5" fill="#5a1460" opacity="0.85"/>
<rect x="172.0" y="119.9" width="0.8" height="1.8" fill="#5a1460" opacity="0.85"/>
<rect x="163.9" y="127.1" width="1.5" height="1.2" fill="#4a1050" opacity="0.85"/>
<rect x="177.3" y="92.3" width="1.2" height="1.2" fill="#4a1050" opacity="0.85"/>
<rect x="170.9" y="102.9" width="0.9" height="1.2" fill="#381040" opacity="0.85"/>
<rect x="181.0" y="79.4" width="0.8" height="1.4" fill="#701868" opacity="0.85"/>
<rect x="164.3" y="96.9" width="1.9" height="1.7" fill="#5a1460" opacity="0.85"/>
<rect x="153.7" y="104.0" width="1.1" height="1.3" fill="#803080" opacity="0.85"/>
<rect x="172.8" y="88.0" width="1.1" height="0.7" fill="#5a1460" opacity="0.85"/>
<rect x="169.2" y="103.0" width="1.3" height="0.9" fill="#5a1460" opacity="0.85"/>
<rect x="166.9" y="110.3" width="1.0" height="0.6" fill="#5a1460" opacity="0.85"/>
<rect x="173.2" y="104.4" width="1.2" height="1.0" fill="#701868" opacity="0.85"/>
<rect x="175.3" y="79.1" width="1.3" height="1.7" fill="#701868" opacity="0.85"/>
<rect x="178.5" y="121.5" width="1.1" height="1.3" fill="#5a1460" opacity="0.85"/>
<rect x="165.4" y="122.6" width="1.6" height="1.3" fill="#5a1460" opacity="0.85"/>
<rect x="167.2" y="103.0" width="0.9" height="1.2" fill="#4a1050" opacity="0.85"/>
<rect x="183.2" y="111.6" width="1.6" height="1.7" fill="#4a1050" opacity="0.85"/>
<rect x="184.0" y="99.3" width="1.0" height="1.8" fill="#4a1050" opacity="0.85"/>
<rect x="177.5" y="103.8" width="1.6" height="1.2" fill="#803080" opacity="0.85"/>
<rect x="164.6" y="111.5" width="1.8" height="0.6" fill="#803080" opacity="0.85"/>
<rect x="173.5" y="105.4" width="0.7" height="1.7" fill="#5a1460" opacity="0.85"/>
<rect x="170.2" y="118.4" width="1.9" height="1.4" fill="#803080" opacity="0.85"/>
<rect x="153.3" y="118.8" width="0.7" height="1.6" fill="#4a1050" opacity="0.85"/>
<rect x="175.8" y="99.5" width="1.3" height="1.1" fill="#701868" opacity="0.85"/>
<rect x="173.2" y="98.6" width="2.0" height="1.8" fill="#4a1050" opacity="0.85"/>
<rect x="163.7" y="90.8" width="1.1" height="1.0" fill="#5a1460" opacity="0.85"/>
<rect x="184.0" y="115.0" width="1.0" height="0.8" fill="#701868" opacity="0.85"/>
<rect x="174.5" y="104.3" width="1.7" height="0.7" fill="#803080" opacity="0.85"/>
<rect x="168.2" y="110.8" width="1.4" height="1.1" fill="#4a1050" opacity="0.85"/>
<rect x="170.7" y="99.6" width="0.9" height="0.8" fill="#4a1050" opacity="0.85"/>
<rect x="172.8" y="99.6" width="0.9" height="0.7" fill="#701868" opacity="0.85"/>
<rect x="164.2" y="101.3" width="1.3" height="0.6" fill="#701868" opacity="0.85"/>
<rect x="196.8" y="95.7" width="1.2" height="1.2" fill="#4a1050" opacity="0.85"/>
<rect x="181.7" y="94.3" width="0.9" height="0.9" fill="#5a1460" opacity="0.85"/>
<rect x="174.0" y="85.1" width="1.5" height="1.1" fill="#701868" opacity="0.85"/>
<rect x="168.6" y="110.1" width="0.9" height="0.8" fill="#381040" opacity="0.85"/>
<rect x="169.6" y="107.5" width="1.6" height="1.1" fill="#4a1050" opacity="0.85"/>
<rect x="173.2" y="102.4" width="2.0" height="1.5" fill="#4a1050" opacity="0.85"/>
<rect x="171.3" y="83.4" width="1.0" height="0.6" fill="#4a1050" opacity="0.85"/>
<rect x="181.3" y="103.2" width="1.3" height="0.8" fill="#5a1460" opacity="0.85"/>
<rect x="167.9" y="91.6" width="0.7" height="1.7" fill="#381040" opacity="0.85"/>
<rect x="177.7" y="100.1" width="0.7" height="1.1" fill="#381040" opacity="0.85"/>
<rect x="165.6" y="98.3" width="1.1" height="0.9" fill="#701868" opacity="0.85"/>
<rect x="169.3" y="94.4" width="1.2" height="1.6" fill="#381040" opacity="0.85"/>
<rect x="175.1" y="101.6" width="1.4" height="1.8" fill="#4a1050" opacity="0.85"/>
<rect x="175.2" y="98.0" width="1.6" height="0.9" fill="#803080" opacity="0.85"/>
<rect x="186.8" y="112.0" width="1.7" height="1.0" fill="#803080" opacity="0.85"/>
<rect x="185.4" y="93.3" width="0.8" height="0.7" fill="#381040" opacity="0.85"/>
<rect x="161.1" y="105.1" width="1.6" height="1.3" fill="#4a1050" opacity="0.85"/>
<rect x="174.4" y="99.6" width="0.8" height="1.0" fill="#4a1050" opacity="0.85"/>
<rect x="182.0" y="103.9" width="1.1" height="1.4" fill="#701868" opacity="0.85"/>
<rect x="163.5" y="110.6" width="0.8" height="1.1" fill="#701868" opacity="0.85"/>
<rect x="173.8" y="104.3" width="1.6" height="1.6" fill="#803080" opacity="0.85"/>
<rect x="169.0" y="96.0" width="1.6" height="0.7" fill="#701868" opacity="0.85"/>
<rect x="163.3" y="109.2" width="0.8" height="1.6" fill="#4a1050" opacity="0.85"/>
<rect x="103.5" y="89.3" width="0.9" height="1.1" fill="#a03090" opacity="0.85"/>
<rect x="192.1" y="73.1" width="0.7" height="1.0" fill="#a03090" opacity="0.85"/>
<rect x="111.3" y="96.5" width="1.1" height="0.7" fill="#a03090" opacity="0.85"/>
<rect x="139.0" y="118.4" width="0.5" height="0.8" fill="#a03090" opacity="0.85"/>
<rect x="141.9" y="61.6" width="1.4" height="0.9" fill="#ffa41f" opacity="0.85"/>
<rect x="133.8" y="181.0" width="1.1" height="0.9" fill="#a03090" opacity="0.85"/>
<rect x="141.9" y="166.8" width="1.4" height="0.8" fill="#e512b4" opacity="0.85"/>
<rect x="222.5" y="75.5" width="1.4" height="1.0" fill="#ffa41f" opacity="0.85"/>
<rect x="171.7" y="56.8" width="1.3" height="0.6" fill="#7a1070" opacity="0.85"/>
<rect x="131.0" y="160.1" width="1.2" height="1.0" fill="#7a1070" opacity="0.85"/>
<rect x="138.2" y="53.0" width="1.0" height="0.8" fill="#7a1070" opacity="0.85"/>
<rect x="234.3" y="94.4" width="0.6" height="1.1" fill="#ffa41f" opacity="0.85"/>
<rect x="223.6" y="116.2" width="0.7" height="1.1" fill="#7a1070" opacity="0.85"/>
<rect x="150.4" y="106.2" width="0.8" height="0.6" fill="#ffa41f" opacity="0.85"/>
<rect x="116.3" y="138.9" width="0.9" height="0.5" fill="#c010a0" opacity="0.85"/>
<rect x="212.1" y="80.3" width="1.4" height="1.1" fill="#e512b4" opacity="0.85"/>
<rect x="166.6" y="72.5" width="1.1" height="0.6" fill="#7a1070" opacity="0.85"/>
<rect x="138.0" y="119.6" width="1.6" height="1.2" fill="#a03090" opacity="0.85"/>
<rect x="160.1" y="71.5" width="1.3" height="0.6" fill="#e512b4" opacity="0.85"/>
<rect x="147.1" y="62.8" width="1.2" height="0.6" fill="#e512b4" opacity="0.85"/>
<rect x="91.7" y="143.8" width="0.8" height="0.6" fill="#a03090" opacity="0.85"/>
<rect x="218.3" y="169.6" width="0.8" height="0.9" fill="#c010a0" opacity="0.85"/>
<rect x="193.7" y="91.7" width="1.1" height="0.9" fill="#e512b4" opacity="0.85"/>
<rect x="172.7" y="79.1" width="0.8" height="0.8" fill="#ffa41f" opacity="0.85"/>
<rect x="154.8" y="177.5" width="0.9" height="0.8" fill="#e512b4" opacity="0.85"/>
<rect x="208.3" y="106.5" width="1.1" height="0.8" fill="#7a1070" opacity="0.85"/>
<rect x="95.0" y="161.9" width="0.8" height="1.0" fill="#7a1070" opacity="0.85"/>
<rect x="129.9" y="136.5" width="1.4" height="0.9" fill="#a03090" opacity="0.85"/>
<rect x="159.3" y="162.3" width="1.6" height="1.0" fill="#e512b4" opacity="0.85"/>
<rect x="248.3" y="146.6" width="0.6" height="0.6" fill="#e512b4" opacity="0.85"/>
<rect x="155.9" y="108.0" width="1.0" height="1.1" fill="#a03090" opacity="0.85"/>
<rect x="152.0" y="98.5" width="0.6" height="0.9" fill="#c010a0" opacity="0.85"/>
<rect x="109.0" y="87.0" width="0.7" height="1.1" fill="#a03090" opacity="0.85"/>
<rect x="153.8" y="93.7" width="1.1" height="0.7" fill="#a03090" opacity="0.85"/>
<rect x="228.1" y="135.5" width="1.4" height="0.8" fill="#7a1070" opacity="0.85"/>
<rect x="269.1" y="139.0" width="0.9" height="1.1" fill="#c010a0" opacity="0.85"/>
<rect x="150.3" y="105.8" width="0.7" height="0.5" fill="#7a1070" opacity="0.85"/>
<rect x="185.8" y="97.4" width="0.8" height="1.1" fill="#7a1070" opacity="0.85"/>
<rect x="172.1" y="167.1" width="1.4" height="0.5" fill="#7a1070" opacity="0.85"/>
<rect x="157.3" y="175.3" width="1.3" height="1.0" fill="#7a1070" opacity="0.85"/>
<rect x="179.5" y="113.9" width="1.1" height="0.5" fill="#c010a0" opacity="0.85"/>
<rect x="120.1" y="71.6" width="0.6" height="0.9" fill="#a03090" opacity="0.85"/>
<rect x="119.6" y="119.4" width="0.8" height="0.9" fill="#7a1070" opacity="0.85"/>
<rect x="219.8" y="152.4" width="0.6" height="0.7" fill="#e512b4" opacity="0.85"/>
<rect x="212.9" y="124.8" width="1.4" height="1.2" fill="#a03090" opacity="0.85"/>
<rect x="241.4" y="143.4" width="1.1" height="1.0" fill="#7a1070" opacity="0.85"/>
<rect x="155.0" y="110.4" width="1.4" height="1.0" fill="#c010a0" opacity="0.85"/>
<rect x="107.6" y="134.6" width="1.2" height="1.0" fill="#e512b4" opacity="0.85"/>
<rect x="182.2" y="65.8" width="0.7" height="1.1" fill="#e512b4" opacity="0.85"/>
<rect x="240.8" y="145.9" width="0.8" height="0.6" fill="#a03090" opacity="0.85"/>
<rect x="145.8" y="137.9" width="0.5" height="0.7" fill="#a03090" opacity="0.85"/>
<rect x="117.4" y="87.3" width="0.8" height="1.0" fill="#7a1070" opacity="0.85"/>
<rect x="264.9" y="133.2" width="1.1" height="0.5" fill="#7a1070" opacity="0.85"/>
<rect x="98.8" y="86.4" width="0.6" height="1.1" fill="#7a1070" opacity="0.85"/>
<rect x="189.6" y="134.6" width="0.9" height="0.9" fill="#c010a0" opacity="0.85"/>
<rect x="157.3" y="163.3" width="1.5" height="0.7" fill="#c010a0" opacity="0.85"/>
<rect x="137.8" y="185.1" width="0.8" height="1.0" fill="#a03090" opacity="0.85"/>
<rect x="160.9" y="77.2" width="1.0" height="1.1" fill="#c010a0" opacity="0.85"/>
<rect x="172.9" y="95.5" width="0.5" height="1.0" fill="#ffa41f" opacity="0.85"/>
<rect x="153.7" y="75.0" width="1.0" height="1.1" fill="#7a1070" opacity="0.85"/>
<rect x="228.6" y="106.9" width="1.0" height="0.9" fill="#c010a0" opacity="0.85"/>
<rect x="220.9" y="96.3" width="0.8" height="0.7" fill="#e512b4" opacity="0.85"/>
<rect x="110.3" y="85.7" width="1.1" height="0.7" fill="#a03090" opacity="0.85"/>
<rect x="240.9" y="125.7" width="1.1" height="1.1" fill="#a03090" opacity="0.85"/>
<rect x="173.9" y="167.5" width="0.7" height="0.6" fill="#ffa41f" opacity="0.85"/>
<rect x="163.8" y="119.4" width="0.8" height="1.0" fill="#c010a0" opacity="0.85"/>
<rect x="167.9" y="85.1" width="0.7" height="0.9" fill="#e512b4" opacity="0.85"/>
<rect x="123.0" y="114.3" width="0.7" height="1.0" fill="#a03090" opacity="0.85"/>
<rect x="177.5" y="58.7" width="1.0" height="1.1" fill="#c010a0" opacity="0.85"/>
<rect x="168.1" y="169.8" width="1.2" height="0.9" fill="#7a1070" opacity="0.85"/>
<rect x="151.8" y="59.4" width="1.6" height="0.6" fill="#e512b4" opacity="0.85"/>
<rect x="144.5" y="81.4" width="0.6" height="0.9" fill="#e512b4" opacity="0.85"/>
<rect x="125.9" y="81.8" width="0.8" height="0.6" fill="#e512b4" opacity="0.85"/>
<rect x="129.1" y="79.9" width="0.6" height="0.7" fill="#ffa41f" opacity="0.85"/>
<rect x="107.9" y="147.2" width="1.6" height="0.6" fill="#e512b4" opacity="0.85"/>
<rect x="94.7" y="156.0" width="1.2" height="0.9" fill="#ffa41f" opacity="0.85"/>
<rect x="129.2" y="105.9" width="1.5" height="0.9" fill="#a03090" opacity="0.85"/>
<rect x="169.1" y="108.7" width="1.4" height="0.8" fill="#a03090" opacity="0.85"/>
<rect x="120.8" y="104.1" width="0.7" height="0.5" fill="#ffa41f" opacity="0.85"/>
<rect x="181.6" y="61.5" width="1.5" height="0.8" fill="#7a1070" opacity="0.85"/>
<rect x="177.8" y="67.4" width="1.0" height="0.6" fill="#c010a0" opacity="0.85"/>
<rect x="143.2" y="149.5" width="0.7" height="0.8" fill="#c010a0" opacity="0.85"/>
<rect x="158.3" y="150.6" width="1.2" height="0.7" fill="#a03090" opacity="0.85"/>
<rect x="111.6" y="143.2" width="0.5" height="0.7" fill="#7a1070" opacity="0.85"/>
<rect x="234.4" y="145.9" width="0.6" height="1.0" fill="#c010a0" opacity="0.85"/>
<rect x="92.6" y="151.2" width="1.3" height="0.9" fill="#7a1070" opacity="0.85"/>
<rect x="205.1" y="153.5" width="0.6" height="0.8" fill="#e512b4" opacity="0.85"/>
<rect x="177.6" y="109.7" width="1.0" height="0.7" fill="#e512b4" opacity="0.85"/>
<rect x="206.9" y="167.2" width="1.1" height="0.9" fill="#ffa41f" opacity="0.85"/>
<rect x="241.5" y="130.8" width="0.8" height="1.1" fill="#ffa41f" opacity="0.85"/>
<rect x="116.2" y="101.7" width="0.8" height="0.6" fill="#a03090" opacity="0.85"/>
<rect x="183.5" y="107.0" width="1.5" height="0.7" fill="#7a1070" opacity="0.85"/>
<rect x="191.2" y="105.6" width="1.2" height="1.0" fill="#e512b4" opacity="0.85"/>
<rect x="168.9" y="156.9" width="1.5" height="0.6" fill="#e512b4" opacity="0.85"/>
<rect x="143.5" y="149.9" width="1.4" height="0.8" fill="#e512b4" opacity="0.85"/>
<rect x="93.0" y="118.6" width="1.4" height="0.9" fill="#e512b4" opacity="0.85"/>
<rect x="141.3" y="187.4" width="0.8" height="0.7" fill="#ffa41f" opacity="0.85"/>
<rect x="198.0" y="171.8" width="1.0" height="0.9" fill="#e512b4" opacity="0.85"/>
<rect x="127.5" y="168.1" width="1.2" height="0.7" fill="#7a1070" opacity="0.85"/>
<rect x="172.0" y="92.2" width="0.8" height="0.9" fill="#a03090" opacity="0.85"/>
<rect x="103.7" y="162.6" width="0.9" height="0.8" fill="#ffa41f" opacity="0.85"/>
<rect x="146.3" y="167.2" width="1.3" height="0.8" fill="#7a1070" opacity="0.85"/>
<rect x="163.9" y="176.1" width="1.2" height="0.9" fill="#7a1070" opacity="0.85"/>
<rect x="132.3" y="108.3" width="0.8" height="1.1" fill="#ffa41f" opacity="0.85"/>
<rect x="200.6" y="74.2" width="1.2" height="1.1" fill="#a03090" opacity="0.85"/>
<rect x="135.7" y="135.2" width="0.9" height="0.6" fill="#c010a0" opacity="0.85"/>
<rect x="207.7" y="88.5" width="0.7" height="0.9" fill="#e512b4" opacity="0.85"/>
<rect x="185.3" y="106.1" width="1.6" height="0.8" fill="#c010a0" opacity="0.85"/>
<rect x="214.1" y="73.0" width="1.3" height="1.0" fill="#a03090" opacity="0.85"/>
<rect x="162.0" y="128.3" width="0.9" height="0.8" fill="#a03090" opacity="0.85"/>
<rect x="113.9" y="119.8" width="1.6" height="0.8" fill="#7a1070" opacity="0.85"/>
<rect x="224.7" y="149.8" width="1.4" height="1.1" fill="#c010a0" opacity="0.85"/>
<rect x="137.3" y="160.5" width="0.9" height="0.9" fill="#ffa41f" opacity="0.85"/>
<rect x="121.8" y="124.8" width="0.7" height="0.6" fill="#c010a0" opacity="0.85"/>
<rect x="192.5" y="75.4" width="1.5" height="0.9" fill="#7a1070" opacity="0.85"/>
<rect x="114.4" y="125.5" width="1.6" height="0.7" fill="#7a1070" opacity="0.85"/>
<rect x="128.5" y="113.0" width="1.4" height="0.8" fill="#ffa41f" opacity="0.85"/>
<rect x="130.0" y="81.4" width="1.2" height="0.8" fill="#e512b4" opacity="0.85"/>
<rect x="165.2" y="142.7" width="0.8" height="0.7" fill="#e512b4" opacity="0.85"/>
<rect x="110.9" y="169.5" width="1.2" height="0.9" fill="#e512b4" opacity="0.85"/>
<rect x="250.7" y="115.8" width="1.4" height="0.6" fill="#c010a0" opacity="0.85"/>
<rect x="187.3" y="83.3" width="0.7" height="0.6" fill="#ffa41f" opacity="0.85"/>
<rect x="269.0" y="160.3" width="1.2" height="1.1" fill="#7a1070" opacity="0.85"/>
<rect x="237.5" y="127.9" width="0.6" height="0.9" fill="#7a1070" opacity="0.85"/>
<rect x="134.8" y="154.1" width="1.2" height="1.2" fill="#7a1070" opacity="0.85"/>
<rect x="231.1" y="109.9" width="1.0" height="0.9" fill="#ffa41f" opacity="0.85"/>
<rect x="257.3" y="145.9" width="1.4" height="0.7" fill="#c010a0" opacity="0.85"/>
<rect x="111.5" y="64.1" width="1.2" height="0.6" fill="#ffa41f" opacity="0.85"/>
<rect x="149.3" y="151.7" width="1.4" height="0.9" fill="#ffa41f" opacity="0.85"/>
<rect x="120.1" y="55.2" width="0.5" height="1.1" fill="#ffa41f" opacity="0.85"/>
<rect x="224.8" y="118.6" width="1.0" height="1.1" fill="#e512b4" opacity="0.85"/>
<rect x="231.5" y="130.8" width="0.9" height="0.9" fill="#c010a0" opacity="0.85"/>
<rect x="164.5" y="52.5" width="0.5" height="0.5" fill="#a03090" opacity="0.85"/>
<rect x="233.0" y="107.8" width="0.9" height="0.5" fill="#c010a0" opacity="0.85"/>
<rect x="165.8" y="167.8" width="1.6" height="1.1" fill="#ffa41f" opacity="0.85"/>
<rect x="195.8" y="129.9" width="1.6" height="0.9" fill="#e512b4" opacity="0.85"/>
<rect x="163.3" y="185.9" width="1.1" height="0.8" fill="#ffa41f" opacity="0.85"/>
<rect x="178.5" y="103.8" width="1.0" height="0.8" fill="#e512b4" opacity="0.85"/>
<rect x="222.6" y="113.5" width="0.6" height="1.1" fill="#7a1070" opacity="0.85"/>
<rect x="210.4" y="84.9" width="1.4" height="1.1" fill="#e512b4" opacity="0.85"/>
<rect x="133.5" y="129.4" width="0.6" height="0.9" fill="#ffa41f" opacity="0.85"/>
<rect x="117.0" y="106.2" width="1.0" height="1.2" fill="#8a2a80" opacity="0.9"/>
<rect x="119.8" y="99.5" width="1.1" height="0.9" fill="#c010a0" opacity="0.9"/>
<rect x="116.5" y="95.7" width="1.5" height="0.7" fill="#8a2a80" opacity="0.9"/>
<rect x="119.0" y="103.4" width="1.7" height="0.5" fill="#5a1460" opacity="0.9"/>
<rect x="114.5" y="109.9" width="1.5" height="0.7" fill="#e512b4" opacity="0.9"/>
<rect x="120.0" y="103.0" width="0.8" height="0.8" fill="#5a1460" opacity="0.9"/>
<rect x="118.9" y="108.9" width="1.8" height="1.1" fill="#8a2a80" opacity="0.9"/>
<rect x="116.3" y="102.8" width="0.8" height="0.9" fill="#e512b4" opacity="0.9"/>
<rect x="115.2" y="105.9" width="0.7" height="0.9" fill="#c010a0" opacity="0.9"/>
<rect x="119.4" y="96.6" width="1.2" height="1.1" fill="#e512b4" opacity="0.9"/>
<rect x="119.9" y="104.5" width="1.0" height="0.9" fill="#e512b4" opacity="0.9"/>
<rect x="119.3" y="103.5" width="0.6" height="0.8" fill="#5a1460" opacity="0.9"/>
<rect x="122.5" y="102.3" width="1.3" height="0.6" fill="#e512b4" opacity="0.9"/>
<rect x="119.5" y="100.4" width="1.1" height="1.2" fill="#7a1070" opacity="0.9"/>
<rect x="124.1" y="108.6" width="1.6" height="0.7" fill="#7a1070" opacity="0.9"/>
<rect x="126.0" y="104.0" width="0.6" height="1.1" fill="#5a1460" opacity="0.9"/>
<rect x="118.8" y="99.5" width="1.8" height="0.6" fill="#5a1460" opacity="0.9"/>
<rect x="120.5" y="108.6" width="1.4" height="1.2" fill="#c010a0" opacity="0.9"/>
<rect x="115.1" y="103.0" width="1.3" height="0.6" fill="#5a1460" opacity="0.9"/>
<rect x="115.1" y="102.0" width="0.8" height="1.1" fill="#7a1070" opacity="0.9"/>
<rect x="117.1" y="102.6" width="1.5" height="0.7" fill="#5a1460" opacity="0.9"/>
<rect x="120.7" y="105.5" width="1.5" height="0.9" fill="#c010a0" opacity="0.9"/>
<rect x="116.3" y="104.5" width="1.6" height="0.6" fill="#c010a0" opacity="0.9"/>
<rect x="124.0" y="106.4" width="1.7" height="0.8" fill="#e512b4" opacity="0.9"/>
<rect x="121.1" y="106.5" width="1.6" height="0.8" fill="#e512b4" opacity="0.9"/>
<rect x="117.0" y="104.3" width="0.8" height="1.0" fill="#5a1460" opacity="0.9"/>
<rect x="114.6" y="105.2" width="1.2" height="1.1" fill="#c010a0" opacity="0.9"/>
<rect x="120.8" y="106.3" width="1.0" height="0.7" fill="#5a1460" opacity="0.9"/>
<rect x="121.2" y="106.3" width="0.9" height="1.2" fill="#c010a0" opacity="0.9"/>
<rect x="115.0" y="101.2" width="1.3" height="0.6" fill="#c010a0" opacity="0.9"/>
<rect x="119.1" y="104.8" width="1.6" height="0.7" fill="#c010a0" opacity="0.9"/>
<rect x="117.9" y="105.5" width="1.4" height="1.0" fill="#8a2a80" opacity="0.9"/>
<rect x="115.4" y="103.9" width="1.1" height="0.8" fill="#e512b4" opacity="0.9"/>
<rect x="122.5" y="98.3" width="1.3" height="0.9" fill="#c010a0" opacity="0.9"/>
<rect x="117.7" y="102.7" width="1.4" height="0.7" fill="#c010a0" opacity="0.9"/>
<rect x="114.7" y="103.8" width="1.6" height="0.7" fill="#c010a0" opacity="0.9"/>
<rect x="122.8" y="100.0" width="1.1" height="1.3" fill="#8a2a80" opacity="0.9"/>
<rect x="123.8" y="109.5" width="1.6" height="0.8" fill="#8a2a80" opacity="0.9"/>
<rect x="118.9" y="104.0" width="1.6" height="0.8" fill="#8a2a80" opacity="0.9"/>
<rect x="119.3" y="102.0" width="1.1" height="0.8" fill="#e512b4" opacity="0.9"/>
<rect x="120.4" y="109.4" width="0.6" height="1.3" fill="#e512b4" opacity="0.9"/>
<rect x="118.7" y="107.1" width="1.0" height="1.0" fill="#c010a0" opacity="0.9"/>
<rect x="116.3" y="100.8" width="1.0" height="0.6" fill="#c010a0" opacity="0.9"/>
<rect x="122.4" y="105.6" width="1.5" height="1.1" fill="#8a2a80" opacity="0.9"/>
<rect x="123.4" y="102.2" width="1.0" height="0.6" fill="#8a2a80" opacity="0.9"/>
<rect x="123.0" y="102.4" width="1.8" height="0.8" fill="#8a2a80" opacity="0.9"/>
<rect x="106.3" y="112.2" width="0.5" height="0.9" fill="#c010a0" opacity="0.9"/>
<rect x="112.1" y="103.7" width="0.6" height="0.7" fill="#7a1070" opacity="0.9"/>
<rect x="120.5" y="105.1" width="1.5" height="0.9" fill="#c010a0" opacity="0.9"/>
<rect x="113.2" y="103.1" width="1.5" height="0.6" fill="#e512b4" opacity="0.9"/>
<rect x="128.4" y="133.2" width="1.7" height="1.2" fill="#7a1070" opacity="0.9"/>
<rect x="127.6" y="133.0" width="0.9" height="0.8" fill="#8a2a80" opacity="0.9"/>
<rect x="129.0" y="132.8" width="0.5" height="1.1" fill="#5a1460" opacity="0.9"/>
<rect x="126.0" y="130.4" width="1.8" height="0.7" fill="#c010a0" opacity="0.9"/>
<rect x="126.0" y="132.3" width="1.7" height="1.2" fill="#c010a0" opacity="0.9"/>
<rect x="128.1" y="130.5" width="1.5" height="0.6" fill="#c010a0" opacity="0.9"/>
<rect x="126.9" y="134.5" width="1.2" height="1.0" fill="#5a1460" opacity="0.9"/>
<rect x="130.6" y="133.5" width="1.3" height="0.8" fill="#7a1070" opacity="0.9"/>
<rect x="133.4" y="132.3" width="1.5" height="1.1" fill="#c010a0" opacity="0.9"/>
<rect x="127.2" y="133.9" width="0.9" height="1.1" fill="#7a1070" opacity="0.9"/>
<rect x="124.5" y="135.8" width="1.0" height="1.1" fill="#8a2a80" opacity="0.9"/>
<rect x="129.3" y="131.4" width="1.2" height="1.1" fill="#e512b4" opacity="0.9"/>
<rect x="123.4" y="129.7" width="1.1" height="0.8" fill="#5a1460" opacity="0.9"/>
<rect x="125.2" y="129.0" width="1.1" height="0.5" fill="#7a1070" opacity="0.9"/>
<rect x="128.3" y="130.1" width="1.5" height="1.1" fill="#c010a0" opacity="0.9"/>
<rect x="126.6" y="136.1" width="1.3" height="0.9" fill="#7a1070" opacity="0.9"/>
<rect x="127.4" y="127.9" width="0.9" height="0.9" fill="#7a1070" opacity="0.9"/>
<rect x="131.1" y="137.6" width="1.0" height="0.5" fill="#5a1460" opacity="0.9"/>
<rect x="125.7" y="138.0" width="1.3" height="0.6" fill="#7a1070" opacity="0.9"/>
<rect x="127.8" y="130.6" width="0.7" height="0.6" fill="#8a2a80" opacity="0.9"/>
<rect x="128.0" y="135.4" width="1.3" height="0.9" fill="#5a1460" opacity="0.9"/>
<rect x="132.6" y="129.0" width="0.9" height="1.0" fill="#8a2a80" opacity="0.9"/>
<rect x="133.6" y="131.2" width="0.9" height="0.8" fill="#7a1070" opacity="0.9"/>
<rect x="129.2" y="134.8" width="0.5" height="1.2" fill="#5a1460" opacity="0.9"/>
<rect x="127.8" y="132.4" width="0.7" height="0.8" fill="#5a1460" opacity="0.9"/>
<rect x="125.9" y="130.0" width="0.7" height="0.7" fill="#8a2a80" opacity="0.9"/>
<rect x="124.6" y="130.6" width="1.0" height="0.9" fill="#5a1460" opacity="0.9"/>
<rect x="128.4" y="131.3" width="1.7" height="1.1" fill="#c010a0" opacity="0.9"/>
<rect x="124.3" y="130.8" width="1.7" height="0.7" fill="#5a1460" opacity="0.9"/>
<rect x="127.7" y="136.3" width="1.7" height="1.2" fill="#7a1070" opacity="0.9"/>
<rect x="133.3" y="132.9" width="0.7" height="1.0" fill="#7a1070" opacity="0.9"/>
<rect x="121.1" y="132.2" width="1.4" height="0.7" fill="#5a1460" opacity="0.9"/>
<rect x="125.4" y="129.9" width="0.7" height="1.1" fill="#c010a0" opacity="0.9"/>
<rect x="130.7" y="132.6" width="1.1" height="0.9" fill="#e512b4" opacity="0.9"/>
<rect x="134.6" y="127.5" width="1.2" height="0.6" fill="#e512b4" opacity="0.9"/>
<rect x="125.9" y="133.7" width="1.5" height="0.9" fill="#8a2a80" opacity="0.9"/>
<rect x="130.9" y="130.9" width="0.8" height="1.1" fill="#c010a0" opacity="0.9"/>
<rect x="132.0" y="132.4" width="0.8" height="0.9" fill="#c010a0" opacity="0.9"/>
<rect x="129.6" y="131.5" width="1.5" height="1.1" fill="#c010a0" opacity="0.9"/>
<rect x="126.7" y="131.2" width="0.6" height="1.1" fill="#7a1070" opacity="0.9"/>
<rect x="127.5" y="129.6" width="1.0" height="1.1" fill="#e512b4" opacity="0.9"/>
<rect x="135.8" y="133.8" width="1.5" height="0.9" fill="#c010a0" opacity="0.9"/>
<rect x="127.6" y="134.5" width="1.6" height="0.7" fill="#8a2a80" opacity="0.9"/>
<rect x="129.0" y="133.7" width="1.4" height="0.8" fill="#5a1460" opacity="0.9"/>
<rect x="136.4" y="130.9" width="1.2" height="1.2" fill="#e512b4" opacity="0.9"/>
<rect x="113.5" y="99.3" width="1.7" height="0.9" fill="#8a2a80" opacity="0.9"/>
<rect x="107.4" y="96.5" width="1.7" height="0.8" fill="#5a1460" opacity="0.9"/>
<rect x="108.6" y="97.8" width="0.7" height="1.3" fill="#5a1460" opacity="0.9"/>
<rect x="111.9" y="97.4" width="0.5" height="1.0" fill="#7a1070" opacity="0.9"/>
<rect x="110.9" y="97.3" width="1.0" height="1.3" fill="#c010a0" opacity="0.9"/>
<rect x="115.1" y="99.1" width="1.2" height="1.3" fill="#e512b4" opacity="0.9"/>
<rect x="108.0" y="99.0" width="1.0" height="0.6" fill="#e512b4" opacity="0.9"/>
<rect x="112.2" y="97.5" width="1.0" height="1.2" fill="#8a2a80" opacity="0.9"/>
<rect x="105.1" y="98.9" width="0.8" height="0.7" fill="#5a1460" opacity="0.9"/>
<rect x="107.8" y="99.9" width="0.6" height="1.2" fill="#8a2a80" opacity="0.9"/>
<rect x="110.1" y="98.7" width="0.8" height="0.5" fill="#8a2a80" opacity="0.9"/>
<rect x="110.8" y="100.8" width="0.6" height="0.6" fill="#e512b4" opacity="0.9"/>
<rect x="114.9" y="100.5" width="1.5" height="0.7" fill="#7a1070" opacity="0.9"/>
<rect x="111.7" y="97.4" width="1.4" height="0.9" fill="#8a2a80" opacity="0.9"/>
<rect x="111.1" y="99.1" width="1.6" height="1.1" fill="#8a2a80" opacity="0.9"/>
<rect x="113.5" y="98.8" width="1.1" height="0.6" fill="#7a1070" opacity="0.9"/>
<rect x="112.0" y="96.8" width="1.5" height="0.9" fill="#8a2a80" opacity="0.9"/>
<rect x="105.8" y="96.9" width="1.4" height="1.0" fill="#e512b4" opacity="0.9"/>
<rect x="107.0" y="99.2" width="0.6" height="0.8" fill="#8a2a80" opacity="0.9"/>
<rect x="111.2" y="98.4" width="1.2" height="0.8" fill="#7a1070" opacity="0.9"/>
<rect x="109.5" y="100.6" width="0.9" height="1.0" fill="#5a1460" opacity="0.9"/>
<rect x="109.5" y="99.8" width="1.0" height="0.9" fill="#e512b4" opacity="0.9"/>
<rect x="109.6" y="97.7" width="1.2" height="0.6" fill="#7a1070" opacity="0.9"/>
<rect x="116.5" y="100.2" width="1.4" height="1.2" fill="#c010a0" opacity="0.9"/>
<rect x="113.8" y="98.0" width="1.1" height="1.2" fill="#7a1070" opacity="0.9"/>
<rect x="166.1" y="121.1" width="1.0" height="0.7" fill="#c010a0" opacity="0.9"/>
<rect x="162.4" y="119.9" width="0.6" height="1.0" fill="#5a1460" opacity="0.9"/>
<rect x="166.3" y="125.5" width="1.7" height="1.3" fill="#c010a0" opacity="0.9"/>
<rect x="157.5" y="127.0" width="1.4" height="0.9" fill="#c010a0" opacity="0.9"/>
<rect x="167.2" y="121.3" width="0.7" height="1.1" fill="#8a2a80" opacity="0.9"/>
<rect x="164.1" y="126.2" width="1.7" height="1.1" fill="#8a2a80" opacity="0.9"/>
<rect x="162.1" y="127.6" width="0.8" height="1.2" fill="#5a1460" opacity="0.9"/>
<rect x="164.6" y="128.4" width="1.4" height="0.9" fill="#7a1070" opacity="0.9"/>
<rect x="166.3" y="124.9" width="0.9" height="1.0" fill="#e512b4" opacity="0.9"/>
<rect x="163.2" y="128.1" width="0.7" height="0.9" fill="#8a2a80" opacity="0.9"/>
<rect x="162.4" y="123.1" width="1.2" height="0.6" fill="#5a1460" opacity="0.9"/>
<rect x="158.1" y="130.2" width="0.8" height="1.2" fill="#8a2a80" opacity="0.9"/>
<rect x="158.2" y="122.8" width="0.9" height="1.1" fill="#7a1070" opacity="0.9"/>
<rect x="161.3" y="130.3" width="0.8" height="0.6" fill="#8a2a80" opacity="0.9"/>
<rect x="160.8" y="128.8" width="1.6" height="0.7" fill="#c010a0" opacity="0.9"/>
<rect x="166.8" y="118.8" width="1.5" height="1.2" fill="#7a1070" opacity="0.9"/>
<rect x="152.0" y="129.3" width="0.7" height="1.2" fill="#5a1460" opacity="0.9"/>
<rect x="158.6" y="127.9" width="1.6" height="0.6" fill="#5a1460" opacity="0.9"/>
<rect x="172.4" y="120.0" width="1.2" height="1.0" fill="#c010a0" opacity="0.9"/>
<rect x="163.7" y="129.5" width="0.8" height="1.0" fill="#8a2a80" opacity="0.9"/>
<rect x="160.0" y="123.9" width="0.6" height="0.6" fill="#5a1460" opacity="0.9"/>
<rect x="158.6" y="129.6" width="0.8" height="0.7" fill="#8a2a80" opacity="0.9"/>
<rect x="159.3" y="128.9" width="1.4" height="1.2" fill="#e512b4" opacity="0.9"/>
<rect x="158.9" y="124.7" width="0.5" height="1.0" fill="#e512b4" opacity="0.9"/>
<rect x="161.1" y="125.0" width="1.6" height="0.7" fill="#8a2a80" opacity="0.9"/>
<rect x="155.0" y="126.3" width="1.1" height="1.2" fill="#5a1460" opacity="0.9"/>
<rect x="155.8" y="135.2" width="1.0" height="1.1" fill="#e512b4" opacity="0.9"/>
<rect x="161.0" y="122.0" width="1.5" height="1.3" fill="#e512b4" opacity="0.9"/>
<rect x="163.3" y="122.5" width="0.9" height="0.7" fill="#5a1460" opacity="0.9"/>
<rect x="169.9" y="130.8" width="0.6" height="0.8" fill="#e512b4" opacity="0.9"/>
<rect x="154.8" y="123.9" width="1.7" height="0.7" fill="#5a1460" opacity="0.9"/>
<rect x="162.9" y="129.9" width="1.2" height="0.6" fill="#8a2a80" opacity="0.9"/>
<rect x="161.4" y="124.9" width="0.5" height="0.8" fill="#7a1070" opacity="0.9"/>
<rect x="157.8" y="125.8" width="1.7" height="0.9" fill="#c010a0" opacity="0.9"/>
<rect x="167.3" y="127.6" width="1.3" height="1.2" fill="#e512b4" opacity="0.9"/>
<rect x="161.4" y="126.2" width="0.7" height="0.7" fill="#7a1070" opacity="0.9"/>
<rect x="163.6" y="122.1" width="1.2" height="0.6" fill="#e512b4" opacity="0.9"/>
<rect x="164.5" y="123.1" width="1.4" height="0.8" fill="#8a2a80" opacity="0.9"/>
<rect x="161.6" y="127.4" width="0.7" height="0.7" fill="#c010a0" opacity="0.9"/>
<rect x="162.3" y="128.1" width="1.0" height="1.1" fill="#7a1070" opacity="0.9"/>
<rect x="119.9" y="159.9" width="1.6" height="1.2" fill="#c010a0" opacity="0.9"/>
<rect x="118.3" y="156.5" width="1.6" height="1.0" fill="#8a2a80" opacity="0.9"/>
<rect x="116.9" y="158.3" width="0.9" height="0.8" fill="#5a1460" opacity="0.9"/>
<rect x="116.9" y="158.8" width="1.5" height="1.2" fill="#c010a0" opacity="0.9"/>
<rect x="117.4" y="160.0" width="1.4" height="0.8" fill="#5a1460" opacity="0.9"/>
<rect x="117.2" y="160.0" width="1.1" height="1.1" fill="#c010a0" opacity="0.9"/>
<rect x="116.8" y="160.5" width="0.6" height="0.8" fill="#8a2a80" opacity="0.9"/>
<rect x="121.7" y="160.1" width="1.0" height="1.2" fill="#8a2a80" opacity="0.9"/>
<rect x="118.2" y="156.5" width="1.1" height="0.6" fill="#5a1460" opacity="0.9"/>
<rect x="122.5" y="160.7" width="1.4" height="1.0" fill="#e512b4" opacity="0.9"/>
<rect x="117.4" y="159.2" width="0.9" height="1.2" fill="#8a2a80" opacity="0.9"/>
<rect x="120.3" y="163.0" width="0.6" height="1.2" fill="#8a2a80" opacity="0.9"/>
<rect x="119.1" y="159.7" width="1.3" height="1.1" fill="#c010a0" opacity="0.9"/>
<rect x="116.0" y="154.7" width="0.8" height="1.1" fill="#e512b4" opacity="0.9"/>
<rect x="118.1" y="154.4" width="1.2" height="1.1" fill="#c010a0" opacity="0.9"/>
<rect x="119.7" y="161.0" width="1.0" height="0.9" fill="#8a2a80" opacity="0.9"/>
<rect x="116.9" y="164.0" width="1.4" height="0.7" fill="#7a1070" opacity="0.9"/>
<rect x="117.7" y="156.7" width="1.0" height="1.2" fill="#e512b4" opacity="0.9"/>
<rect x="116.9" y="157.0" width="1.3" height="1.0" fill="#8a2a80" opacity="0.9"/>
<rect x="116.2" y="161.5" width="1.2" height="0.9" fill="#c010a0" opacity="0.9"/>
<rect x="148.4" y="103.2" width="1.0" height="1.3" fill="#c010a0" opacity="0.9"/>
<rect x="144.5" y="102.4" width="1.1" height="0.6" fill="#e512b4" opacity="0.9"/>
<rect x="143.2" y="104.0" width="1.3" height="0.9" fill="#c010a0" opacity="0.9"/>
<rect x="139.4" y="101.9" width="1.3" height="0.9" fill="#c010a0" opacity="0.9"/>
<rect x="141.6" y="102.3" width="1.6" height="0.6" fill="#7a1070" opacity="0.9"/>
<rect x="147.0" y="104.5" width="1.2" height="1.2" fill="#7a1070" opacity="0.9"/>
<rect x="144.0" y="101.6" width="0.8" height="0.7" fill="#7a1070" opacity="0.9"/>
<rect x="147.4" y="103.3" width="0.5" height="0.8" fill="#e512b4" opacity="0.9"/>
<rect x="149.6" y="101.0" width="1.3" height="0.7" fill="#c010a0" opacity="0.9"/>
<rect x="144.6" y="99.3" width="1.1" height="0.9" fill="#7a1070" opacity="0.9"/>
<rect x="144.8" y="103.7" width="1.7" height="0.8" fill="#c010a0" opacity="0.9"/>
<rect x="142.7" y="100.8" width="1.6" height="1.2" fill="#e512b4" opacity="0.9"/>
<rect x="143.1" y="103.1" width="1.0" height="1.0" fill="#5a1460" opacity="0.9"/>
<rect x="142.9" y="101.7" width="1.0" height="0.8" fill="#8a2a80" opacity="0.9"/>
<rect x="143.8" y="102.3" width="0.9" height="1.1" fill="#5a1460" opacity="0.9"/>
<rect x="145.7" y="101.8" width="1.3" height="1.2" fill="#e512b4" opacity="0.9"/>
<rect x="148.5" y="104.2" width="1.8" height="1.2" fill="#5a1460" opacity="0.9"/>
<rect x="147.3" y="104.4" width="1.2" height="1.3" fill="#c010a0" opacity="0.9"/>
<rect x="145.0" y="103.5" width="0.8" height="0.9" fill="#8a2a80" opacity="0.9"/>
<rect x="142.5" y="105.4" width="1.6" height="0.7" fill="#c010a0" opacity="0.9"/>
<rect x="145.2" y="102.6" width="0.5" height="0.7" fill="#c010a0" opacity="0.9"/>
<rect x="145.9" y="103.1" width="0.8" height="1.1" fill="#e512b4" opacity="0.9"/>
<rect x="144.2" y="102.1" width="0.6" height="1.1" fill="#5a1460" opacity="0.9"/>
<rect x="144.0" y="104.1" width="1.5" height="1.1" fill="#e512b4" opacity="0.9"/>
<rect x="146.9" y="100.9" width="1.8" height="1.2" fill="#7a1070" opacity="0.9"/>
<rect x="121.6" y="89.6" width="0.9" height="1.2" fill="#8a2a80" opacity="0.9"/>
<rect x="118.8" y="90.7" width="1.0" height="0.9" fill="#5a1460" opacity="0.9"/>
<rect x="125.2" y="88.7" width="1.2" height="1.2" fill="#e512b4" opacity="0.9"/>
<rect x="129.0" y="91.5" width="0.9" height="0.8" fill="#c010a0" opacity="0.9"/>
<rect x="125.4" y="88.3" width="0.5" height="0.6" fill="#7a1070" opacity="0.9"/>
<rect x="123.6" y="88.8" width="1.1" height="1.0" fill="#5a1460" opacity="0.9"/>
<rect x="122.0" y="86.6" width="1.8" height="0.5" fill="#e512b4" opacity="0.9"/>
<rect x="125.5" y="88.3" width="1.1" height="0.7" fill="#e512b4" opacity="0.9"/>
<rect x="116.8" y="86.5" width="1.7" height="1.0" fill="#7a1070" opacity="0.9"/>
<rect x="124.3" y="91.7" width="1.1" height="1.3" fill="#e512b4" opacity="0.9"/>
<rect x="122.8" y="91.9" width="1.7" height="1.1" fill="#c010a0" opacity="0.9"/>
<rect x="122.3" y="90.3" width="1.5" height="0.6" fill="#c010a0" opacity="0.9"/>
<rect x="127.4" y="92.0" width="1.2" height="0.9" fill="#c010a0" opacity="0.9"/>
<rect x="126.0" y="90.8" width="1.6" height="0.6" fill="#5a1460" opacity="0.9"/>
<rect x="122.6" y="87.8" width="1.0" height="0.6" fill="#c010a0" opacity="0.9"/>
<rect x="126.3" y="87.9" width="0.9" height="0.6" fill="#c010a0" opacity="0.9"/>
<rect x="118.8" y="87.0" width="0.9" height="0.7" fill="#7a1070" opacity="0.9"/>
<rect x="120.6" y="87.1" width="1.1" height="1.2" fill="#7a1070" opacity="0.9"/>
<rect x="126.2" y="87.8" width="1.1" height="1.0" fill="#c010a0" opacity="0.9"/>
<rect x="125.4" y="88.8" width="1.6" height="0.8" fill="#5a1460" opacity="0.9"/>
<rect x="125.4" y="90.5" width="1.5" height="1.0" fill="#7a1070" opacity="0.9"/>
<rect x="128.0" y="88.5" width="1.0" height="1.0" fill="#e512b4" opacity="0.9"/>
<rect x="122.1" y="89.8" width="1.7" height="0.6" fill="#8a2a80" opacity="0.9"/>
<rect x="124.1" y="87.8" width="1.7" height="0.8" fill="#5a1460" opacity="0.9"/>
<rect x="121.3" y="87.9" width="0.8" height="1.2" fill="#5a1460" opacity="0.9"/>
<rect x="207.7" y="101.4" width="0.6" height="1.0" fill="#8a2a80" opacity="0.9"/>
<rect x="203.8" y="105.5" width="0.5" height="1.3" fill="#e512b4" opacity="0.9"/>
<rect x="205.4" y="103.8" width="1.0" height="1.2" fill="#c010a0" opacity="0.9"/>
<rect x="203.1" y="105.6" width="1.4" height="0.6" fill="#8a2a80" opacity="0.9"/>
<rect x="205.2" y="106.7" width="0.9" height="0.7" fill="#c010a0" opacity="0.9"/>
<rect x="201.4" y="102.6" width="0.9" height="1.2" fill="#e512b4" opacity="0.9"/>
<rect x="204.5" y="105.8" width="1.7" height="1.2" fill="#e512b4" opacity="0.9"/>
<rect x="201.2" y="105.1" width="1.5" height="0.9" fill="#e512b4" opacity="0.9"/>
<rect x="197.1" y="103.5" width="0.8" height="0.8" fill="#e512b4" opacity="0.9"/>
<rect x="200.4" y="101.6" width="1.7" height="0.8" fill="#8a2a80" opacity="0.9"/>
<rect x="197.4" y="111.0" width="0.5" height="1.3" fill="#8a2a80" opacity="0.9"/>
<rect x="188.6" y="108.5" width="1.3" height="1.3" fill="#8a2a80" opacity="0.9"/>
<rect x="197.8" y="96.0" width="0.6" height="1.1" fill="#e512b4" opacity="0.9"/>
<rect x="196.7" y="108.5" width="1.0" height="1.2" fill="#5a1460" opacity="0.9"/>
<rect x="191.8" y="109.9" width="1.8" height="0.9" fill="#8a2a80" opacity="0.9"/>
<rect x="194.2" y="100.4" width="0.9" height="0.8" fill="#7a1070" opacity="0.9"/>
<rect x="195.7" y="98.8" width="0.9" height="1.2" fill="#7a1070" opacity="0.9"/>
<rect x="195.5" y="99.8" width="1.7" height="0.8" fill="#c010a0" opacity="0.9"/>
<rect x="198.0" y="106.0" width="0.7" height="0.5" fill="#8a2a80" opacity="0.9"/>
<rect x="194.3" y="98.7" width="0.5" height="0.5" fill="#8a2a80" opacity="0.9"/>
<rect x="203.4" y="110.9" width="0.8" height="1.0" fill="#8a2a80" opacity="0.9"/>
<rect x="192.9" y="106.9" width="1.3" height="0.8" fill="#7a1070" opacity="0.9"/>
<rect x="178.4" y="108.9" width="0.8" height="0.9" fill="#c010a0" opacity="0.9"/>
<rect x="200.0" y="106.2" width="0.8" height="0.7" fill="#8a2a80" opacity="0.9"/>
<rect x="202.1" y="101.7" width="1.3" height="1.1" fill="#8a2a80" opacity="0.9"/>
<rect x="195.9" y="105.1" width="1.5" height="0.6" fill="#8a2a80" opacity="0.9"/>
<rect x="198.7" y="106.8" width="1.6" height="0.6" fill="#7a1070" opacity="0.9"/>
<rect x="199.3" y="109.2" width="1.0" height="0.7" fill="#5a1460" opacity="0.9"/>
<rect x="199.9" y="105.0" width="1.6" height="0.6" fill="#7a1070" opacity="0.9"/>
<rect x="195.6" y="108.5" width="0.5" height="1.2" fill="#7a1070" opacity="0.9"/>
<rect x="195.6" y="100.4" width="1.3" height="0.6" fill="#e512b4" opacity="0.9"/>
<rect x="188.8" y="106.0" width="1.7" height="0.6" fill="#c010a0" opacity="0.9"/>
<rect x="189.6" y="105.0" width="0.5" height="0.6" fill="#e512b4" opacity="0.9"/>
<rect x="192.9" y="104.3" width="1.3" height="0.8" fill="#8a2a80" opacity="0.9"/>
<rect x="196.8" y="105.3" width="1.6" height="1.2" fill="#8a2a80" opacity="0.9"/>
<rect x="203.6" y="108.1" width="1.1" height="0.6" fill="#7a1070" opacity="0.9"/>
<rect x="183.8" y="100.9" width="0.9" height="0.7" fill="#c010a0" opacity="0.9"/>
<rect x="193.9" y="106.1" width="0.8" height="0.8" fill="#c010a0" opacity="0.9"/>
<rect x="203.2" y="109.2" width="0.7" height="1.2" fill="#7a1070" opacity="0.9"/>
<rect x="200.3" y="109.8" width="1.2" height="1.2" fill="#7a1070" opacity="0.9"/>
<rect x="215.1" y="101.7" width="1.7" height="0.7" fill="#8a2a80" opacity="0.9"/>
<rect x="217.4" y="109.4" width="1.0" height="1.2" fill="#c010a0" opacity="0.9"/>
<rect x="213.6" y="103.3" width="0.6" height="1.2" fill="#7a1070" opacity="0.9"/>
<rect x="223.9" y="105.8" width="1.2" height="1.0" fill="#8a2a80" opacity="0.9"/>
<rect x="224.0" y="109.0" width="1.7" height="0.8" fill="#7a1070" opacity="0.9"/>
<rect x="220.7" y="103.9" width="1.2" height="0.9" fill="#c010a0" opacity="0.9"/>
<rect x="224.2" y="104.9" width="1.5" height="0.9" fill="#7a1070" opacity="0.9"/>
<rect x="213.2" y="98.3" width="1.8" height="1.1" fill="#e512b4" opacity="0.9"/>
<rect x="216.6" y="111.1" width="1.7" height="0.8" fill="#c010a0" opacity="0.9"/>
<rect x="205.4" y="106.5" width="1.1" height="0.8" fill="#e512b4" opacity="0.9"/>
<rect x="212.4" y="97.6" width="1.5" height="0.7" fill="#c010a0" opacity="0.9"/>
<rect x="211.6" y="100.1" width="1.1" height="0.8" fill="#e512b4" opacity="0.9"/>
<rect x="221.7" y="105.9" width="1.6" height="0.7" fill="#8a2a80" opacity="0.9"/>
<rect x="212.6" y="105.1" width="1.1" height="1.3" fill="#7a1070" opacity="0.9"/>
<rect x="210.2" y="105.5" width="1.0" height="0.6" fill="#5a1460" opacity="0.9"/>
<rect x="222.6" y="105.7" width="0.9" height="0.8" fill="#5a1460" opacity="0.9"/>
<rect x="210.8" y="112.2" width="1.3" height="1.2" fill="#c010a0" opacity="0.9"/>
<rect x="224.2" y="115.1" width="0.8" height="0.8" fill="#5a1460" opacity="0.9"/>
<rect x="220.3" y="109.5" width="1.2" height="1.3" fill="#8a2a80" opacity="0.9"/>
<rect x="209.9" y="100.0" width="0.9" height="0.5" fill="#7a1070" opacity="0.9"/>
<rect x="222.2" y="103.4" width="1.2" height="1.2" fill="#8a2a80" opacity="0.9"/>
<rect x="212.8" y="109.7" width="0.9" height="1.2" fill="#c010a0" opacity="0.9"/>
<rect x="211.7" y="107.8" width="0.8" height="0.7" fill="#7a1070" opacity="0.9"/>
<rect x="198.2" y="106.1" width="1.7" height="0.9" fill="#e512b4" opacity="0.9"/>
<rect x="227.2" y="94.1" width="1.5" height="1.1" fill="#8a2a80" opacity="0.9"/>
<rect x="215.8" y="102.7" width="1.0" height="1.2" fill="#e512b4" opacity="0.9"/>
<rect x="202.6" y="106.8" width="1.0" height="1.2" fill="#c010a0" opacity="0.9"/>
<rect x="217.7" y="103.7" width="1.4" height="0.7" fill="#7a1070" opacity="0.9"/>
<rect x="206.9" y="105.1" width="1.1" height="0.9" fill="#7a1070" opacity="0.9"/>
<rect x="218.7" y="107.4" width="1.2" height="1.0" fill="#7a1070" opacity="0.9"/>
<path d="M146.0 37.5L147.8 37.9L150.0 38.2L152.9 39.7L156.0 41.0L160.1 42.7L164.0 45.0L166.7 46.2L170.0 47.0L172.0 48.3L174.3 50.0L177.1 52.5L179.4 55.1L182.8 58.3L185.7 61.5L188.9 61.7L192.0 62.3L194.0 62.7L195.9 62.7L199.7 64.1L203.5 65.3L205.9 66.2L208.0 67.6L210.4 69.4L212.5 71.0L215.4 72.3L218.5 74.2L220.4 73.6L221.8 73.1L223.0 75.5L224.0 77.5L226.1 78.3L228.0 78.6L229.8 80.5L231.7 82.0L233.6 86.3L235.5 90.0L237.4 92.8L238.8 96.0L242.4 100.3L246.5 105.0L249.0 106.7L251.0 108.4L254.6 112.1L258.0 116.0L262.0 121.9L266.0 128.0L268.9 133.1L272.0 138.0L274.6 143.2L277.0 148.0L278.1 152.3L279.0 156.0L277.7 158.8L276.0 161.0L272.1 162.8L268.0 165.0L261.2 166.8L254.0 168.0L246.2 168.3L238.0 168.6L230.1 169.1L222.0 170.0L213.7 170.7L205.0 171.4L198.5 172.7L192.3 174.5L188.1 176.1L183.4 177.1L178.7 178.9L174.5 180.3L170.6 182.3L166.8 184.7L163.5 187.4L160.5 189.8L158.0 191.6L155.0 194.0L152.6 195.5L150.0 197.5L147.6 198.4L145.0 199.6L143.3 200.0L141.2 199.8L139.9 199.4L138.6 198.5L137.9 195.7L137.4 193.5L135.9 191.0L134.2 189.0L131.8 186.7L129.7 184.5L128.5 182.7L127.2 181.4L125.0 181.3L123.4 180.7L121.3 181.9L119.5 182.6L116.6 181.9L113.2 181.4L111.6 180.5L110.0 179.5L110.4 177.0L110.6 174.4L110.0 172.2L109.4 169.9L108.1 168.3L106.2 166.7L103.3 167.2L100.5 167.4L97.8 168.5L95.4 169.9L94.1 172.2L92.2 174.4L90.0 172.8L87.7 171.8L85.7 171.2L83.9 170.5L85.2 168.1L87.1 165.5L87.8 163.0L88.4 161.0L86.5 159.4L84.5 157.8L85.0 155.2L85.2 152.7L86.3 150.6L87.1 148.3L85.9 146.4L85.2 145.1L84.6 142.0L83.7 138.3L82.6 136.4L81.8 134.5L79.7 133.1L77.4 131.9L75.4 132.4L73.5 133.2L71.2 134.2L69.1 135.1L67.7 133.4L66.5 131.9L66.4 128.1L65.9 124.9L66.6 123.1L67.2 121.1L65.8 119.6L64.6 118.5L62.2 118.0L59.5 117.9L58.4 116.6L57.6 115.4L60.0 112.9L62.1 110.9L65.5 110.4L69.1 110.0L73.8 110.1L78.0 110.3L82.0 110.4L85.6 110.9L89.0 110.3L92.6 109.6L93.8 108.6L94.5 107.7L96.9 106.9L99.6 106.5L99.3 103.8L99.0 101.4L98.9 98.4L98.4 95.0L97.8 92.9L97.6 91.0L97.8 87.9L97.6 84.6L100.0 82.0L102.1 79.5L104.1 80.0L106.5 80.8L109.9 80.4L112.9 80.2L113.8 78.9L114.8 77.6L113.2 76.3L111.6 75.1L111.3 72.0L110.4 69.4L108.2 68.7L106.5 67.5L107.1 65.8L107.2 63.6L109.4 62.9L111.6 61.7L113.5 59.0L114.8 56.6L116.2 54.9L117.4 52.8L115.9 52.5L114.2 52.2L114.4 50.5L114.8 49.0L116.5 48.1L118.6 47.7L120.3 46.0L121.8 44.5L125.5 43.3L128.8 42.6L130.6 41.5L132.0 40.1L133.2 41.0L133.9 41.4L137.6 41.1L140.9 40.7L143.2 39.2L146.0 37.5Z" fill="none" stroke="#f01616" stroke-width="1.0" stroke-linejoin="round"/>
<path d="M146.0 37.5L146.8 39.9L147.9 42.6L148.9 45.8L149.8 49.0L150.7 51.8L151.7 54.1L149.9 56.2L147.9 58.5L148.7 61.6L149.8 64.3L151.2 67.5L152.6 70.4L152.9 72.8L153.3 75.5L151.7 78.2L150.1 80.5" fill="none" stroke="#f01616" stroke-width="0.85" stroke-linejoin="round"/>
<path d="M150.1 80.5L152.1 80.7L154.5 80.5L157.0 80.1L159.0 79.3L161.7 79.6L164.1 80.5L165.4 82.3L166.6 83.7L166.7 85.8L167.3 88.2L164.9 88.2L162.8 88.2L160.2 87.5L157.7 86.9L155.3 88.5L152.6 90.7L150.4 91.1L148.8 92.0L146.7 91.4L145.0 91.4" fill="none" stroke="#f01616" stroke-width="0.85" stroke-linejoin="round"/>
<path d="M114.8 77.6L116.4 78.8L117.4 79.5L118.4 81.5L119.9 83.4L122.0 84.2L124.4 85.3L126.2 85.7L128.2 85.9L130.2 86.5L132.0 87.2L132.8 89.0L133.9 91.0L135.3 91.3L137.1 91.6L139.1 90.0L140.9 88.5L143.2 87.0L146.0 85.9L147.8 85.0L149.8 84.0L150.1 82.2L150.1 80.5" fill="none" stroke="#f01616" stroke-width="0.85" stroke-linejoin="round"/>
<path d="M99.6 106.5L101.0 109.8L102.0 113.0L103.3 116.0L104.7 119.2L104.1 120.9L103.5 122.4L106.3 123.1L109.2 123.6L107.6 125.0L106.0 126.8L103.8 127.3L101.5 127.5L101.9 129.7L102.8 131.9L104.4 134.0L106.0 135.7L105.6 138.2L104.7 140.8L103.0 142.3L100.9 143.4L98.9 144.3L97.1 145.3L95.3 144.8L93.9 144.0L93.0 145.8L92.0 147.2L89.7 147.9L87.1 148.3" fill="none" stroke="#f01616" stroke-width="0.85" stroke-linejoin="round"/>
<path d="M104.7 119.2L107.4 117.9L109.8 116.6L112.1 116.4L114.9 116.0L117.2 117.0L120.0 118.5L122.2 120.0L124.0 122.0L125.8 122.8L128.0 124.0L130.2 122.3L132.0 121.0L133.7 120.7L136.0 120.0L137.8 121.4L140.0 122.4L141.6 122.4L143.0 122.0L145.3 120.5L147.0 119.0L148.7 118.2L150.0 118.0" fill="none" stroke="#f01616" stroke-width="0.85" stroke-linejoin="round"/>
<path d="M92.0 147.2L91.6 150.0L90.9 152.7L91.7 154.4L92.2 156.5L94.9 156.5L97.3 155.9L99.6 155.8L102.4 155.9L103.0 154.8L103.6 153.4L106.0 153.2L108.7 153.4L109.2 154.7L110.0 155.9L112.4 154.9L114.5 154.0L115.7 153.3L117.0 152.7L121.4 152.7L125.9 152.7L127.5 152.4L129.7 152.1L132.2 153.3L134.2 154.6L136.5 155.3L138.6 156.5L139.9 156.7L141.0 156.6L142.4 155.6L143.5 154.6L145.7 155.3L148.0 155.8L151.3 155.4L154.1 155.5" fill="none" stroke="#f01616" stroke-width="0.85" stroke-linejoin="round"/>
<path d="M92.0 147.2L92.8 145.6L94.1 143.8L95.9 145.1L97.3 146.4L99.8 146.2L102.4 145.7L103.4 143.1L104.7 140.8" fill="none" stroke="#f01616" stroke-width="0.85" stroke-linejoin="round"/>
<path d="M108.7 153.4L108.2 156.8L108.0 160.0L108.6 164.8L109.4 169.9" fill="none" stroke="#f01616" stroke-width="0.85" stroke-linejoin="round"/>
<path d="M150.0 118.0L150.6 121.3L151.0 124.0L150.5 127.1L150.3 130.0L150.2 134.0L150.3 137.6L149.7 139.4L149.0 141.5L152.3 141.8L156.0 142.7L155.7 145.8L155.4 149.1L154.6 152.2L154.1 155.5L155.6 157.6L157.3 159.3L158.3 161.8L159.8 163.7L160.1 166.7L160.5 169.5L162.0 171.0L163.6 172.0L166.0 173.3L168.1 174.5L170.0 175.6L171.9 176.5L172.8 177.7L173.2 179.0L174.0 179.9L174.5 180.3" fill="none" stroke="#f01616" stroke-width="0.85" stroke-linejoin="round"/>
<path d="M156.0 142.7L158.2 142.2L160.5 142.1L164.8 140.6L169.4 138.9L173.3 138.2L177.0 137.0L181.7 136.5L185.9 136.4L188.3 137.8L191.0 139.5L193.4 140.0L196.1 140.2L200.8 139.1L205.0 137.6L210.4 138.5L216.0 139.0L220.9 141.0L226.0 143.0L230.1 145.8L234.0 149.0L236.3 151.7L239.0 154.0L239.1 157.4L239.4 161.0L238.7 164.9L238.0 168.6" fill="none" stroke="#f01616" stroke-width="0.85" stroke-linejoin="round"/>
<path d="M185.7 61.5L184.8 63.9L184.5 66.5L186.0 67.8L187.6 69.1L190.0 69.2L192.7 69.1L194.3 70.6L195.3 72.3L195.6 74.6L195.9 77.4L196.4 79.4L197.2 81.2L195.1 83.3L193.4 85.0L191.4 86.4L188.9 88.2L187.6 87.8L185.7 87.5L184.6 85.5L183.2 83.1L183.7 80.4L184.5 77.4L183.6 75.0L182.5 72.3L182.7 70.2L183.2 67.8L184.1 67.3L184.5 66.5" fill="none" stroke="#f01616" stroke-width="0.85" stroke-linejoin="round"/>
<path d="M183.2 83.1L181.9 81.9L180.6 81.2L180.9 79.2L181.3 77.4L180.1 76.2L178.7 74.8L175.6 74.6L172.4 74.8L170.5 76.2L168.5 77.4L168.7 79.5L169.2 81.2L171.2 81.9L173.0 83.1L174.9 82.2L176.2 81.8L177.0 83.8L178.1 85.6L177.9 87.6L177.5 89.5L179.8 90.1L181.9 90.7L183.7 88.9L185.7 87.5" fill="none" stroke="#f01616" stroke-width="0.85" stroke-linejoin="round"/>
<path d="M167.3 88.2L168.6 89.6L170.5 90.7L173.8 91.4L176.8 92.0L177.3 90.7L177.5 89.5" fill="none" stroke="#f01616" stroke-width="0.85" stroke-linejoin="round"/>
<path d="M176.8 92.0L176.4 94.5L176.2 97.1L177.4 98.7L178.1 100.9L176.8 102.6L175.5 104.7L176.3 107.2L176.8 109.8L178.3 111.3L180.0 113.0L179.0 115.7L178.0 118.0L180.4 121.7L183.0 125.0L181.8 127.4L181.0 130.0L183.2 133.0L185.9 136.4" fill="none" stroke="#f01616" stroke-width="0.85" stroke-linejoin="round"/>
<path d="M152.6 90.7L152.8 94.0L152.6 97.1L151.8 99.5L151.4 102.2L150.0 104.2L148.8 106.0L149.6 108.0L150.1 109.8L148.6 111.7L147.0 114.0L148.4 115.8L150.0 118.0" fill="none" stroke="#f01616" stroke-width="0.85" stroke-linejoin="round"/>
<path d="M152.6 97.1L155.2 97.8L157.7 98.4L160.1 97.6L162.8 97.1L165.2 98.1L167.3 99.6L170.0 99.2L172.4 98.4L174.6 97.7L176.2 97.1" fill="none" stroke="#f01616" stroke-width="0.85" stroke-linejoin="round"/>
<path d="M137.1 91.6L138.1 93.8L139.0 96.0L141.1 98.3L143.0 100.0L141.9 101.9L140.5 104.0L141.0 106.0L141.0 108.0L143.6 110.1L146.0 112.0L146.2 113.2L147.0 114.0" fill="none" stroke="#f01616" stroke-width="0.85" stroke-linejoin="round"/>
<path d="M188.9 88.2L189.5 91.1L190.0 94.0L188.5 97.0L187.0 100.0L187.8 103.0L189.0 106.0L187.2 109.0L186.0 112.0L183.1 112.5L180.0 113.0" fill="none" stroke="#f01616" stroke-width="0.85" stroke-linejoin="round"/>
<path d="M162.8 97.1L162.9 100.8L163.0 104.0L161.7 106.3L160.0 109.0L161.2 111.6L162.0 114.0L164.7 114.9L168.0 116.0L169.8 114.7L172.0 114.0L174.4 112.2L176.8 109.8" fill="none" stroke="#f01616" stroke-width="0.85" stroke-linejoin="round"/>
<path d="M246.5 105.0L247.6 106.4L249.0 107.4L249.7 105.8L250.2 104.6" fill="none" stroke="#f01616" stroke-width="0.85" stroke-linejoin="round"/>
<circle cx="125.4" cy="48" r="2.3" fill="#12ea22" stroke="#3a2a10" stroke-width="0.35"/>
<circle cx="125" cy="55.6" r="2.3" fill="#f00c0c" stroke="#3a2a10" stroke-width="0.35"/>
<circle cx="127.6" cy="54" r="2.3" fill="#ff8810" stroke="#3a2a10" stroke-width="0.35"/>
<circle cx="130" cy="55" r="2.3" fill="#f6f620" stroke="#3a2a10" stroke-width="0.35"/>
<circle cx="133" cy="61" r="2.3" fill="#f00c0c" stroke="#3a2a10" stroke-width="0.35"/>
<circle cx="137" cy="61" r="2.3" fill="#f00c0c" stroke="#3a2a10" stroke-width="0.35"/>
<circle cx="135.6" cy="63" r="2.3" fill="#ff8810" stroke="#3a2a10" stroke-width="0.35"/>
<circle cx="151" cy="42" r="2.3" fill="#ff8810" stroke="#3a2a10" stroke-width="0.35"/>
<circle cx="152.6" cy="46" r="2.3" fill="#12ea22" stroke="#3a2a10" stroke-width="0.35"/>
<circle cx="154.2" cy="61.2" r="2.3" fill="#ff8810" stroke="#3a2a10" stroke-width="0.35"/>
<circle cx="166" cy="68.6" r="2.3" fill="#12ea22" stroke="#3a2a10" stroke-width="0.35"/>
<circle cx="145.6" cy="78.8" r="2.3" fill="#f6f620" stroke="#3a2a10" stroke-width="0.35"/>
<circle cx="170" cy="78.6" r="2.3" fill="#ff8810" stroke="#3a2a10" stroke-width="0.35"/>
<circle cx="173" cy="78" r="2.3" fill="#90f31e" stroke="#3a2a10" stroke-width="0.35"/>
<circle cx="176" cy="78.4" r="2.3" fill="#f6f620" stroke="#3a2a10" stroke-width="0.35"/>
<circle cx="179.6" cy="77.4" r="2.3" fill="#f00c0c" stroke="#3a2a10" stroke-width="0.35"/>
<circle cx="124.2" cy="89" r="2.3" fill="#90f31e" stroke="#3a2a10" stroke-width="0.35"/>
<circle cx="124.2" cy="92" r="2.3" fill="#f6f620" stroke="#3a2a10" stroke-width="0.35"/>
<circle cx="112" cy="95.6" r="2.3" fill="#ff8810" stroke="#3a2a10" stroke-width="0.35"/>
<circle cx="112" cy="99" r="2.3" fill="#ff8810" stroke="#3a2a10" stroke-width="0.35"/>
<circle cx="109" cy="100" r="2.3" fill="#90f31e" stroke="#3a2a10" stroke-width="0.35"/>
<circle cx="112" cy="102" r="2.3" fill="#f6f620" stroke="#3a2a10" stroke-width="0.35"/>
<circle cx="164.6" cy="91" r="2.3" fill="#f00c0c" stroke="#3a2a10" stroke-width="0.35"/>
<circle cx="158" cy="97.6" r="2.3" fill="#f00c0c" stroke="#3a2a10" stroke-width="0.35"/>
<circle cx="165.4" cy="102.4" r="2.3" fill="#f00c0c" stroke="#3a2a10" stroke-width="0.35"/>
<circle cx="154" cy="104" r="2.3" fill="#f00c0c" stroke="#3a2a10" stroke-width="0.35"/>
<circle cx="166" cy="105" r="2.3" fill="#f00c0c" stroke="#3a2a10" stroke-width="0.35"/>
<circle cx="138" cy="105" r="2.3" fill="#f6f620" stroke="#3a2a10" stroke-width="0.35"/>
<circle cx="140" cy="103.8" r="2.3" fill="#f6f620" stroke="#3a2a10" stroke-width="0.35"/>
<circle cx="145" cy="102.2" r="2.3" fill="#ff8810" stroke="#3a2a10" stroke-width="0.35"/>
<circle cx="169" cy="107" r="2.3" fill="#ff8810" stroke="#3a2a10" stroke-width="0.35"/>
<circle cx="172" cy="108" r="2.3" fill="#f00c0c" stroke="#3a2a10" stroke-width="0.35"/>
<circle cx="174" cy="111" r="2.3" fill="#f00c0c" stroke="#3a2a10" stroke-width="0.35"/>
<circle cx="169" cy="111.4" r="2.3" fill="#f6f620" stroke="#3a2a10" stroke-width="0.35"/>
<circle cx="176" cy="114" r="2.3" fill="#ff8810" stroke="#3a2a10" stroke-width="0.35"/>
<circle cx="174.6" cy="117" r="2.3" fill="#12ea22" stroke="#3a2a10" stroke-width="0.35"/>
<circle cx="171" cy="115" r="2.3" fill="#f6f620" stroke="#3a2a10" stroke-width="0.35"/>
<circle cx="166" cy="120" r="2.3" fill="#12ea22" stroke="#3a2a10" stroke-width="0.35"/>
<circle cx="169" cy="126" r="2.3" fill="#12ea22" stroke="#3a2a10" stroke-width="0.35"/>
<circle cx="152.4" cy="128" r="2.3" fill="#12ea22" stroke="#3a2a10" stroke-width="0.35"/>
<circle cx="156" cy="128" r="2.3" fill="#90f31e" stroke="#3a2a10" stroke-width="0.35"/>
<circle cx="169" cy="133" r="2.3" fill="#f6f620" stroke="#3a2a10" stroke-width="0.35"/>
<circle cx="172.6" cy="133" r="2.3" fill="#12ea22" stroke="#3a2a10" stroke-width="0.35"/>
<circle cx="207" cy="94" r="2.3" fill="#12ea22" stroke="#3a2a10" stroke-width="0.35"/>
<circle cx="210" cy="99" r="2.3" fill="#90f31e" stroke="#3a2a10" stroke-width="0.35"/>
<circle cx="211.6" cy="102" r="2.3" fill="#90f31e" stroke="#3a2a10" stroke-width="0.35"/>
<circle cx="216.4" cy="100" r="2.3" fill="#90f31e" stroke="#3a2a10" stroke-width="0.35"/>
<circle cx="221.6" cy="99" r="2.3" fill="#90f31e" stroke="#3a2a10" stroke-width="0.35"/>
<circle cx="207" cy="107" r="2.3" fill="#90f31e" stroke="#3a2a10" stroke-width="0.35"/>
<circle cx="208" cy="110" r="2.3" fill="#90f31e" stroke="#3a2a10" stroke-width="0.35"/>
<circle cx="204.4" cy="113.6" r="2.3" fill="#90f31e" stroke="#3a2a10" stroke-width="0.35"/>
<circle cx="208.4" cy="113" r="2.3" fill="#90f31e" stroke="#3a2a10" stroke-width="0.35"/>
<circle cx="212" cy="112" r="2.3" fill="#f6f620" stroke="#3a2a10" stroke-width="0.35"/>
<circle cx="178" cy="140.6" r="2.3" fill="#ff8810" stroke="#3a2a10" stroke-width="0.35"/>
<circle cx="183.6" cy="141.4" r="2.3" fill="#12ea22" stroke="#3a2a10" stroke-width="0.35"/>
<circle cx="185.8" cy="141.6" r="2.3" fill="#90f31e" stroke="#3a2a10" stroke-width="0.35"/>
<circle cx="188.2" cy="142" r="2.3" fill="#ff8810" stroke="#3a2a10" stroke-width="0.35"/>
<circle cx="190" cy="139.4" r="2.3" fill="#90f31e" stroke="#3a2a10" stroke-width="0.35"/>
<circle cx="174.4" cy="156.4" r="2.3" fill="#ff8810" stroke="#3a2a10" stroke-width="0.35"/>
<circle cx="176.4" cy="161" r="2.3" fill="#12ea22" stroke="#3a2a10" stroke-width="0.35"/>
<circle cx="177" cy="163.6" r="2.3" fill="#ff8810" stroke="#3a2a10" stroke-width="0.35"/>
<circle cx="133.6" cy="172.4" r="2.3" fill="#ff8810" stroke="#3a2a10" stroke-width="0.35"/>
<circle cx="135.6" cy="175" r="2.3" fill="#f00c0c" stroke="#3a2a10" stroke-width="0.35"/>
<circle cx="130" cy="131" r="2.3" fill="#ff8810" stroke="#3a2a10" stroke-width="0.35"/>
<circle cx="94" cy="112" r="2.3" fill="#ff8810" stroke="#3a2a10" stroke-width="0.35"/>
<circle cx="94.4" cy="115" r="2.3" fill="#f00c0c" stroke="#3a2a10" stroke-width="0.35"/>
<circle cx="79.6" cy="128.6" r="2.3" fill="#ff8810" stroke="#3a2a10" stroke-width="0.35"/>
<circle cx="82.4" cy="128.6" r="2.3" fill="#ff8810" stroke="#3a2a10" stroke-width="0.35"/>
<circle cx="89.6" cy="125" r="2.3" fill="#ff8810" stroke="#3a2a10" stroke-width="0.35"/>
<circle cx="90" cy="127.6" r="2.3" fill="#ff8810" stroke="#3a2a10" stroke-width="0.35"/>
<circle cx="121.6" cy="116" r="2.3" fill="#ff8810" stroke="#3a2a10" stroke-width="0.35"/>
<circle cx="121" cy="114.4" r="2.3" fill="#f6f620" stroke="#3a2a10" stroke-width="0.35"/>
<circle cx="124" cy="130" r="2.3" fill="#ff8810" stroke="#3a2a10" stroke-width="0.35"/>
<circle cx="127" cy="132" r="2.3" fill="#f6f620" stroke="#3a2a10" stroke-width="0.35"/>
<circle cx="129.4" cy="130" r="2.3" fill="#ff8810" stroke="#3a2a10" stroke-width="0.35"/>
<circle cx="128" cy="134" r="2.3" fill="#ff8810" stroke="#3a2a10" stroke-width="0.35"/>
<circle cx="126" cy="128.4" r="2.3" fill="#f00c0c" stroke="#3a2a10" stroke-width="0.35"/>
<circle cx="117.4" cy="156" r="2.3" fill="#f6f620" stroke="#3a2a10" stroke-width="0.35"/>
<circle cx="118" cy="159" r="2.3" fill="#12ea22" stroke="#3a2a10" stroke-width="0.35"/>
<circle cx="113" cy="161.6" r="2.3" fill="#f6f620" stroke="#3a2a10" stroke-width="0.35"/>
<circle cx="118" cy="161.8" r="2.3" fill="#12ea22" stroke="#3a2a10" stroke-width="0.35"/>
<circle cx="120.2" cy="159" r="2.3" fill="#ff8810" stroke="#3a2a10" stroke-width="0.35"/>
<circle cx="175" cy="107.8" r="2.3" fill="#12ea22" stroke="#3a2a10" stroke-width="0.35"/>
<circle cx="168.7" cy="105.6" r="2.3" fill="#ff8810" stroke="#3a2a10" stroke-width="0.35"/>
<circle cx="165.2" cy="118.2" r="2.3" fill="#12ea22" stroke="#3a2a10" stroke-width="0.35"/>
<circle cx="206.5" cy="106.5" r="2.3" fill="#90f31e" stroke="#3a2a10" stroke-width="0.35"/>
<circle cx="207.6" cy="108.7" r="2.3" fill="#90f31e" stroke="#3a2a10" stroke-width="0.35"/>
</g>
<rect x="40.2" y="29.0" width="256.3" height="178.4" fill="none" stroke="#808080" stroke-width="1.3"/>
<line x1="86" y1="26.8" x2="86" y2="29.0" stroke="#444" stroke-width="0.8"/>
<line x1="86" y1="207.4" x2="86" y2="209.8" stroke="#444" stroke-width="0.8"/>
<line x1="152" y1="26.8" x2="152" y2="29.0" stroke="#444" stroke-width="0.8"/>
<line x1="152" y1="207.4" x2="152" y2="209.8" stroke="#444" stroke-width="0.8"/>
<line x1="218" y1="26.8" x2="218" y2="29.0" stroke="#444" stroke-width="0.8"/>
<line x1="218" y1="207.4" x2="218" y2="209.8" stroke="#444" stroke-width="0.8"/>
<line x1="284" y1="26.8" x2="284" y2="29.0" stroke="#444" stroke-width="0.8"/>
<line x1="284" y1="207.4" x2="284" y2="209.8" stroke="#444" stroke-width="0.8"/>
<line x1="38.0" y1="39.4" x2="40.2" y2="39.4" stroke="#444" stroke-width="0.8"/>
<line x1="296.5" y1="39.4" x2="298.7" y2="39.4" stroke="#444" stroke-width="0.8"/>
<line x1="38.0" y1="72.4" x2="40.2" y2="72.4" stroke="#444" stroke-width="0.8"/>
<line x1="296.5" y1="72.4" x2="298.7" y2="72.4" stroke="#444" stroke-width="0.8"/>
<line x1="38.0" y1="105.4" x2="40.2" y2="105.4" stroke="#444" stroke-width="0.8"/>
<line x1="296.5" y1="105.4" x2="298.7" y2="105.4" stroke="#444" stroke-width="0.8"/>
<line x1="38.0" y1="138.4" x2="40.2" y2="138.4" stroke="#444" stroke-width="0.8"/>
<line x1="296.5" y1="138.4" x2="298.7" y2="138.4" stroke="#444" stroke-width="0.8"/>
<line x1="38.0" y1="171.4" x2="40.2" y2="171.4" stroke="#444" stroke-width="0.8"/>
<line x1="296.5" y1="171.4" x2="298.7" y2="171.4" stroke="#444" stroke-width="0.8"/>
<line x1="38.0" y1="204.4" x2="40.2" y2="204.4" stroke="#444" stroke-width="0.8"/>
<line x1="296.5" y1="204.4" x2="298.7" y2="204.4" stroke="#444" stroke-width="0.8"/>
<text x="74" y="26.2" font-family='"Liberation Serif", serif' font-size="6.3" text-anchor="start" fill="#666" textLength="25" lengthAdjust="spacing" xml:space="preserve">121° 0′E</text>
<text x="138" y="26.2" font-family='"Liberation Serif", serif' font-size="6.3" text-anchor="start" fill="#666" textLength="28.4" lengthAdjust="spacing" xml:space="preserve">121° 20′E</text>
<text x="204" y="26.2" font-family='"Liberation Serif", serif' font-size="6.3" text-anchor="start" fill="#666" textLength="28.4" lengthAdjust="spacing" xml:space="preserve">121° 40′E</text>
<text x="271.6" y="26.2" font-family='"Liberation Serif", serif' font-size="6.3" text-anchor="start" fill="#666" textLength="24.4" lengthAdjust="spacing" xml:space="preserve">122° 0′E</text>
<text x="12.600000000000001" y="41.5" font-family='"Liberation Serif", serif' font-size="6.3" text-anchor="start" fill="#666" textLength="25.6" lengthAdjust="spacing" xml:space="preserve">31° 30′N</text>
<text x="12.600000000000001" y="74.5" font-family='"Liberation Serif", serif' font-size="6.3" text-anchor="start" fill="#666" textLength="25.6" lengthAdjust="spacing" xml:space="preserve">31° 20′N</text>
<text x="12.600000000000001" y="107.5" font-family='"Liberation Serif", serif' font-size="6.3" text-anchor="start" fill="#666" textLength="25.6" lengthAdjust="spacing" xml:space="preserve">31° 10′N</text>
<text x="15.800000000000004" y="140.5" font-family='"Liberation Serif", serif' font-size="6.3" text-anchor="start" fill="#666" textLength="22.4" lengthAdjust="spacing" xml:space="preserve">31° 0′N</text>
<text x="12.600000000000001" y="173.5" font-family='"Liberation Serif", serif' font-size="6.3" text-anchor="start" fill="#666" textLength="25.6" lengthAdjust="spacing" xml:space="preserve">30° 50′N</text>
<text x="12.600000000000001" y="206.5" font-family='"Liberation Serif", serif' font-size="6.3" text-anchor="start" fill="#666" textLength="25.6" lengthAdjust="spacing" xml:space="preserve">30° 40′N</text>
<g transform="translate(40.8 29.6) scale(1.0)">
<text x="2.4" y="5.2" font-family='"Liberation Sans", sans-serif' font-size="6.4" font-weight="bold" fill="#111">N</text>
<path d="M5 7.6 L0.6 21.8 L5 17.6 Z" fill="#111" stroke="#111" stroke-width="0.5" stroke-linejoin="miter"/>
<path d="M5 7.6 L9.4 21.8 L5 17.6 Z" fill="#fff" stroke="#111" stroke-width="0.6" stroke-linejoin="miter"/>
</g>
<rect x="236" y="29.6" width="59.4" height="12" fill="#1763ea"/>
<text x="265.6" y="38.7" font-family='"Liberation Sans", sans-serif' font-size="8.5" font-weight="bold" text-anchor="middle" fill="#fff">Industrial</text>
<rect x="236" y="47" width="59.4" height="11.4" fill="#ffa41f"/>
<text x="265.6" y="55.8" font-family='"Liberation Sans", sans-serif' font-size="8.5" font-weight="bold" text-anchor="middle" fill="#fff">Commercial</text>
<rect x="236" y="62.6" width="59.4" height="12" fill="#e512b4"/>
<text x="265.6" y="71.7" font-family='"Liberation Sans", sans-serif' font-size="8.5" font-weight="bold" text-anchor="middle" fill="#fff">Residential</text>
<rect x="236" y="78.6" width="59.4" height="11.4" fill="#6fae70"/>
<text x="265.6" y="87.4" font-family='"Liberation Sans", sans-serif' font-size="8.5" font-weight="bold" text-anchor="middle" fill="#fff">Green space</text>
<g stroke="#555" stroke-width="0.6" fill="none">
<path d="M212 192.6V196.2H282.4V192.6"/>
<line x1="220.8" y1="194.6" x2="220.8" y2="196.2"/>
<line x1="229.6" y1="193.6" x2="229.6" y2="196.2"/>
<line x1="238.4" y1="194.6" x2="238.4" y2="196.2"/>
<line x1="247.2" y1="193.6" x2="247.2" y2="196.2"/>
<line x1="256.0" y1="194.6" x2="256.0" y2="196.2"/>
<line x1="264.8" y1="194.6" x2="264.8" y2="196.2"/>
<line x1="273.6" y1="194.6" x2="273.6" y2="196.2"/>
</g>
<text x="212" y="206.2" font-family='"Liberation Sans", sans-serif' font-size="5.6" text-anchor="middle" fill="#444">0</text>
<text x="229.6" y="206.2" font-family='"Liberation Sans", sans-serif' font-size="5.6" text-anchor="middle" fill="#444">10</text>
<text x="247.2" y="206.2" font-family='"Liberation Sans", sans-serif' font-size="5.6" text-anchor="middle" fill="#444">20</text>
<text x="280" y="206.2" font-family='"Liberation Sans", sans-serif' font-size="5.6" fill="#444">40 km</text>
<rect x="39.2" y="219.4" width="253.8" height="27.8" rx="4" ry="4" fill="#fff" stroke="#c8c8c8" stroke-width="0.9" stroke-dasharray="2.2 1.4"/>
<text x="42" y="237.4" font-family='"Liberation Sans", sans-serif' font-size="11.4" font-weight="bold" fill="#111">WQI<tspan font-size="8.2" dy="2.2">d</tspan></text>
<circle cx="90" cy="225" r="4.9" fill="#f00c0c"/>
<text x="90" y="242.2" font-family='"Liberation Sans", sans-serif' font-size="11.5" font-weight="bold" text-anchor="middle" fill="#111">Good</text>
<circle cx="144" cy="225" r="4.9" fill="#ff8810"/>
<text x="143.4" y="242.2" font-family='"Liberation Sans", sans-serif' font-size="11.5" font-weight="bold" text-anchor="middle" fill="#111">Acceptable</text>
<circle cx="200" cy="225" r="4.9" fill="#f6f620"/>
<text x="200" y="242.2" font-family='"Liberation Sans", sans-serif' font-size="11.5" font-weight="bold" text-anchor="middle" fill="#111">Regular</text>
<circle cx="239.4" cy="225" r="4.9" fill="#90f31e"/>
<text x="239.6" y="242.2" font-family='"Liberation Sans", sans-serif' font-size="11.5" font-weight="bold" text-anchor="middle" fill="#111">Bad</text>
<circle cx="271.6" cy="225" r="4.9" fill="#12ea22"/>
<text x="271.8" y="242.2" font-family='"Liberation Sans", sans-serif' font-size="11.5" font-weight="bold" text-anchor="middle" fill="#111">Poor</text>
<text x="16.6" y="25.4" font-family='"Liberation Sans", sans-serif' font-size="13.2" font-weight="bold" fill="#182a78">(a)</text>
</g>
<g id="pb">
<g shape-rendering="crispEdges">
<rect x="439.76" y="38.40" width="5.48" height="5.48" fill="rgb(95,232,39)"/>
<rect x="418.43" y="43.73" width="5.48" height="5.48" fill="rgb(176,239,40)"/>
<rect x="423.76" y="43.73" width="5.48" height="5.48" fill="rgb(180,249,45)"/>
<rect x="429.10" y="43.73" width="5.48" height="5.48" fill="rgb(249,161,29)"/>
<rect x="434.43" y="43.73" width="5.48" height="5.48" fill="rgb(248,122,26)"/>
<rect x="439.76" y="43.73" width="5.48" height="5.48" fill="rgb(248,124,27)"/>
<rect x="445.09" y="43.73" width="5.48" height="5.48" fill="rgb(92,225,35)"/>
<rect x="450.43" y="43.73" width="5.48" height="5.48" fill="rgb(176,238,40)"/>
<rect x="455.76" y="43.73" width="5.48" height="5.48" fill="rgb(97,237,41)"/>
<rect x="407.76" y="49.07" width="5.48" height="5.48" fill="rgb(251,130,30)"/>
<rect x="413.10" y="49.07" width="5.48" height="5.48" fill="rgb(91,222,34)"/>
<rect x="418.43" y="49.07" width="5.48" height="5.48" fill="rgb(247,156,27)"/>
<rect x="423.76" y="49.07" width="5.48" height="5.48" fill="rgb(243,110,20)"/>
<rect x="429.10" y="49.07" width="5.48" height="5.48" fill="rgb(251,130,30)"/>
<rect x="434.43" y="49.07" width="5.48" height="5.48" fill="rgb(250,127,28)"/>
<rect x="439.76" y="49.07" width="5.48" height="5.48" fill="rgb(244,149,23)"/>
<rect x="445.09" y="49.07" width="5.48" height="5.48" fill="rgb(181,251,46)"/>
<rect x="450.43" y="49.07" width="5.48" height="5.48" fill="rgb(101,247,46)"/>
<rect x="455.76" y="49.07" width="5.48" height="5.48" fill="rgb(97,238,42)"/>
<rect x="461.09" y="49.07" width="5.48" height="5.48" fill="rgb(97,237,41)"/>
<rect x="466.43" y="49.07" width="5.48" height="5.48" fill="rgb(92,224,35)"/>
<rect x="407.76" y="54.40" width="5.48" height="5.48" fill="rgb(242,108,19)"/>
<rect x="413.10" y="54.40" width="5.48" height="5.48" fill="rgb(248,122,26)"/>
<rect x="418.43" y="54.40" width="5.48" height="5.48" fill="rgb(91,221,33)"/>
<rect x="423.76" y="54.40" width="5.48" height="5.48" fill="rgb(172,229,35)"/>
<rect x="429.10" y="54.40" width="5.48" height="5.48" fill="rgb(173,230,36)"/>
<rect x="434.43" y="54.40" width="5.48" height="5.48" fill="rgb(242,108,19)"/>
<rect x="439.76" y="54.40" width="5.48" height="5.48" fill="rgb(247,120,25)"/>
<rect x="445.09" y="54.40" width="5.48" height="5.48" fill="rgb(249,160,29)"/>
<rect x="450.43" y="54.40" width="5.48" height="5.48" fill="rgb(179,247,44)"/>
<rect x="455.76" y="54.40" width="5.48" height="5.48" fill="rgb(96,234,40)"/>
<rect x="461.09" y="54.40" width="5.48" height="5.48" fill="rgb(97,237,41)"/>
<rect x="466.43" y="54.40" width="5.48" height="5.48" fill="rgb(95,233,39)"/>
<rect x="471.76" y="54.40" width="5.48" height="5.48" fill="rgb(177,242,42)"/>
<rect x="407.76" y="59.73" width="5.48" height="5.48" fill="rgb(247,120,25)"/>
<rect x="413.10" y="59.73" width="5.48" height="5.48" fill="rgb(245,115,22)"/>
<rect x="418.43" y="59.73" width="5.48" height="5.48" fill="rgb(181,251,46)"/>
<rect x="423.76" y="59.73" width="5.48" height="5.48" fill="rgb(249,241,46)"/>
<rect x="429.10" y="59.73" width="5.48" height="5.48" fill="rgb(243,89,28)"/>
<rect x="434.43" y="59.73" width="5.48" height="5.48" fill="rgb(250,127,28)"/>
<rect x="439.76" y="59.73" width="5.48" height="5.48" fill="rgb(245,116,23)"/>
<rect x="445.09" y="59.73" width="5.48" height="5.48" fill="rgb(244,114,22)"/>
<rect x="450.43" y="59.73" width="5.48" height="5.48" fill="rgb(241,222,37)"/>
<rect x="455.76" y="59.73" width="5.48" height="5.48" fill="rgb(91,221,33)"/>
<rect x="461.09" y="59.73" width="5.48" height="5.48" fill="rgb(98,241,43)"/>
<rect x="466.43" y="59.73" width="5.48" height="5.48" fill="rgb(94,231,38)"/>
<rect x="471.76" y="59.73" width="5.48" height="5.48" fill="rgb(179,247,44)"/>
<rect x="477.09" y="59.73" width="5.48" height="5.48" fill="rgb(242,224,38)"/>
<rect x="402.43" y="65.06" width="5.48" height="5.48" fill="rgb(249,240,46)"/>
<rect x="407.76" y="65.06" width="5.48" height="5.48" fill="rgb(251,131,30)"/>
<rect x="413.10" y="65.06" width="5.48" height="5.48" fill="rgb(242,108,19)"/>
<rect x="418.43" y="65.06" width="5.48" height="5.48" fill="rgb(172,229,35)"/>
<rect x="423.76" y="65.06" width="5.48" height="5.48" fill="rgb(244,91,29)"/>
<rect x="429.10" y="65.06" width="5.48" height="5.48" fill="rgb(239,79,23)"/>
<rect x="434.43" y="65.06" width="5.48" height="5.48" fill="rgb(253,135,32)"/>
<rect x="439.76" y="65.06" width="5.48" height="5.48" fill="rgb(246,119,24)"/>
<rect x="445.09" y="65.06" width="5.48" height="5.48" fill="rgb(243,110,20)"/>
<rect x="450.43" y="65.06" width="5.48" height="5.48" fill="rgb(177,241,41)"/>
<rect x="455.76" y="65.06" width="5.48" height="5.48" fill="rgb(99,241,43)"/>
<rect x="461.09" y="65.06" width="5.48" height="5.48" fill="rgb(93,227,36)"/>
<rect x="466.43" y="65.06" width="5.48" height="5.48" fill="rgb(91,222,34)"/>
<rect x="471.76" y="65.06" width="5.48" height="5.48" fill="rgb(242,223,37)"/>
<rect x="477.09" y="65.06" width="5.48" height="5.48" fill="rgb(249,240,46)"/>
<rect x="402.43" y="70.40" width="5.48" height="5.48" fill="rgb(250,129,29)"/>
<rect x="407.76" y="70.40" width="5.48" height="5.48" fill="rgb(243,111,20)"/>
<rect x="413.10" y="70.40" width="5.48" height="5.48" fill="rgb(245,114,22)"/>
<rect x="418.43" y="70.40" width="5.48" height="5.48" fill="rgb(243,110,20)"/>
<rect x="423.76" y="70.40" width="5.48" height="5.48" fill="rgb(235,67,17)"/>
<rect x="429.10" y="70.40" width="5.48" height="5.48" fill="rgb(251,130,30)"/>
<rect x="434.43" y="70.40" width="5.48" height="5.48" fill="rgb(244,112,21)"/>
<rect x="439.76" y="70.40" width="5.48" height="5.48" fill="rgb(248,123,26)"/>
<rect x="445.09" y="70.40" width="5.48" height="5.48" fill="rgb(247,120,25)"/>
<rect x="450.43" y="70.40" width="5.48" height="5.48" fill="rgb(244,113,21)"/>
<rect x="455.76" y="70.40" width="5.48" height="5.48" fill="rgb(178,244,43)"/>
<rect x="461.09" y="70.40" width="5.48" height="5.48" fill="rgb(91,223,34)"/>
<rect x="466.43" y="70.40" width="5.48" height="5.48" fill="rgb(177,242,42)"/>
<rect x="471.76" y="70.40" width="5.48" height="5.48" fill="rgb(239,217,34)"/>
<rect x="477.09" y="70.40" width="5.48" height="5.48" fill="rgb(249,159,28)"/>
<rect x="482.43" y="70.40" width="5.48" height="5.48" fill="rgb(92,225,35)"/>
<rect x="487.76" y="70.40" width="5.48" height="5.48" fill="rgb(93,227,36)"/>
<rect x="402.43" y="75.73" width="5.48" height="5.48" fill="rgb(253,135,32)"/>
<rect x="407.76" y="75.73" width="5.48" height="5.48" fill="rgb(251,130,30)"/>
<rect x="413.10" y="75.73" width="5.48" height="5.48" fill="rgb(245,116,23)"/>
<rect x="418.43" y="75.73" width="5.48" height="5.48" fill="rgb(252,132,31)"/>
<rect x="423.76" y="75.73" width="5.48" height="5.48" fill="rgb(244,113,21)"/>
<rect x="429.10" y="75.73" width="5.48" height="5.48" fill="rgb(246,119,24)"/>
<rect x="434.43" y="75.73" width="5.48" height="5.48" fill="rgb(251,131,30)"/>
<rect x="439.76" y="75.73" width="5.48" height="5.48" fill="rgb(249,125,27)"/>
<rect x="445.09" y="75.73" width="5.48" height="5.48" fill="rgb(243,110,20)"/>
<rect x="450.43" y="75.73" width="5.48" height="5.48" fill="rgb(253,135,32)"/>
<rect x="455.76" y="75.73" width="5.48" height="5.48" fill="rgb(244,113,21)"/>
<rect x="461.09" y="75.73" width="5.48" height="5.48" fill="rgb(241,221,36)"/>
<rect x="466.43" y="75.73" width="5.48" height="5.48" fill="rgb(179,245,43)"/>
<rect x="471.76" y="75.73" width="5.48" height="5.48" fill="rgb(246,117,23)"/>
<rect x="477.09" y="75.73" width="5.48" height="5.48" fill="rgb(245,116,23)"/>
<rect x="482.43" y="75.73" width="5.48" height="5.48" fill="rgb(91,222,34)"/>
<rect x="487.76" y="75.73" width="5.48" height="5.48" fill="rgb(91,222,34)"/>
<rect x="407.76" y="81.06" width="5.48" height="5.48" fill="rgb(248,124,27)"/>
<rect x="413.10" y="81.06" width="5.48" height="5.48" fill="rgb(245,114,22)"/>
<rect x="418.43" y="81.06" width="5.48" height="5.48" fill="rgb(249,124,27)"/>
<rect x="423.76" y="81.06" width="5.48" height="5.48" fill="rgb(246,118,24)"/>
<rect x="429.10" y="81.06" width="5.48" height="5.48" fill="rgb(247,120,25)"/>
<rect x="434.43" y="81.06" width="5.48" height="5.48" fill="rgb(253,134,32)"/>
<rect x="439.76" y="81.06" width="5.48" height="5.48" fill="rgb(247,121,25)"/>
<rect x="445.09" y="81.06" width="5.48" height="5.48" fill="rgb(248,124,27)"/>
<rect x="450.43" y="81.06" width="5.48" height="5.48" fill="rgb(252,132,31)"/>
<rect x="455.76" y="81.06" width="5.48" height="5.48" fill="rgb(244,113,21)"/>
<rect x="461.09" y="81.06" width="5.48" height="5.48" fill="rgb(244,112,21)"/>
<rect x="466.43" y="81.06" width="5.48" height="5.48" fill="rgb(248,239,45)"/>
<rect x="471.76" y="81.06" width="5.48" height="5.48" fill="rgb(251,130,30)"/>
<rect x="477.09" y="81.06" width="5.48" height="5.48" fill="rgb(241,220,36)"/>
<rect x="482.43" y="81.06" width="5.48" height="5.48" fill="rgb(244,113,21)"/>
<rect x="487.76" y="81.06" width="5.48" height="5.48" fill="rgb(98,240,43)"/>
<rect x="391.76" y="86.40" width="5.48" height="5.48" fill="rgb(244,113,21)"/>
<rect x="397.10" y="86.40" width="5.48" height="5.48" fill="rgb(255,174,36)"/>
<rect x="402.43" y="86.40" width="5.48" height="5.48" fill="rgb(249,124,27)"/>
<rect x="407.76" y="86.40" width="5.48" height="5.48" fill="rgb(243,110,20)"/>
<rect x="413.10" y="86.40" width="5.48" height="5.48" fill="rgb(255,174,36)"/>
<rect x="418.43" y="86.40" width="5.48" height="5.48" fill="rgb(242,85,26)"/>
<rect x="423.76" y="86.40" width="5.48" height="5.48" fill="rgb(243,89,28)"/>
<rect x="429.10" y="86.40" width="5.48" height="5.48" fill="rgb(245,116,23)"/>
<rect x="434.43" y="86.40" width="5.48" height="5.48" fill="rgb(246,234,43)"/>
<rect x="439.76" y="86.40" width="5.48" height="5.48" fill="rgb(246,154,26)"/>
<rect x="445.09" y="86.40" width="5.48" height="5.48" fill="rgb(251,131,30)"/>
<rect x="450.43" y="86.40" width="5.48" height="5.48" fill="rgb(245,115,22)"/>
<rect x="455.76" y="86.40" width="5.48" height="5.48" fill="rgb(244,113,21)"/>
<rect x="461.09" y="86.40" width="5.48" height="5.48" fill="rgb(247,155,26)"/>
<rect x="466.43" y="86.40" width="5.48" height="5.48" fill="rgb(243,109,19)"/>
<rect x="471.76" y="86.40" width="5.48" height="5.48" fill="rgb(246,152,25)"/>
<rect x="477.09" y="86.40" width="5.48" height="5.48" fill="rgb(242,224,38)"/>
<rect x="482.43" y="86.40" width="5.48" height="5.48" fill="rgb(96,236,41)"/>
<rect x="487.76" y="86.40" width="5.48" height="5.48" fill="rgb(91,223,34)"/>
<rect x="386.43" y="91.73" width="5.48" height="5.48" fill="rgb(246,118,24)"/>
<rect x="391.76" y="91.73" width="5.48" height="5.48" fill="rgb(253,135,32)"/>
<rect x="397.10" y="91.73" width="5.48" height="5.48" fill="rgb(250,127,28)"/>
<rect x="402.43" y="91.73" width="5.48" height="5.48" fill="rgb(243,111,20)"/>
<rect x="407.76" y="91.73" width="5.48" height="5.48" fill="rgb(244,148,23)"/>
<rect x="413.10" y="91.73" width="5.48" height="5.48" fill="rgb(250,127,28)"/>
<rect x="418.43" y="91.73" width="5.48" height="5.48" fill="rgb(242,108,19)"/>
<rect x="423.76" y="91.73" width="5.48" height="5.48" fill="rgb(247,121,25)"/>
<rect x="429.10" y="91.73" width="5.48" height="5.48" fill="rgb(245,116,23)"/>
<rect x="434.43" y="91.73" width="5.48" height="5.48" fill="rgb(243,110,20)"/>
<rect x="439.76" y="91.73" width="5.48" height="5.48" fill="rgb(250,128,29)"/>
<rect x="445.09" y="91.73" width="5.48" height="5.48" fill="rgb(250,128,29)"/>
<rect x="450.43" y="91.73" width="5.48" height="5.48" fill="rgb(251,130,30)"/>
<rect x="455.76" y="91.73" width="5.48" height="5.48" fill="rgb(246,117,23)"/>
<rect x="461.09" y="91.73" width="5.48" height="5.48" fill="rgb(252,133,31)"/>
<rect x="466.43" y="91.73" width="5.48" height="5.48" fill="rgb(247,119,24)"/>
<rect x="471.76" y="91.73" width="5.48" height="5.48" fill="rgb(252,132,31)"/>
<rect x="477.09" y="91.73" width="5.48" height="5.48" fill="rgb(176,240,41)"/>
<rect x="482.43" y="91.73" width="5.48" height="5.48" fill="rgb(97,237,41)"/>
<rect x="386.43" y="97.06" width="5.48" height="5.48" fill="rgb(246,118,24)"/>
<rect x="391.76" y="97.06" width="5.48" height="5.48" fill="rgb(250,164,31)"/>
<rect x="397.10" y="97.06" width="5.48" height="5.48" fill="rgb(251,165,31)"/>
<rect x="402.43" y="97.06" width="5.48" height="5.48" fill="rgb(251,165,31)"/>
<rect x="407.76" y="97.06" width="5.48" height="5.48" fill="rgb(252,132,31)"/>
<rect x="413.10" y="97.06" width="5.48" height="5.48" fill="rgb(246,118,24)"/>
<rect x="418.43" y="97.06" width="5.48" height="5.48" fill="rgb(248,124,27)"/>
<rect x="423.76" y="97.06" width="5.48" height="5.48" fill="rgb(251,131,30)"/>
<rect x="429.10" y="97.06" width="5.48" height="5.48" fill="rgb(252,169,33)"/>
<rect x="434.43" y="97.06" width="5.48" height="5.48" fill="rgb(251,164,31)"/>
<rect x="439.76" y="97.06" width="5.48" height="5.48" fill="rgb(244,114,22)"/>
<rect x="445.09" y="97.06" width="5.48" height="5.48" fill="rgb(247,121,25)"/>
<rect x="450.43" y="97.06" width="5.48" height="5.48" fill="rgb(241,83,25)"/>
<rect x="455.76" y="97.06" width="5.48" height="5.48" fill="rgb(244,91,29)"/>
<rect x="461.09" y="97.06" width="5.48" height="5.48" fill="rgb(234,66,17)"/>
<rect x="466.43" y="97.06" width="5.48" height="5.48" fill="rgb(249,126,28)"/>
<rect x="471.76" y="97.06" width="5.48" height="5.48" fill="rgb(240,218,35)"/>
<rect x="477.09" y="97.06" width="5.48" height="5.48" fill="rgb(252,133,31)"/>
<rect x="391.76" y="102.40" width="5.48" height="5.48" fill="rgb(247,120,25)"/>
<rect x="397.10" y="102.40" width="5.48" height="5.48" fill="rgb(248,238,45)"/>
<rect x="402.43" y="102.40" width="5.48" height="5.48" fill="rgb(249,126,28)"/>
<rect x="407.76" y="102.40" width="5.48" height="5.48" fill="rgb(243,226,39)"/>
<rect x="413.10" y="102.40" width="5.48" height="5.48" fill="rgb(252,133,31)"/>
<rect x="418.43" y="102.40" width="5.48" height="5.48" fill="rgb(246,118,24)"/>
<rect x="423.76" y="102.40" width="5.48" height="5.48" fill="rgb(245,116,23)"/>
<rect x="429.10" y="102.40" width="5.48" height="5.48" fill="rgb(249,161,29)"/>
<rect x="434.43" y="102.40" width="5.48" height="5.48" fill="rgb(251,131,30)"/>
<rect x="439.76" y="102.40" width="5.48" height="5.48" fill="rgb(253,134,32)"/>
<rect x="445.09" y="102.40" width="5.48" height="5.48" fill="rgb(227,27,24)"/>
<rect x="450.43" y="102.40" width="5.48" height="5.48" fill="rgb(226,24,23)"/>
<rect x="455.76" y="102.40" width="5.48" height="5.48" fill="rgb(229,32,27)"/>
<rect x="461.09" y="102.40" width="5.48" height="5.48" fill="rgb(244,113,21)"/>
<rect x="466.43" y="102.40" width="5.48" height="5.48" fill="rgb(243,225,38)"/>
<rect x="471.76" y="102.40" width="5.48" height="5.48" fill="rgb(245,231,41)"/>
<rect x="477.09" y="102.40" width="5.48" height="5.48" fill="rgb(247,121,25)"/>
<rect x="391.76" y="107.73" width="5.48" height="5.48" fill="rgb(237,74,21)"/>
<rect x="397.10" y="107.73" width="5.48" height="5.48" fill="rgb(253,171,34)"/>
<rect x="402.43" y="107.73" width="5.48" height="5.48" fill="rgb(255,175,36)"/>
<rect x="407.76" y="107.73" width="5.48" height="5.48" fill="rgb(243,110,20)"/>
<rect x="413.10" y="107.73" width="5.48" height="5.48" fill="rgb(254,172,35)"/>
<rect x="418.43" y="107.73" width="5.48" height="5.48" fill="rgb(252,167,32)"/>
<rect x="423.76" y="107.73" width="5.48" height="5.48" fill="rgb(245,116,23)"/>
<rect x="429.10" y="107.73" width="5.48" height="5.48" fill="rgb(242,108,19)"/>
<rect x="434.43" y="107.73" width="5.48" height="5.48" fill="rgb(249,160,29)"/>
<rect x="439.76" y="107.73" width="5.48" height="5.48" fill="rgb(194,22,33)"/>
<rect x="445.09" y="107.73" width="5.48" height="5.48" fill="rgb(233,43,32)"/>
<rect x="450.43" y="107.73" width="5.48" height="5.48" fill="rgb(227,26,24)"/>
<rect x="455.76" y="107.73" width="5.48" height="5.48" fill="rgb(235,69,18)"/>
<rect x="461.09" y="107.73" width="5.48" height="5.48" fill="rgb(251,165,31)"/>
<rect x="466.43" y="107.73" width="5.48" height="5.48" fill="rgb(249,125,27)"/>
<rect x="471.76" y="107.73" width="5.48" height="5.48" fill="rgb(245,232,42)"/>
<rect x="386.43" y="113.06" width="5.48" height="5.48" fill="rgb(253,170,34)"/>
<rect x="391.76" y="113.06" width="5.48" height="5.48" fill="rgb(255,174,36)"/>
<rect x="397.10" y="113.06" width="5.48" height="5.48" fill="rgb(244,113,21)"/>
<rect x="402.43" y="113.06" width="5.48" height="5.48" fill="rgb(244,113,21)"/>
<rect x="407.76" y="113.06" width="5.48" height="5.48" fill="rgb(249,161,29)"/>
<rect x="413.10" y="113.06" width="5.48" height="5.48" fill="rgb(244,113,21)"/>
<rect x="418.43" y="113.06" width="5.48" height="5.48" fill="rgb(246,117,23)"/>
<rect x="423.76" y="113.06" width="5.48" height="5.48" fill="rgb(248,122,26)"/>
<rect x="429.10" y="113.06" width="5.48" height="5.48" fill="rgb(250,129,29)"/>
<rect x="434.43" y="113.06" width="5.48" height="5.48" fill="rgb(251,130,30)"/>
<rect x="439.76" y="113.06" width="5.48" height="5.48" fill="rgb(243,110,20)"/>
<rect x="445.09" y="113.06" width="5.48" height="5.48" fill="rgb(234,46,34)"/>
<rect x="450.43" y="113.06" width="5.48" height="5.48" fill="rgb(232,40,31)"/>
<rect x="455.76" y="113.06" width="5.48" height="5.48" fill="rgb(249,160,29)"/>
<rect x="461.09" y="113.06" width="5.48" height="5.48" fill="rgb(252,133,31)"/>
<rect x="466.43" y="113.06" width="5.48" height="5.48" fill="rgb(238,76,22)"/>
<rect x="349.10" y="118.40" width="5.48" height="5.48" fill="rgb(240,81,24)"/>
<rect x="354.43" y="118.40" width="5.48" height="5.48" fill="rgb(244,90,29)"/>
<rect x="359.77" y="118.40" width="5.48" height="5.48" fill="rgb(243,88,28)"/>
<rect x="365.10" y="118.40" width="5.48" height="5.48" fill="rgb(244,92,30)"/>
<rect x="370.43" y="118.40" width="5.48" height="5.48" fill="rgb(239,78,23)"/>
<rect x="375.77" y="118.40" width="5.48" height="5.48" fill="rgb(241,84,26)"/>
<rect x="381.10" y="118.40" width="5.48" height="5.48" fill="rgb(236,71,19)"/>
<rect x="386.43" y="118.40" width="5.48" height="5.48" fill="rgb(246,234,43)"/>
<rect x="391.76" y="118.40" width="5.48" height="5.48" fill="rgb(179,246,44)"/>
<rect x="397.10" y="118.40" width="5.48" height="5.48" fill="rgb(250,128,29)"/>
<rect x="402.43" y="118.40" width="5.48" height="5.48" fill="rgb(248,239,45)"/>
<rect x="407.76" y="118.40" width="5.48" height="5.48" fill="rgb(253,135,32)"/>
<rect x="413.10" y="118.40" width="5.48" height="5.48" fill="rgb(251,130,30)"/>
<rect x="418.43" y="118.40" width="5.48" height="5.48" fill="rgb(252,133,31)"/>
<rect x="423.76" y="118.40" width="5.48" height="5.48" fill="rgb(179,247,44)"/>
<rect x="429.10" y="118.40" width="5.48" height="5.48" fill="rgb(174,233,37)"/>
<rect x="434.43" y="118.40" width="5.48" height="5.48" fill="rgb(171,226,34)"/>
<rect x="439.76" y="118.40" width="5.48" height="5.48" fill="rgb(249,160,29)"/>
<rect x="445.09" y="118.40" width="5.48" height="5.48" fill="rgb(251,129,29)"/>
<rect x="450.43" y="118.40" width="5.48" height="5.48" fill="rgb(175,237,39)"/>
<rect x="455.76" y="118.40" width="5.48" height="5.48" fill="rgb(238,214,33)"/>
<rect x="461.09" y="118.40" width="5.48" height="5.48" fill="rgb(243,109,19)"/>
<rect x="466.43" y="118.40" width="5.48" height="5.48" fill="rgb(243,88,28)"/>
<rect x="471.76" y="118.40" width="5.48" height="5.48" fill="rgb(92,224,35)"/>
<rect x="477.09" y="118.40" width="5.48" height="5.48" fill="rgb(94,229,37)"/>
<rect x="354.43" y="123.73" width="5.48" height="5.48" fill="rgb(243,88,28)"/>
<rect x="359.77" y="123.73" width="5.48" height="5.48" fill="rgb(235,69,18)"/>
<rect x="365.10" y="123.73" width="5.48" height="5.48" fill="rgb(236,70,19)"/>
<rect x="370.43" y="123.73" width="5.48" height="5.48" fill="rgb(240,80,24)"/>
<rect x="375.77" y="123.73" width="5.48" height="5.48" fill="rgb(242,86,27)"/>
<rect x="381.10" y="123.73" width="5.48" height="5.48" fill="rgb(243,89,28)"/>
<rect x="386.43" y="123.73" width="5.48" height="5.48" fill="rgb(250,127,28)"/>
<rect x="391.76" y="123.73" width="5.48" height="5.48" fill="rgb(248,240,46)"/>
<rect x="397.10" y="123.73" width="5.48" height="5.48" fill="rgb(253,134,32)"/>
<rect x="402.43" y="123.73" width="5.48" height="5.48" fill="rgb(246,154,26)"/>
<rect x="407.76" y="123.73" width="5.48" height="5.48" fill="rgb(245,116,23)"/>
<rect x="413.10" y="123.73" width="5.48" height="5.48" fill="rgb(249,125,27)"/>
<rect x="418.43" y="123.73" width="5.48" height="5.48" fill="rgb(251,131,30)"/>
<rect x="423.76" y="123.73" width="5.48" height="5.48" fill="rgb(176,239,40)"/>
<rect x="429.10" y="123.73" width="5.48" height="5.48" fill="rgb(93,228,37)"/>
<rect x="434.43" y="123.73" width="5.48" height="5.48" fill="rgb(94,230,38)"/>
<rect x="439.76" y="123.73" width="5.48" height="5.48" fill="rgb(252,133,31)"/>
<rect x="445.09" y="123.73" width="5.48" height="5.48" fill="rgb(247,237,44)"/>
<rect x="450.43" y="123.73" width="5.48" height="5.48" fill="rgb(101,247,46)"/>
<rect x="455.76" y="123.73" width="5.48" height="5.48" fill="rgb(96,234,40)"/>
<rect x="461.09" y="123.73" width="5.48" height="5.48" fill="rgb(96,236,41)"/>
<rect x="466.43" y="123.73" width="5.48" height="5.48" fill="rgb(92,225,35)"/>
<rect x="471.76" y="123.73" width="5.48" height="5.48" fill="rgb(96,235,40)"/>
<rect x="477.09" y="123.73" width="5.48" height="5.48" fill="rgb(96,234,40)"/>
<rect x="354.43" y="129.06" width="5.48" height="5.48" fill="rgb(241,82,25)"/>
<rect x="359.77" y="129.06" width="5.48" height="5.48" fill="rgb(234,66,17)"/>
<rect x="365.10" y="129.06" width="5.48" height="5.48" fill="rgb(245,93,30)"/>
<rect x="370.43" y="129.06" width="5.48" height="5.48" fill="rgb(240,80,24)"/>
<rect x="375.77" y="129.06" width="5.48" height="5.48" fill="rgb(238,77,22)"/>
<rect x="381.10" y="129.06" width="5.48" height="5.48" fill="rgb(253,170,34)"/>
<rect x="386.43" y="129.06" width="5.48" height="5.48" fill="rgb(250,163,30)"/>
<rect x="391.76" y="129.06" width="5.48" height="5.48" fill="rgb(249,161,29)"/>
<rect x="397.10" y="129.06" width="5.48" height="5.48" fill="rgb(252,167,32)"/>
<rect x="402.43" y="129.06" width="5.48" height="5.48" fill="rgb(245,149,23)"/>
<rect x="407.76" y="129.06" width="5.48" height="5.48" fill="rgb(247,119,24)"/>
<rect x="413.10" y="129.06" width="5.48" height="5.48" fill="rgb(252,133,31)"/>
<rect x="418.43" y="129.06" width="5.48" height="5.48" fill="rgb(239,79,23)"/>
<rect x="423.76" y="129.06" width="5.48" height="5.48" fill="rgb(171,227,34)"/>
<rect x="429.10" y="129.06" width="5.48" height="5.48" fill="rgb(95,232,39)"/>
<rect x="434.43" y="129.06" width="5.48" height="5.48" fill="rgb(99,242,44)"/>
<rect x="439.76" y="129.06" width="5.48" height="5.48" fill="rgb(247,121,25)"/>
<rect x="445.09" y="129.06" width="5.48" height="5.48" fill="rgb(93,228,37)"/>
<rect x="450.43" y="129.06" width="5.48" height="5.48" fill="rgb(92,225,35)"/>
<rect x="455.76" y="129.06" width="5.48" height="5.48" fill="rgb(97,237,41)"/>
<rect x="461.09" y="129.06" width="5.48" height="5.48" fill="rgb(100,245,45)"/>
<rect x="466.43" y="129.06" width="5.48" height="5.48" fill="rgb(91,223,34)"/>
<rect x="471.76" y="129.06" width="5.48" height="5.48" fill="rgb(99,241,43)"/>
<rect x="477.09" y="129.06" width="5.48" height="5.48" fill="rgb(90,220,33)"/>
<rect x="354.43" y="134.39" width="5.48" height="5.48" fill="rgb(236,71,19)"/>
<rect x="359.77" y="134.39" width="5.48" height="5.48" fill="rgb(236,72,20)"/>
<rect x="365.10" y="134.39" width="5.48" height="5.48" fill="rgb(242,85,26)"/>
<rect x="370.43" y="134.39" width="5.48" height="5.48" fill="rgb(238,75,21)"/>
<rect x="375.77" y="134.39" width="5.48" height="5.48" fill="rgb(246,117,23)"/>
<rect x="381.10" y="134.39" width="5.48" height="5.48" fill="rgb(249,125,27)"/>
<rect x="386.43" y="134.39" width="5.48" height="5.48" fill="rgb(243,110,20)"/>
<rect x="391.76" y="134.39" width="5.48" height="5.48" fill="rgb(243,111,20)"/>
<rect x="397.10" y="134.39" width="5.48" height="5.48" fill="rgb(245,115,22)"/>
<rect x="402.43" y="134.39" width="5.48" height="5.48" fill="rgb(244,228,40)"/>
<rect x="407.76" y="134.39" width="5.48" height="5.48" fill="rgb(246,118,24)"/>
<rect x="413.10" y="134.39" width="5.48" height="5.48" fill="rgb(249,159,28)"/>
<rect x="418.43" y="134.39" width="5.48" height="5.48" fill="rgb(176,238,40)"/>
<rect x="423.76" y="134.39" width="5.48" height="5.48" fill="rgb(172,228,35)"/>
<rect x="429.10" y="134.39" width="5.48" height="5.48" fill="rgb(172,229,35)"/>
<rect x="434.43" y="134.39" width="5.48" height="5.48" fill="rgb(177,241,41)"/>
<rect x="439.76" y="134.39" width="5.48" height="5.48" fill="rgb(177,241,41)"/>
<rect x="445.09" y="134.39" width="5.48" height="5.48" fill="rgb(96,234,40)"/>
<rect x="450.43" y="134.39" width="5.48" height="5.48" fill="rgb(99,243,44)"/>
<rect x="455.76" y="134.39" width="5.48" height="5.48" fill="rgb(97,237,41)"/>
<rect x="461.09" y="134.39" width="5.48" height="5.48" fill="rgb(99,243,44)"/>
<rect x="466.43" y="134.39" width="5.48" height="5.48" fill="rgb(242,86,27)"/>
<rect x="471.76" y="134.39" width="5.48" height="5.48" fill="rgb(99,242,44)"/>
<rect x="477.09" y="134.39" width="5.48" height="5.48" fill="rgb(100,245,45)"/>
<rect x="354.43" y="139.73" width="5.48" height="5.48" fill="rgb(237,74,21)"/>
<rect x="359.77" y="139.73" width="5.48" height="5.48" fill="rgb(237,74,21)"/>
<rect x="365.10" y="139.73" width="5.48" height="5.48" fill="rgb(244,91,29)"/>
<rect x="370.43" y="139.73" width="5.48" height="5.48" fill="rgb(244,114,22)"/>
<rect x="375.77" y="139.73" width="5.48" height="5.48" fill="rgb(253,135,32)"/>
<rect x="381.10" y="139.73" width="5.48" height="5.48" fill="rgb(252,132,31)"/>
<rect x="386.43" y="139.73" width="5.48" height="5.48" fill="rgb(243,111,20)"/>
<rect x="391.76" y="139.73" width="5.48" height="5.48" fill="rgb(242,86,27)"/>
<rect x="397.10" y="139.73" width="5.48" height="5.48" fill="rgb(235,68,18)"/>
<rect x="402.43" y="139.73" width="5.48" height="5.48" fill="rgb(247,119,24)"/>
<rect x="407.76" y="139.73" width="5.48" height="5.48" fill="rgb(243,111,20)"/>
<rect x="413.10" y="139.73" width="5.48" height="5.48" fill="rgb(174,235,38)"/>
<rect x="418.43" y="139.73" width="5.48" height="5.48" fill="rgb(178,243,42)"/>
<rect x="423.76" y="139.73" width="5.48" height="5.48" fill="rgb(170,224,33)"/>
<rect x="429.10" y="139.73" width="5.48" height="5.48" fill="rgb(172,229,35)"/>
<rect x="434.43" y="139.73" width="5.48" height="5.48" fill="rgb(178,243,42)"/>
<rect x="439.76" y="139.73" width="5.48" height="5.48" fill="rgb(180,249,45)"/>
<rect x="445.09" y="139.73" width="5.48" height="5.48" fill="rgb(181,251,46)"/>
<rect x="450.43" y="139.73" width="5.48" height="5.48" fill="rgb(171,227,34)"/>
<rect x="455.76" y="139.73" width="5.48" height="5.48" fill="rgb(176,238,40)"/>
<rect x="461.09" y="139.73" width="5.48" height="5.48" fill="rgb(246,235,43)"/>
<rect x="466.43" y="139.73" width="5.48" height="5.48" fill="rgb(250,127,28)"/>
<rect x="471.76" y="139.73" width="5.48" height="5.48" fill="rgb(172,229,35)"/>
<rect x="477.09" y="139.73" width="5.48" height="5.48" fill="rgb(171,225,33)"/>
<rect x="370.43" y="145.06" width="5.48" height="5.48" fill="rgb(243,110,20)"/>
<rect x="375.77" y="145.06" width="5.48" height="5.48" fill="rgb(242,109,19)"/>
<rect x="381.10" y="145.06" width="5.48" height="5.48" fill="rgb(248,123,26)"/>
<rect x="386.43" y="145.06" width="5.48" height="5.48" fill="rgb(248,122,26)"/>
<rect x="391.76" y="145.06" width="5.48" height="5.48" fill="rgb(244,112,21)"/>
<rect x="397.10" y="145.06" width="5.48" height="5.48" fill="rgb(240,219,35)"/>
<rect x="402.43" y="145.06" width="5.48" height="5.48" fill="rgb(253,135,32)"/>
<rect x="407.76" y="145.06" width="5.48" height="5.48" fill="rgb(180,249,45)"/>
<rect x="413.10" y="145.06" width="5.48" height="5.48" fill="rgb(171,226,34)"/>
<rect x="418.43" y="145.06" width="5.48" height="5.48" fill="rgb(171,225,33)"/>
<rect x="423.76" y="145.06" width="5.48" height="5.48" fill="rgb(101,246,46)"/>
<rect x="429.10" y="145.06" width="5.48" height="5.48" fill="rgb(249,160,29)"/>
<rect x="434.43" y="145.06" width="5.48" height="5.48" fill="rgb(252,169,33)"/>
<rect x="439.76" y="145.06" width="5.48" height="5.48" fill="rgb(174,233,37)"/>
<rect x="445.09" y="145.06" width="5.48" height="5.48" fill="rgb(175,237,39)"/>
<rect x="450.43" y="145.06" width="5.48" height="5.48" fill="rgb(176,238,40)"/>
<rect x="455.76" y="145.06" width="5.48" height="5.48" fill="rgb(243,226,39)"/>
<rect x="461.09" y="145.06" width="5.48" height="5.48" fill="rgb(245,230,41)"/>
<rect x="466.43" y="145.06" width="5.48" height="5.48" fill="rgb(238,214,33)"/>
<rect x="471.76" y="145.06" width="5.48" height="5.48" fill="rgb(178,243,42)"/>
<rect x="477.09" y="145.06" width="5.48" height="5.48" fill="rgb(179,247,44)"/>
<rect x="375.77" y="150.39" width="5.48" height="5.48" fill="rgb(244,113,21)"/>
<rect x="381.10" y="150.39" width="5.48" height="5.48" fill="rgb(247,120,25)"/>
<rect x="386.43" y="150.39" width="5.48" height="5.48" fill="rgb(250,128,29)"/>
<rect x="391.76" y="150.39" width="5.48" height="5.48" fill="rgb(244,113,21)"/>
<rect x="397.10" y="150.39" width="5.48" height="5.48" fill="rgb(244,228,40)"/>
<rect x="402.43" y="150.39" width="5.48" height="5.48" fill="rgb(254,173,35)"/>
<rect x="407.76" y="150.39" width="5.48" height="5.48" fill="rgb(99,242,44)"/>
<rect x="413.10" y="150.39" width="5.48" height="5.48" fill="rgb(98,239,42)"/>
<rect x="418.43" y="150.39" width="5.48" height="5.48" fill="rgb(249,125,27)"/>
<rect x="423.76" y="150.39" width="5.48" height="5.48" fill="rgb(249,124,27)"/>
<rect x="429.10" y="150.39" width="5.48" height="5.48" fill="rgb(253,135,32)"/>
<rect x="434.43" y="150.39" width="5.48" height="5.48" fill="rgb(247,236,44)"/>
<rect x="439.76" y="150.39" width="5.48" height="5.48" fill="rgb(241,221,36)"/>
<rect x="445.09" y="150.39" width="5.48" height="5.48" fill="rgb(180,249,45)"/>
<rect x="450.43" y="150.39" width="5.48" height="5.48" fill="rgb(251,129,29)"/>
<rect x="455.76" y="150.39" width="5.48" height="5.48" fill="rgb(246,119,24)"/>
<rect x="461.09" y="150.39" width="5.48" height="5.48" fill="rgb(248,239,45)"/>
<rect x="466.43" y="150.39" width="5.48" height="5.48" fill="rgb(248,238,45)"/>
<rect x="471.76" y="150.39" width="5.48" height="5.48" fill="rgb(98,239,42)"/>
<rect x="477.09" y="150.39" width="5.48" height="5.48" fill="rgb(98,241,43)"/>
<rect x="375.77" y="155.73" width="5.48" height="5.48" fill="rgb(250,129,29)"/>
<rect x="381.10" y="155.73" width="5.48" height="5.48" fill="rgb(246,119,24)"/>
<rect x="386.43" y="155.73" width="5.48" height="5.48" fill="rgb(250,128,29)"/>
<rect x="391.76" y="155.73" width="5.48" height="5.48" fill="rgb(248,157,27)"/>
<rect x="397.10" y="155.73" width="5.48" height="5.48" fill="rgb(242,108,19)"/>
<rect x="402.43" y="155.73" width="5.48" height="5.48" fill="rgb(249,125,27)"/>
<rect x="407.76" y="155.73" width="5.48" height="5.48" fill="rgb(177,241,41)"/>
<rect x="413.10" y="155.73" width="5.48" height="5.48" fill="rgb(172,230,36)"/>
<rect x="418.43" y="155.73" width="5.48" height="5.48" fill="rgb(249,126,28)"/>
<rect x="423.76" y="155.73" width="5.48" height="5.48" fill="rgb(249,126,28)"/>
<rect x="429.10" y="155.73" width="5.48" height="5.48" fill="rgb(248,122,26)"/>
<rect x="434.43" y="155.73" width="5.48" height="5.48" fill="rgb(174,234,38)"/>
<rect x="439.76" y="155.73" width="5.48" height="5.48" fill="rgb(249,241,46)"/>
<rect x="445.09" y="155.73" width="5.48" height="5.48" fill="rgb(245,231,41)"/>
<rect x="450.43" y="155.73" width="5.48" height="5.48" fill="rgb(250,129,29)"/>
<rect x="455.76" y="155.73" width="5.48" height="5.48" fill="rgb(242,108,19)"/>
<rect x="461.09" y="155.73" width="5.48" height="5.48" fill="rgb(251,165,31)"/>
<rect x="466.43" y="155.73" width="5.48" height="5.48" fill="rgb(252,168,33)"/>
<rect x="471.76" y="155.73" width="5.48" height="5.48" fill="rgb(93,227,36)"/>
<rect x="477.09" y="155.73" width="5.48" height="5.48" fill="rgb(94,231,38)"/>
<rect x="375.77" y="161.06" width="5.48" height="5.48" fill="rgb(242,109,19)"/>
<rect x="381.10" y="161.06" width="5.48" height="5.48" fill="rgb(172,229,35)"/>
<rect x="386.43" y="161.06" width="5.48" height="5.48" fill="rgb(174,234,38)"/>
<rect x="391.76" y="161.06" width="5.48" height="5.48" fill="rgb(247,155,26)"/>
<rect x="397.10" y="161.06" width="5.48" height="5.48" fill="rgb(248,123,26)"/>
<rect x="402.43" y="161.06" width="5.48" height="5.48" fill="rgb(253,135,32)"/>
<rect x="407.76" y="161.06" width="5.48" height="5.48" fill="rgb(244,229,40)"/>
<rect x="413.10" y="161.06" width="5.48" height="5.48" fill="rgb(249,125,27)"/>
<rect x="418.43" y="161.06" width="5.48" height="5.48" fill="rgb(243,110,20)"/>
<rect x="423.76" y="161.06" width="5.48" height="5.48" fill="rgb(245,230,41)"/>
<rect x="429.10" y="161.06" width="5.48" height="5.48" fill="rgb(246,235,43)"/>
<rect x="434.43" y="161.06" width="5.48" height="5.48" fill="rgb(238,215,33)"/>
<rect x="439.76" y="161.06" width="5.48" height="5.48" fill="rgb(244,112,21)"/>
<rect x="445.09" y="161.06" width="5.48" height="5.48" fill="rgb(244,112,21)"/>
<rect x="450.43" y="161.06" width="5.48" height="5.48" fill="rgb(249,125,27)"/>
<rect x="455.76" y="161.06" width="5.48" height="5.48" fill="rgb(254,174,36)"/>
<rect x="461.09" y="161.06" width="5.48" height="5.48" fill="rgb(248,122,26)"/>
<rect x="466.43" y="161.06" width="5.48" height="5.48" fill="rgb(246,118,24)"/>
<rect x="471.76" y="161.06" width="5.48" height="5.48" fill="rgb(241,222,37)"/>
<rect x="477.09" y="161.06" width="5.48" height="5.48" fill="rgb(97,238,42)"/>
<rect x="370.43" y="166.39" width="5.48" height="5.48" fill="rgb(248,123,26)"/>
<rect x="375.77" y="166.39" width="5.48" height="5.48" fill="rgb(245,115,22)"/>
<rect x="381.10" y="166.39" width="5.48" height="5.48" fill="rgb(250,128,29)"/>
<rect x="386.43" y="166.39" width="5.48" height="5.48" fill="rgb(245,116,23)"/>
<rect x="391.76" y="166.39" width="5.48" height="5.48" fill="rgb(247,154,26)"/>
<rect x="397.10" y="166.39" width="5.48" height="5.48" fill="rgb(246,152,25)"/>
<rect x="402.43" y="166.39" width="5.48" height="5.48" fill="rgb(246,118,24)"/>
<rect x="407.76" y="166.39" width="5.48" height="5.48" fill="rgb(100,245,45)"/>
<rect x="413.10" y="166.39" width="5.48" height="5.48" fill="rgb(98,240,43)"/>
<rect x="418.43" y="166.39" width="5.48" height="5.48" fill="rgb(255,175,36)"/>
<rect x="423.76" y="166.39" width="5.48" height="5.48" fill="rgb(248,240,46)"/>
<rect x="429.10" y="166.39" width="5.48" height="5.48" fill="rgb(171,226,34)"/>
<rect x="434.43" y="166.39" width="5.48" height="5.48" fill="rgb(247,120,25)"/>
<rect x="439.76" y="166.39" width="5.48" height="5.48" fill="rgb(253,135,32)"/>
<rect x="445.09" y="166.39" width="5.48" height="5.48" fill="rgb(240,80,24)"/>
<rect x="450.43" y="166.39" width="5.48" height="5.48" fill="rgb(250,128,29)"/>
<rect x="455.76" y="166.39" width="5.48" height="5.48" fill="rgb(243,227,39)"/>
<rect x="461.09" y="166.39" width="5.48" height="5.48" fill="rgb(249,241,46)"/>
<rect x="466.43" y="166.39" width="5.48" height="5.48" fill="rgb(249,124,27)"/>
<rect x="471.76" y="166.39" width="5.48" height="5.48" fill="rgb(251,165,31)"/>
<rect x="477.09" y="166.39" width="5.48" height="5.48" fill="rgb(243,226,39)"/>
<rect x="375.77" y="171.73" width="5.48" height="5.48" fill="rgb(244,113,21)"/>
<rect x="381.10" y="171.73" width="5.48" height="5.48" fill="rgb(242,109,19)"/>
<rect x="386.43" y="171.73" width="5.48" height="5.48" fill="rgb(248,122,26)"/>
<rect x="391.76" y="171.73" width="5.48" height="5.48" fill="rgb(249,160,29)"/>
<rect x="397.10" y="171.73" width="5.48" height="5.48" fill="rgb(247,120,25)"/>
<rect x="402.43" y="171.73" width="5.48" height="5.48" fill="rgb(240,82,25)"/>
<rect x="407.76" y="171.73" width="5.48" height="5.48" fill="rgb(95,231,38)"/>
<rect x="413.10" y="171.73" width="5.48" height="5.48" fill="rgb(99,241,43)"/>
<rect x="418.43" y="171.73" width="5.48" height="5.48" fill="rgb(253,135,32)"/>
<rect x="423.76" y="171.73" width="5.48" height="5.48" fill="rgb(181,250,46)"/>
<rect x="429.10" y="171.73" width="5.48" height="5.48" fill="rgb(245,114,22)"/>
<rect x="434.43" y="171.73" width="5.48" height="5.48" fill="rgb(254,172,35)"/>
<rect x="439.76" y="171.73" width="5.48" height="5.48" fill="rgb(249,125,27)"/>
<rect x="445.09" y="171.73" width="5.48" height="5.48" fill="rgb(245,115,22)"/>
<rect x="450.43" y="171.73" width="5.48" height="5.48" fill="rgb(248,123,26)"/>
<rect x="455.76" y="171.73" width="5.48" height="5.48" fill="rgb(245,230,41)"/>
<rect x="461.09" y="171.73" width="5.48" height="5.48" fill="rgb(250,129,29)"/>
<rect x="466.43" y="171.73" width="5.48" height="5.48" fill="rgb(241,220,36)"/>
<rect x="471.76" y="171.73" width="5.48" height="5.48" fill="rgb(252,133,31)"/>
<rect x="477.09" y="171.73" width="5.48" height="5.48" fill="rgb(180,248,45)"/>
<rect x="375.77" y="177.06" width="5.48" height="5.48" fill="rgb(242,109,19)"/>
<rect x="381.10" y="177.06" width="5.48" height="5.48" fill="rgb(243,109,19)"/>
<rect x="386.43" y="177.06" width="5.48" height="5.48" fill="rgb(245,115,22)"/>
<rect x="391.76" y="177.06" width="5.48" height="5.48" fill="rgb(249,125,27)"/>
<rect x="397.10" y="177.06" width="5.48" height="5.48" fill="rgb(91,222,34)"/>
<rect x="402.43" y="177.06" width="5.48" height="5.48" fill="rgb(243,110,20)"/>
<rect x="407.76" y="177.06" width="5.48" height="5.48" fill="rgb(251,166,32)"/>
<rect x="413.10" y="177.06" width="5.48" height="5.48" fill="rgb(249,125,27)"/>
<rect x="418.43" y="177.06" width="5.48" height="5.48" fill="rgb(247,121,25)"/>
<rect x="423.76" y="177.06" width="5.48" height="5.48" fill="rgb(240,219,35)"/>
<rect x="429.10" y="177.06" width="5.48" height="5.48" fill="rgb(250,128,29)"/>
<rect x="434.43" y="177.06" width="5.48" height="5.48" fill="rgb(243,110,20)"/>
<rect x="439.76" y="177.06" width="5.48" height="5.48" fill="rgb(253,170,34)"/>
<rect x="445.09" y="177.06" width="5.48" height="5.48" fill="rgb(251,129,29)"/>
<rect x="450.43" y="177.06" width="5.48" height="5.48" fill="rgb(243,225,38)"/>
<rect x="455.76" y="177.06" width="5.48" height="5.48" fill="rgb(243,88,28)"/>
<rect x="461.09" y="177.06" width="5.48" height="5.48" fill="rgb(249,126,28)"/>
<rect x="466.43" y="177.06" width="5.48" height="5.48" fill="rgb(246,117,23)"/>
<rect x="471.76" y="177.06" width="5.48" height="5.48" fill="rgb(250,128,29)"/>
<rect x="477.09" y="177.06" width="5.48" height="5.48" fill="rgb(248,239,45)"/>
<rect x="402.43" y="182.39" width="5.48" height="5.48" fill="rgb(246,118,24)"/>
<rect x="407.76" y="182.39" width="5.48" height="5.48" fill="rgb(254,172,35)"/>
<rect x="413.10" y="182.39" width="5.48" height="5.48" fill="rgb(245,150,24)"/>
<rect x="418.43" y="182.39" width="5.48" height="5.48" fill="rgb(247,121,25)"/>
<rect x="423.76" y="182.39" width="5.48" height="5.48" fill="rgb(245,116,23)"/>
<rect x="429.10" y="182.39" width="5.48" height="5.48" fill="rgb(243,110,20)"/>
<rect x="434.43" y="182.39" width="5.48" height="5.48" fill="rgb(245,232,42)"/>
<rect x="439.76" y="182.39" width="5.48" height="5.48" fill="rgb(247,156,27)"/>
<rect x="445.09" y="182.39" width="5.48" height="5.48" fill="rgb(250,127,28)"/>
<rect x="450.43" y="182.39" width="5.48" height="5.48" fill="rgb(244,112,21)"/>
<rect x="455.76" y="182.39" width="5.48" height="5.48" fill="rgb(250,128,29)"/>
<rect x="461.09" y="182.39" width="5.48" height="5.48" fill="rgb(243,111,20)"/>
<rect x="466.43" y="182.39" width="5.48" height="5.48" fill="rgb(248,123,26)"/>
<rect x="471.76" y="182.39" width="5.48" height="5.48" fill="rgb(252,134,32)"/>
<rect x="477.09" y="182.39" width="5.48" height="5.48" fill="rgb(252,133,31)"/>
<rect x="402.43" y="187.72" width="5.48" height="5.48" fill="rgb(251,130,30)"/>
<rect x="407.76" y="187.72" width="5.48" height="5.48" fill="rgb(245,116,23)"/>
<rect x="413.10" y="187.72" width="5.48" height="5.48" fill="rgb(252,134,32)"/>
<rect x="418.43" y="187.72" width="5.48" height="5.48" fill="rgb(245,114,22)"/>
<rect x="423.76" y="187.72" width="5.48" height="5.48" fill="rgb(246,118,24)"/>
<rect x="429.10" y="187.72" width="5.48" height="5.48" fill="rgb(246,119,24)"/>
<rect x="434.43" y="187.72" width="5.48" height="5.48" fill="rgb(244,113,21)"/>
<rect x="439.76" y="187.72" width="5.48" height="5.48" fill="rgb(251,130,30)"/>
<rect x="445.09" y="187.72" width="5.48" height="5.48" fill="rgb(251,131,30)"/>
<rect x="450.43" y="187.72" width="5.48" height="5.48" fill="rgb(244,112,21)"/>
<rect x="455.76" y="187.72" width="5.48" height="5.48" fill="rgb(252,132,31)"/>
<rect x="461.09" y="187.72" width="5.48" height="5.48" fill="rgb(242,108,19)"/>
<rect x="466.43" y="187.72" width="5.48" height="5.48" fill="rgb(248,123,26)"/>
<rect x="471.76" y="187.72" width="5.48" height="5.48" fill="rgb(253,135,32)"/>
<rect x="477.09" y="187.72" width="5.48" height="5.48" fill="rgb(249,126,28)"/>
<rect x="423.76" y="193.06" width="5.48" height="5.48" fill="rgb(243,109,19)"/>
<rect x="429.10" y="193.06" width="5.48" height="5.48" fill="rgb(251,130,30)"/>
<rect x="434.43" y="193.06" width="5.48" height="5.48" fill="rgb(245,150,24)"/>
<rect x="439.76" y="193.06" width="5.48" height="5.48" fill="rgb(252,133,31)"/>
<rect x="445.09" y="193.06" width="5.48" height="5.48" fill="rgb(251,165,31)"/>
<rect x="450.43" y="193.06" width="5.48" height="5.48" fill="rgb(252,168,33)"/>
<rect x="455.76" y="193.06" width="5.48" height="5.48" fill="rgb(245,114,22)"/>
<rect x="461.09" y="193.06" width="5.48" height="5.48" fill="rgb(242,87,27)"/>
<rect x="429.10" y="198.39" width="5.48" height="5.48" fill="rgb(250,129,29)"/>
<rect x="434.43" y="198.39" width="5.48" height="5.48" fill="rgb(246,117,23)"/>
<rect x="439.76" y="198.39" width="5.48" height="5.48" fill="rgb(249,126,28)"/>
<rect x="445.09" y="198.39" width="5.48" height="5.48" fill="rgb(248,123,26)"/>
<rect x="450.43" y="198.39" width="5.48" height="5.48" fill="rgb(250,127,28)"/>
<rect x="455.76" y="198.39" width="5.48" height="5.48" fill="rgb(246,119,24)"/>
<rect x="429.10" y="203.72" width="5.48" height="5.48" fill="rgb(249,126,28)"/>
<rect x="434.43" y="203.72" width="5.48" height="5.48" fill="rgb(243,89,28)"/>
<rect x="439.76" y="203.72" width="5.48" height="5.48" fill="rgb(243,88,28)"/>
<rect x="445.09" y="203.72" width="5.48" height="5.48" fill="rgb(252,132,31)"/>
<rect x="429.10" y="209.06" width="5.48" height="5.48" fill="rgb(249,125,27)"/>
<rect x="434.43" y="209.06" width="5.48" height="5.48" fill="rgb(240,80,24)"/>
<rect x="439.76" y="209.06" width="5.48" height="5.48" fill="rgb(242,85,26)"/>
<rect x="370.43" y="182.39" width="5.48" height="5.48" fill="rgb(251,130,30)"/>
<rect x="407.76" y="193.06" width="5.48" height="5.48" fill="rgb(247,119,24)"/>
<rect x="413.10" y="193.06" width="5.48" height="5.48" fill="rgb(252,168,33)"/>
</g>
<rect x="353" y="123.73" width="1.6" height="21.33" fill="rgb(238,84,28)"/>
<path d="M482 70.5 C490 69 496.5 74 496.6 81 C496.6 88 492 94 487 95.5 L482 96 Z" fill="rgb(104,228,50)"/>
<path d="M482 96.5 C484.5 97 486.4 99.5 486.2 102.5 C486 105.5 484.5 107 482 107.4 Z" fill="rgb(246,124,30)"/>
<rect x="482.4" y="86" width="5.4" height="5.4" fill="rgb(240,130,36)"/>
<rect x="477" y="81" width="5.4" height="5.4" fill="rgb(240,224,44)"/>
<clipPath id="hm">
<rect x="439.76" y="38.40" width="5.33" height="5.43"/>
<rect x="418.43" y="43.73" width="42.66" height="5.43"/>
<rect x="407.76" y="49.07" width="64.00" height="5.43"/>
<rect x="407.76" y="54.40" width="69.33" height="5.43"/>
<rect x="407.76" y="59.73" width="74.66" height="5.43"/>
<rect x="402.43" y="65.06" width="80.00" height="5.43"/>
<rect x="402.43" y="70.40" width="90.66" height="5.43"/>
<rect x="402.43" y="75.73" width="90.66" height="5.43"/>
<rect x="407.76" y="81.06" width="85.33" height="5.43"/>
<rect x="391.76" y="86.40" width="101.33" height="5.43"/>
<rect x="386.43" y="91.73" width="101.33" height="5.43"/>
<rect x="386.43" y="97.06" width="95.99" height="5.43"/>
<rect x="391.76" y="102.40" width="90.66" height="5.43"/>
<rect x="391.76" y="107.73" width="85.33" height="5.43"/>
<rect x="386.43" y="113.06" width="85.33" height="5.43"/>
<rect x="349.10" y="118.40" width="133.33" height="5.43"/>
<rect x="354.43" y="123.73" width="127.99" height="5.43"/>
<rect x="354.43" y="129.06" width="127.99" height="5.43"/>
<rect x="354.43" y="134.39" width="127.99" height="5.43"/>
<rect x="354.43" y="139.73" width="127.99" height="5.43"/>
<rect x="370.43" y="145.06" width="111.99" height="5.43"/>
<rect x="375.77" y="150.39" width="106.66" height="5.43"/>
<rect x="375.77" y="155.73" width="106.66" height="5.43"/>
<rect x="375.77" y="161.06" width="106.66" height="5.43"/>
<rect x="370.43" y="166.39" width="111.99" height="5.43"/>
<rect x="375.77" y="171.73" width="106.66" height="5.43"/>
<rect x="375.77" y="177.06" width="106.66" height="5.43"/>
<rect x="402.43" y="182.39" width="80.00" height="5.43"/>
<rect x="402.43" y="187.72" width="80.00" height="5.43"/>
<rect x="423.76" y="193.06" width="42.66" height="5.43"/>
<rect x="429.10" y="198.39" width="32.00" height="5.43"/>
<rect x="429.10" y="203.72" width="21.33" height="5.43"/>
<rect x="429.10" y="209.06" width="16.00" height="5.43"/>
</clipPath>
<defs>
<filter id="spk" x="0" y="0" width="100%" height="100%" color-interpolation-filters="sRGB"><feTurbulence type="fractalNoise" baseFrequency="0.55" numOctaves="2" seed="5"/><feColorMatrix type="matrix" values="0 0 0 0 0.42  0 0 0 0 0.56  0 0 0 0 0.74  5 0 0 0 -2.35"/><feGaussianBlur stdDeviation="0.3"/></filter>
<filter id="spk2" x="0" y="0" width="100%" height="100%" color-interpolation-filters="sRGB"><feTurbulence type="fractalNoise" baseFrequency="0.7" numOctaves="2" seed="11"/><feColorMatrix type="matrix" values="0 0 0 0 0.96  0 0 0 0 0.82  0 0 0 0 0.20  0 5 0 0 -2.5"/><feGaussianBlur stdDeviation="0.3"/></filter>
<radialGradient id="dens" gradientUnits="userSpaceOnUse" cx="428" cy="118" r="82"><stop offset="0" stop-color="#fff"/><stop offset="0.6" stop-color="#ddd"/><stop offset="1" stop-color="#333"/></radialGradient>
<mask id="dm" maskUnits="userSpaceOnUse" x="340" y="30" width="210" height="200"><rect x="340" y="30" width="210" height="200" fill="url(#dens)"/></mask>
</defs>
<g clip-path="url(#hm)"><g mask="url(#dm)">
<rect x="349" y="38" width="150" height="178" filter="url(#spk2)" opacity="0.45"/>
<rect x="349" y="38" width="150" height="178" filter="url(#spk)" opacity="0.62"/>
</g></g>
<rect x="341.5" y="28.5" width="202.3" height="208.2" fill="none" stroke="#333" stroke-width="1.1"/>
<line x1="374.4" y1="26.3" x2="374.4" y2="28.5" stroke="#333" stroke-width="0.8"/>
<line x1="374.4" y1="236.7" x2="374.4" y2="239.1" stroke="#333" stroke-width="0.8"/>
<line x1="446" y1="26.3" x2="446" y2="28.5" stroke="#333" stroke-width="0.8"/>
<line x1="446" y1="236.7" x2="446" y2="239.1" stroke="#333" stroke-width="0.8"/>
<line x1="517.6" y1="26.3" x2="517.6" y2="28.5" stroke="#333" stroke-width="0.8"/>
<line x1="517.6" y1="236.7" x2="517.6" y2="239.1" stroke="#333" stroke-width="0.8"/>
<line x1="339.3" y1="76.6" x2="341.5" y2="76.6" stroke="#333" stroke-width="0.8"/>
<line x1="543.8" y1="76.6" x2="546.0" y2="76.6" stroke="#333" stroke-width="0.8"/>
<line x1="339.3" y1="148.2" x2="341.5" y2="148.2" stroke="#333" stroke-width="0.8"/>
<line x1="543.8" y1="148.2" x2="546.0" y2="148.2" stroke="#333" stroke-width="0.8"/>
<line x1="339.3" y1="219.8" x2="341.5" y2="219.8" stroke="#333" stroke-width="0.8"/>
<line x1="543.8" y1="219.8" x2="546.0" y2="219.8" stroke="#333" stroke-width="0.8"/>
<path d="M372.4 76.6H376.4M374.4 74.6V78.6" stroke="#aaa" stroke-width="0.5"/>
<path d="M374.4 218V221.4" stroke="#bbb" stroke-width="0.5"/>
<path d="M446 218V221.4" stroke="#bbb" stroke-width="0.5"/>
<path d="M517.6 218V221.4" stroke="#bbb" stroke-width="0.5"/>
<text x="365" y="24.6" font-family='"Liberation Serif", serif' font-size="6.3" text-anchor="start" fill="#666" textLength="20" lengthAdjust="spacing" xml:space="preserve">121° E</text>
<text x="430.3" y="24.6" font-family='"Liberation Serif", serif' font-size="6.3" text-anchor="start" fill="#666" textLength="31.5" lengthAdjust="spacing" xml:space="preserve">121° 20′E</text>
<text x="502" y="24.6" font-family='"Liberation Serif", serif' font-size="6.3" text-anchor="start" fill="#666" textLength="31" lengthAdjust="spacing" xml:space="preserve">121° 40′E</text>
<text x="309.8" y="78.69999999999999" font-family='"Liberation Serif", serif' font-size="6.3" text-anchor="start" fill="#666" textLength="29.8" lengthAdjust="spacing" xml:space="preserve">31° 20′N</text>
<text x="320.6" y="150.29999999999998" font-family='"Liberation Serif", serif' font-size="6.3" text-anchor="start" fill="#666" textLength="19" lengthAdjust="spacing" xml:space="preserve">31° N</text>
<text x="309.8" y="221.9" font-family='"Liberation Serif", serif' font-size="6.3" text-anchor="start" fill="#666" textLength="29.8" lengthAdjust="spacing" xml:space="preserve">30° 40′N</text>
<g transform="translate(342.4 29.4) scale(1.0)">
<text x="2.4" y="5.2" font-family='"Liberation Sans", sans-serif' font-size="6.4" font-weight="bold" fill="#111">N</text>
<path d="M5 7.6 L0.6 21.8 L5 17.6 Z" fill="#111" stroke="#111" stroke-width="0.5" stroke-linejoin="miter"/>
<path d="M5 7.6 L9.4 21.8 L5 17.6 Z" fill="#fff" stroke="#111" stroke-width="0.6" stroke-linejoin="miter"/>
</g>
<defs><linearGradient id="cb" x1="0" y1="0" x2="0" y2="1"><stop offset="0" stop-color="#f0481c"/><stop offset="0.28" stop-color="#f8a828"/><stop offset="0.5" stop-color="#f2ea30"/><stop offset="0.75" stop-color="#b4ee34"/><stop offset="1" stop-color="#58e62c"/></linearGradient></defs>
<rect x="510.4" y="113" width="15" height="80.6" fill="url(#cb)"/>
<text x="517.4" y="111.6" font-family='"Liberation Sans", sans-serif' font-size="8.8" font-weight="bold" text-anchor="middle" fill="#111">Good</text>
<text x="517.6" y="204.4" font-family='"Liberation Sans", sans-serif' font-size="8.8" font-weight="bold" text-anchor="middle" fill="#111">Poor</text>
<text transform="translate(502.8 155) rotate(-90)" font-family='"Liberation Sans", sans-serif' font-size="8.2" font-weight="bold" text-anchor="middle" fill="#2454a4">WQI<tspan font-size="5.8" dy="1.5">d</tspan></text>
<rect x="345.4" y="230" width="77.6" height="4" fill="#000"/>
<rect x="355" y="230.6" width="10" height="2.8" fill="#fff"/>
<rect x="374.6" y="230.6" width="9.6" height="2.8" fill="#fff"/>
<text x="346.4" y="227.8" font-family='"Liberation Serif", serif' font-size="5.8" text-anchor="middle" fill="#222">20</text>
<text x="365" y="227.8" font-family='"Liberation Serif", serif' font-size="5.8" text-anchor="middle" fill="#222">10</text>
<text x="384.4" y="227.8" font-family='"Liberation Serif", serif' font-size="5.8" text-anchor="middle" fill="#222">0</text>
<text x="420.6" y="227.8" font-family='"Liberation Serif", serif' font-size="5.8" fill="#222">20 km</text>
<text x="304" y="25.6" font-family='"Liberation Sans", sans-serif' font-size="13.2" font-weight="bold" fill="#182a78">(b)</text>
</g>
<g id="pc">
<line x1="76.0" y1="270.4" x2="532.2" y2="270.4" stroke="#c4c4c4" stroke-width="0.7" stroke-dasharray="1.2 1.2"/>
<line x1="76.0" y1="287.7" x2="532.2" y2="287.7" stroke="#c4c4c4" stroke-width="0.7" stroke-dasharray="1.2 1.2"/>
<line x1="76.0" y1="305.1" x2="532.2" y2="305.1" stroke="#c4c4c4" stroke-width="0.7" stroke-dasharray="1.2 1.2"/>
<line x1="76.0" y1="322.4" x2="532.2" y2="322.4" stroke="#c4c4c4" stroke-width="0.7" stroke-dasharray="1.2 1.2"/>
<line x1="76.0" y1="339.7" x2="532.2" y2="339.7" stroke="#c4c4c4" stroke-width="0.7" stroke-dasharray="1.2 1.2"/>
<line x1="76.0" y1="357.0" x2="532.2" y2="357.0" stroke="#c4c4c4" stroke-width="0.7" stroke-dasharray="1.2 1.2"/>
<line x1="76.0" y1="374.4" x2="532.2" y2="374.4" stroke="#c4c4c4" stroke-width="0.7" stroke-dasharray="1.2 1.2"/>
<line x1="76.0" y1="391.7" x2="532.2" y2="391.7" stroke="#c4c4c4" stroke-width="0.7" stroke-dasharray="1.2 1.2"/>
<line x1="76.0" y1="409.0" x2="532.2" y2="409.0" stroke="#c4c4c4" stroke-width="0.7" stroke-dasharray="1.2 1.2"/>
<line x1="76.0" y1="426.4" x2="532.2" y2="426.4" stroke="#c4c4c4" stroke-width="0.7" stroke-dasharray="1.2 1.2"/>
<rect x="76.0" y="261.4" width="456.2" height="182.2" fill="none" stroke="#111" stroke-width="1.4"/>
<line x1="69.5" y1="261.7" x2="76.0" y2="261.7" stroke="#111" stroke-width="1.3"/>
<text transform="translate(65.6 266.2) scale(1.1 1)" font-family='"Liberation Sans", sans-serif' font-size="13" text-anchor="end" fill="#111">0.18</text>
<line x1="69.5" y1="279.1" x2="76.0" y2="279.1" stroke="#111" stroke-width="1.3"/>
<text transform="translate(65.6 283.6) scale(1.1 1)" font-family='"Liberation Sans", sans-serif' font-size="13" text-anchor="end" fill="#111">0.16</text>
<line x1="69.5" y1="296.4" x2="76.0" y2="296.4" stroke="#111" stroke-width="1.3"/>
<text transform="translate(65.6 300.9) scale(1.1 1)" font-family='"Liberation Sans", sans-serif' font-size="13" text-anchor="end" fill="#111">0.14</text>
<line x1="69.5" y1="313.7" x2="76.0" y2="313.7" stroke="#111" stroke-width="1.3"/>
<text transform="translate(65.6 318.2) scale(1.1 1)" font-family='"Liberation Sans", sans-serif' font-size="13" text-anchor="end" fill="#111">0.12</text>
<line x1="69.5" y1="331.1" x2="76.0" y2="331.1" stroke="#111" stroke-width="1.3"/>
<text transform="translate(65.6 335.6) scale(1.1 1)" font-family='"Liberation Sans", sans-serif' font-size="13" text-anchor="end" fill="#111">0.10</text>
<line x1="69.5" y1="348.4" x2="76.0" y2="348.4" stroke="#111" stroke-width="1.3"/>
<text transform="translate(65.6 352.9) scale(1.1 1)" font-family='"Liberation Sans", sans-serif' font-size="13" text-anchor="end" fill="#111">0.08</text>
<line x1="69.5" y1="365.7" x2="76.0" y2="365.7" stroke="#111" stroke-width="1.3"/>
<text transform="translate(65.6 370.2) scale(1.1 1)" font-family='"Liberation Sans", sans-serif' font-size="13" text-anchor="end" fill="#111">0.06</text>
<line x1="69.5" y1="383.0" x2="76.0" y2="383.0" stroke="#111" stroke-width="1.3"/>
<text transform="translate(65.6 387.5) scale(1.1 1)" font-family='"Liberation Sans", sans-serif' font-size="13" text-anchor="end" fill="#111">0.04</text>
<line x1="69.5" y1="400.4" x2="76.0" y2="400.4" stroke="#111" stroke-width="1.3"/>
<text transform="translate(65.6 404.9) scale(1.1 1)" font-family='"Liberation Sans", sans-serif' font-size="13" text-anchor="end" fill="#111">0.02</text>
<line x1="69.5" y1="417.7" x2="76.0" y2="417.7" stroke="#111" stroke-width="1.3"/>
<text transform="translate(65.6 422.2) scale(1.1 1)" font-family='"Liberation Sans", sans-serif' font-size="13" text-anchor="end" fill="#111">0.00</text>
<line x1="69.5" y1="435.0" x2="76.0" y2="435.0" stroke="#111" stroke-width="1.3"/>
<text transform="translate(65.6 439.5) scale(1.1 1)" font-family='"Liberation Sans", sans-serif' font-size="13" text-anchor="end" fill="#111">-0.02</text>
<line x1="133.6" y1="443.6" x2="133.6" y2="450.4" stroke="#111" stroke-width="1.3"/>
<line x1="247" y1="443.6" x2="247" y2="450.4" stroke="#111" stroke-width="1.3"/>
<line x1="361" y1="443.6" x2="361" y2="450.4" stroke="#111" stroke-width="1.3"/>
<line x1="475" y1="443.6" x2="475" y2="450.4" stroke="#111" stroke-width="1.3"/>
<rect x="81.2" y="264.2" width="29.4" height="13.8" fill="none" stroke="#4a4a4a" stroke-width="1.1"/>
<text transform="translate(114.2 275.6) scale(1.03 1)" font-family='"Liberation Sans", sans-serif' font-size="12.4" fill="#111">Industrial</text>
<rect x="81.2" y="280.2" width="29.4" height="13.8" fill="none" stroke="#f44" stroke-width="1.1"/>
<text transform="translate(114.2 291.6) scale(1.03 1)" font-family='"Liberation Sans", sans-serif' font-size="12.4" fill="#111">Commercial</text>
<rect x="81.2" y="296.2" width="29.4" height="13.8" fill="none" stroke="#44f" stroke-width="1.1"/>
<text transform="translate(114.2 307.6) scale(1.03 1)" font-family='"Liberation Sans", sans-serif' font-size="12.4" fill="#111">Residential</text>
<rect x="81.2" y="312.2" width="29.4" height="13.8" fill="none" stroke="#f3f" stroke-width="1.1"/>
<text transform="translate(114.2 323.6) scale(1.03 1)" font-family='"Liberation Sans", sans-serif' font-size="12.4" fill="#111">Green space</text>
<g stroke="#444" fill="none" stroke-width="1.1">
<rect x="88" y="382" width="91.2" height="26.6"/>
<line x1="88" y1="398.6" x2="179.2" y2="398.6"/>
<line x1="133.6" y1="382" x2="133.6" y2="343.6"/>
<line x1="133.6" y1="408.6" x2="133.6" y2="417.4"/>
<line x1="127.8" y1="343.6" x2="139.4" y2="343.6" stroke-width="1.2"/>
<line x1="127.8" y1="417.4" x2="139.4" y2="417.4" stroke-width="1.2"/>
<rect x="132.0" y="391.4" width="3.2" height="3.2" stroke-width="0.7" opacity="0.8"/>
<path d="M131.29999999999998 335.09999999999997L135.9 339.7M131.29999999999998 339.7L135.9 335.09999999999997" stroke-width="0.7" opacity="0.75"/>
<path d="M131.29999999999998 415.09999999999997L135.9 419.7M131.29999999999998 419.7L135.9 415.09999999999997" stroke-width="0.7" opacity="0.75"/>
<line x1="131.4" y1="328.4" x2="135.79999999999998" y2="328.4" stroke-width="0.7" opacity="0.7"/>
</g>
<g stroke="#f22" fill="none" stroke-width="1.1">
<rect x="201.6" y="375.6" width="91.0" height="32.4"/>
<line x1="201.6" y1="394.4" x2="292.6" y2="394.4"/>
<line x1="247" y1="375.6" x2="247" y2="330.5"/>
<line x1="247" y1="408" x2="247" y2="417.4"/>
<line x1="241.2" y1="330.5" x2="252.8" y2="330.5" stroke-width="1.2"/>
<line x1="241.2" y1="417.4" x2="252.8" y2="417.4" stroke-width="1.2"/>
<rect x="245.4" y="385.79999999999995" width="3.2" height="3.2" stroke-width="0.7" opacity="0.8"/>
<path d="M244.7 307.7L249.3 312.3M244.7 312.3L249.3 307.7" stroke-width="0.7" opacity="0.75"/>
<path d="M244.7 415.09999999999997L249.3 419.7M244.7 419.7L249.3 415.09999999999997" stroke-width="0.7" opacity="0.75"/>
<line x1="244.8" y1="292.4" x2="249.2" y2="292.4" stroke-width="0.7" opacity="0.7"/>
</g>
<g stroke="#33f" fill="none" stroke-width="1.1">
<rect x="315.6" y="399" width="91.0" height="15.4"/>
<line x1="315.6" y1="410.8" x2="406.6" y2="410.8"/>
<line x1="361" y1="399" x2="361" y2="375"/>
<line x1="361" y1="414.4" x2="361" y2="417.2"/>
<line x1="355.2" y1="375" x2="366.8" y2="375" stroke-width="1.2"/>
<line x1="355.2" y1="417.2" x2="366.8" y2="417.2" stroke-width="1.2"/>
<rect x="359.4" y="400.0" width="3.2" height="3.2" stroke-width="0.7" opacity="0.8"/>
<path d="M358.7 332.3L363.3 336.90000000000003M358.7 336.90000000000003L363.3 332.3" stroke-width="0.7" opacity="0.75"/>
<path d="M358.7 414.9L363.3 419.5M358.7 419.5L363.3 414.9" stroke-width="0.7" opacity="0.75"/>
<line x1="358.8" y1="334.0" x2="363.2" y2="334.0" stroke-width="0.7" opacity="0.7"/>
</g>
<g stroke="#f2f" fill="none" stroke-width="1.1">
<rect x="429.4" y="397" width="91.2" height="12.0"/>
<line x1="429.4" y1="402.8" x2="520.6" y2="402.8"/>
<line x1="475" y1="397" x2="475" y2="378"/>
<line x1="475" y1="409" x2="475" y2="417.4"/>
<line x1="469.2" y1="378" x2="480.8" y2="378" stroke-width="1.2"/>
<line x1="469.2" y1="417.4" x2="480.8" y2="417.4" stroke-width="1.2"/>
<rect x="473.4" y="398.79999999999995" width="3.2" height="3.2" stroke-width="0.7" opacity="0.8"/>
<path d="M472.7 369.3L477.3 373.90000000000003M472.7 373.90000000000003L477.3 369.3" stroke-width="0.7" opacity="0.75"/>
<path d="M472.7 415.09999999999997L477.3 419.7M472.7 419.7L477.3 415.09999999999997" stroke-width="0.7" opacity="0.75"/>
<line x1="472.8" y1="363" x2="477.2" y2="363" stroke-width="0.7" opacity="0.7"/>
</g>
<text x="139.2" y="367" font-family='"Liberation Sans", sans-serif' font-size="13.5" font-weight="bold" fill="#f01010">a</text>
<text x="253.4" y="357" font-family='"Liberation Sans", sans-serif' font-size="13.5" font-weight="bold" fill="#f01010">a</text>
<text x="368.4" y="391.4" font-family='"Liberation Sans", sans-serif' font-size="13.5" font-weight="bold" fill="#f01010">b</text>
<text x="478.2" y="391.6" font-family='"Liberation Sans", sans-serif' font-size="13.5" font-weight="bold" fill="#f01010">c</text>
<text transform="translate(131.8 434) scale(1.07 1)" font-family='"Liberation Sans", sans-serif' font-size="12.8" font-weight="bold" text-anchor="middle" fill="#0d1f6b">0.028</text>
<text transform="translate(245.4 434) scale(1.07 1)" font-family='"Liberation Sans", sans-serif' font-size="12.8" font-weight="bold" text-anchor="middle" fill="#0d1f6b">0.035</text>
<text transform="translate(359.8 434) scale(1.07 1)" font-family='"Liberation Sans", sans-serif' font-size="12.8" font-weight="bold" text-anchor="middle" fill="#0d1f6b">0.018</text>
<text transform="translate(473.3 434) scale(1.07 1)" font-family='"Liberation Sans", sans-serif' font-size="12.8" font-weight="bold" text-anchor="middle" fill="#0d1f6b">0.019</text>
<text transform="translate(290.8 469.6) scale(1.05 1)" font-family='"Liberation Sans", sans-serif' font-size="13.7" font-weight="bold" text-anchor="middle" fill="#111" xml:space="preserve">Land  use  types</text>
<text transform="translate(23.2 350.8) rotate(-90) scale(1.1 1)" font-family='"Liberation Sans", sans-serif' font-size="13.1" font-weight="bold" text-anchor="middle" fill="#111" xml:space="preserve">Euclid  distances (km)</text>
<text transform="translate(5 261.8) scale(1.08 1)" font-family='"Liberation Sans", sans-serif' font-size="12" font-weight="bold" fill="#182a78">(c)</text>
</g>
</svg></body></html>
